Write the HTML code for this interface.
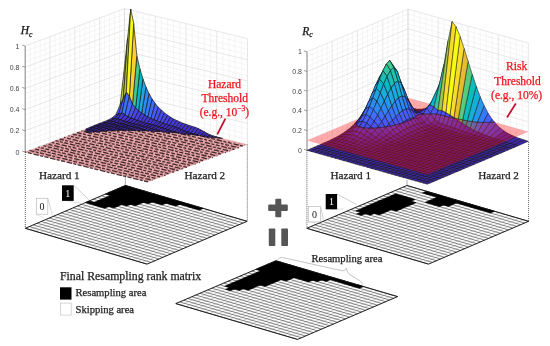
<!DOCTYPE html>
<html><head><meta charset="utf-8"><title>Resampling rank matrix</title>
<style>html,body{margin:0;padding:0;background:#fff;width:550px;height:346px;overflow:hidden}svg{display:block}</style>
</head><body>
<svg width="550" height="346" viewBox="0 0 550 346">
<rect width="550" height="346" fill="#fff"/>
<path d="M119.5 116.5L119.5 10.5M130.7 116.1L130.7 10.1M114.6 118.3L114.6 12.3M136.8 117.6L136.8 11.6M109.6 120.2L109.6 14.2M142.9 119.1L142.9 13.1M104.6 122.1L104.6 16.1M149.1 120.6L149.1 14.6M94.7 125.8L94.7 19.8M161.4 123.6L161.4 17.6M89.7 127.7L89.7 21.7M167.6 125.1L167.6 19.1M84.8 129.6L84.8 23.6M173.7 126.6L173.7 20.6M79.8 131.4L79.8 25.4M179.8 128.1L179.8 22.1M69.9 135.2L69.9 29.2M192.2 131.1L192.2 25.1M64.9 137.0L64.9 31.0M198.3 132.6L198.3 26.6M60.0 138.9L60.0 32.9M204.4 134.1L204.4 28.1M55.0 140.8L55.0 34.8M210.6 135.6L210.6 29.6M45.1 144.5L45.1 38.5M222.9 138.6L222.9 32.6M40.1 146.4L40.1 40.4M229.1 140.1L229.1 34.1M35.1 148.3L35.1 42.3M235.2 141.6L235.2 35.6M30.2 150.1L30.2 44.1M241.3 143.1L241.3 37.1M25.2 146.7L124.5 109.3M124.5 109.3L247.5 139.3M25.2 141.4L124.5 104.0M124.5 104.0L247.5 134.0M25.2 136.1L124.5 98.7M124.5 98.7L247.5 128.7M25.2 125.5L124.5 88.1M124.5 88.1L247.5 118.1M25.2 120.2L124.5 82.8M124.5 82.8L247.5 112.8M25.2 114.9L124.5 77.5M124.5 77.5L247.5 107.5M25.2 104.3L124.5 66.9M124.5 66.9L247.5 96.9M25.2 99.0L124.5 61.6M124.5 61.6L247.5 91.6M25.2 93.7L124.5 56.3M124.5 56.3L247.5 86.3M25.2 83.1L124.5 45.7M124.5 45.7L247.5 75.7M25.2 77.8L124.5 40.4M124.5 40.4L247.5 70.4M25.2 72.5L124.5 35.1M124.5 35.1L247.5 65.1M25.2 61.9L124.5 24.5M124.5 24.5L247.5 54.5M25.2 56.6L124.5 19.2M124.5 19.2L247.5 49.2M25.2 51.3L124.5 13.9M124.5 13.9L247.5 43.9" stroke="#e4e4e4" stroke-width="0.5" stroke-dasharray="2,0.6" fill="none"/><path d="M124.5 114.6L124.5 8.6M124.5 114.6L124.5 8.6M99.7 123.9L99.7 17.9M155.2 122.1L155.2 16.1M74.8 133.3L74.8 27.3M186.0 129.6L186.0 23.6M50.0 142.6L50.0 36.6M216.8 137.1L216.8 31.1M25.2 152.0L25.2 46.0M247.5 144.6L247.5 38.6M25.2 152.0L124.5 114.6M124.5 114.6L247.5 144.6M25.2 130.8L124.5 93.4M124.5 93.4L247.5 123.4M25.2 109.6L124.5 72.2M124.5 72.2L247.5 102.2M25.2 88.4L124.5 51.0M124.5 51.0L247.5 81.0M25.2 67.2L124.5 29.8M124.5 29.8L247.5 59.8M25.2 46.0L124.5 8.6M124.5 8.6L247.5 38.6" stroke="#d6d6d6" stroke-width="0.6" fill="none"/>
<path d="M402.9 109.7L402.9 11.2M414.0 109.3L414.0 10.8M397.9 111.9L397.9 13.4M420.0 111.0L420.0 12.5M392.9 114.0L392.9 15.5M426.0 112.7L426.0 14.2M387.8 116.1L387.8 17.6M432.1 114.4L432.1 15.9M377.7 120.4L377.7 21.9M444.1 117.8L444.1 19.3M372.6 122.5L372.6 24.0M450.1 119.5L450.1 21.0M367.6 124.7L367.6 26.2M456.1 121.2L456.1 22.7M362.6 126.8L362.6 28.3M462.1 122.9L462.1 24.4M352.4 131.1L352.4 32.6M474.2 126.2L474.2 27.7M347.4 133.2L347.4 34.7M480.2 127.9L480.2 29.4M342.4 135.4L342.4 36.9M486.2 129.6L486.2 31.1M337.3 137.5L337.3 39.0M492.2 131.3L492.2 32.8M327.2 141.8L327.2 43.3M504.2 134.7L504.2 36.2M322.1 143.9L322.1 45.4M510.3 136.4L510.3 37.9M317.1 146.0L317.1 47.5M516.3 138.1L516.3 39.6M312.1 148.2L312.1 49.7M522.3 139.8L522.3 41.3M307.0 145.4L408.0 102.7M408.0 102.7L528.3 136.6M307.0 140.5L408.0 97.8M408.0 97.8L528.3 131.7M307.0 135.5L408.0 92.8M408.0 92.8L528.3 126.7M307.0 125.7L408.0 83.0M408.0 83.0L528.3 116.9M307.0 120.8L408.0 78.0M408.0 78.0L528.3 112.0M307.0 115.8L408.0 73.1M408.0 73.1L528.3 107.0M307.0 106.0L408.0 63.3M408.0 63.3L528.3 97.2M307.0 101.1L408.0 58.3M408.0 58.3L528.3 92.2M307.0 96.1L408.0 53.4M408.0 53.4L528.3 87.3M307.0 86.3L408.0 43.6M408.0 43.6L528.3 77.5M307.0 81.4L408.0 38.7M408.0 38.7L528.3 72.6M307.0 76.4L408.0 33.7M408.0 33.7L528.3 67.6M307.0 66.6L408.0 23.9M408.0 23.9L528.3 57.8M307.0 61.7L408.0 18.9M408.0 18.9L528.3 52.8M307.0 56.7L408.0 14.0M408.0 14.0L528.3 47.9" stroke="#e4e4e4" stroke-width="0.5" stroke-dasharray="2,0.6" fill="none"/><path d="M408.0 107.6L408.0 9.1M408.0 107.6L408.0 9.1M382.8 118.3L382.8 19.8M438.1 116.1L438.1 17.6M357.5 128.9L357.5 30.4M468.1 124.5L468.1 26.0M332.2 139.6L332.2 41.1M498.2 133.0L498.2 34.5M307.0 150.3L307.0 51.8M528.3 141.5L528.3 43.0M307.0 150.3L408.0 107.6M408.0 107.6L528.3 141.5M307.0 130.6L408.0 87.9M408.0 87.9L528.3 121.8M307.0 110.9L408.0 68.2M408.0 68.2L528.3 102.1M307.0 91.2L408.0 48.5M408.0 48.5L528.3 82.4M307.0 71.5L408.0 28.8M408.0 28.8L528.3 62.7M307.0 51.8L408.0 9.1M408.0 9.1L528.3 43.0" stroke="#d6d6d6" stroke-width="0.6" fill="none"/>
<line x1="25.2" y1="152.0" x2="25.2" y2="46.0" stroke="#8c8c8c" stroke-width="1"/><line x1="22.2" y1="151.0" x2="25.2" y2="152.0" stroke="#777" stroke-width="0.7"/><text x="19.5" y="154.5" font-family="'Liberation Sans', Arial, sans-serif" font-size="7" fill="#444" text-anchor="end">0</text><line x1="22.2" y1="129.8" x2="25.2" y2="130.8" stroke="#777" stroke-width="0.7"/><text x="19.5" y="133.3" font-family="'Liberation Sans', Arial, sans-serif" font-size="7" fill="#444" text-anchor="end">0.2</text><line x1="22.2" y1="108.6" x2="25.2" y2="109.6" stroke="#777" stroke-width="0.7"/><text x="19.5" y="112.1" font-family="'Liberation Sans', Arial, sans-serif" font-size="7" fill="#444" text-anchor="end">0.4</text><line x1="22.2" y1="87.4" x2="25.2" y2="88.4" stroke="#777" stroke-width="0.7"/><text x="19.5" y="90.9" font-family="'Liberation Sans', Arial, sans-serif" font-size="7" fill="#444" text-anchor="end">0.6</text><line x1="22.2" y1="66.2" x2="25.2" y2="67.2" stroke="#777" stroke-width="0.7"/><text x="19.5" y="69.7" font-family="'Liberation Sans', Arial, sans-serif" font-size="7" fill="#444" text-anchor="end">0.8</text><line x1="22.2" y1="45.0" x2="25.2" y2="46.0" stroke="#777" stroke-width="0.7"/><text x="19.5" y="48.5" font-family="'Liberation Sans', Arial, sans-serif" font-size="7" fill="#444" text-anchor="end">1</text>
<line x1="307.0" y1="150.3" x2="307.0" y2="51.8" stroke="#8c8c8c" stroke-width="1"/><line x1="304.0" y1="149.3" x2="307.0" y2="150.3" stroke="#777" stroke-width="0.7"/><text x="302.0" y="152.8" font-family="'Liberation Sans', Arial, sans-serif" font-size="7" fill="#444" text-anchor="end">0</text><line x1="304.0" y1="129.6" x2="307.0" y2="130.6" stroke="#777" stroke-width="0.7"/><text x="302.0" y="133.1" font-family="'Liberation Sans', Arial, sans-serif" font-size="7" fill="#444" text-anchor="end">0.2</text><line x1="304.0" y1="109.9" x2="307.0" y2="110.9" stroke="#777" stroke-width="0.7"/><text x="302.0" y="113.4" font-family="'Liberation Sans', Arial, sans-serif" font-size="7" fill="#444" text-anchor="end">0.4</text><line x1="304.0" y1="90.2" x2="307.0" y2="91.2" stroke="#777" stroke-width="0.7"/><text x="302.0" y="93.7" font-family="'Liberation Sans', Arial, sans-serif" font-size="7" fill="#444" text-anchor="end">0.6</text><line x1="304.0" y1="70.5" x2="307.0" y2="71.5" stroke="#777" stroke-width="0.7"/><text x="302.0" y="74.0" font-family="'Liberation Sans', Arial, sans-serif" font-size="7" fill="#444" text-anchor="end">0.8</text><line x1="304.0" y1="50.8" x2="307.0" y2="51.8" stroke="#777" stroke-width="0.7"/><text x="302.0" y="54.3" font-family="'Liberation Sans', Arial, sans-serif" font-size="7" fill="#444" text-anchor="end">1</text>
<polygon points="25.2,152 124.5,114.6 247.5,144.6 148.2,182" fill="#eaa8ac"/>
<g stroke="#1c0c0e" stroke-width="1.3" stroke-dasharray="5.5,1.3,3,1.5,4,1.8" fill="none" opacity="0.8"><path d="M120.2 116.2L243.2 146.2" stroke-dashoffset="3.2"/><path d="M115.9 117.9L238.9 147.9" stroke-dashoffset="1.5"/><path d="M111.5 119.5L234.5 149.5" stroke-dashoffset="6.5"/><path d="M107.2 121.1L230.2 151.1" stroke-dashoffset="0.7"/><path d="M102.9 122.7L225.9 152.7" stroke-dashoffset="5.4"/><path d="M98.6 124.4L221.6 154.4" stroke-dashoffset="3.7"/><path d="M94.3 126.0L217.3 156.0" stroke-dashoffset="0.6"/><path d="M90.0 127.6L213.0 157.6" stroke-dashoffset="5.1"/><path d="M85.6 129.2L208.6 159.2" stroke-dashoffset="0.4"/><path d="M81.3 130.9L204.3 160.9" stroke-dashoffset="4.3"/><path d="M77.0 132.5L200.0 162.5" stroke-dashoffset="0.7"/><path d="M72.7 134.1L195.7 164.1" stroke-dashoffset="0.9"/><path d="M68.4 135.7L191.4 165.7" stroke-dashoffset="4.2"/><path d="M64.1 137.4L187.1 167.4" stroke-dashoffset="8.3"/><path d="M59.7 139.0L182.7 169.0" stroke-dashoffset="1.2"/><path d="M55.4 140.6L178.4 170.6" stroke-dashoffset="2.2"/><path d="M51.1 142.2L174.1 172.2" stroke-dashoffset="6.3"/><path d="M46.8 143.9L169.8 173.9" stroke-dashoffset="9.5"/><path d="M42.5 145.5L165.5 175.5" stroke-dashoffset="5.8"/><path d="M38.2 147.1L161.2 177.1" stroke-dashoffset="4.0"/><path d="M33.8 148.7L156.8 178.7" stroke-dashoffset="9.8"/><path d="M29.5 150.4L152.5 180.4" stroke-dashoffset="0.5"/><path d="M25.2 152.0L148.2 182.0" stroke-dashoffset="8.6"/></g>
<g stroke="#1c0c0e" stroke-width="0.8" stroke-dasharray="1.2,3.5,2,4" fill="none" opacity="0.4"><path d="M122.3 115.4L245.3 145.4" stroke-dashoffset="2.9"/><path d="M118.0 117.0L241.0 147.0" stroke-dashoffset="1.4"/><path d="M113.7 118.7L236.7 148.7" stroke-dashoffset="1.2"/><path d="M109.4 120.3L232.4 150.3" stroke-dashoffset="3.1"/><path d="M105.1 121.9L228.1 151.9" stroke-dashoffset="8.2"/><path d="M100.8 123.5L223.8 153.5" stroke-dashoffset="1.8"/><path d="M96.4 125.2L219.4 155.2" stroke-dashoffset="5.8"/><path d="M92.1 126.8L215.1 156.8" stroke-dashoffset="6.4"/><path d="M87.8 128.4L210.8 158.4" stroke-dashoffset="3.7"/><path d="M83.5 130.0L206.5 160.0" stroke-dashoffset="5.5"/><path d="M79.2 131.7L202.2 161.7" stroke-dashoffset="0.6"/><path d="M74.8 133.3L197.8 163.3" stroke-dashoffset="0.6"/><path d="M70.5 134.9L193.5 164.9" stroke-dashoffset="2.1"/><path d="M66.2 136.6L189.2 166.6" stroke-dashoffset="6.8"/><path d="M61.9 138.2L184.9 168.2" stroke-dashoffset="4.3"/><path d="M57.6 139.8L180.6 169.8" stroke-dashoffset="3.1"/><path d="M53.3 141.4L176.3 171.4" stroke-dashoffset="5.9"/><path d="M48.9 143.1L171.9 173.1" stroke-dashoffset="4.5"/><path d="M44.6 144.7L167.6 174.7" stroke-dashoffset="3.0"/><path d="M40.3 146.3L163.3 176.3" stroke-dashoffset="7.9"/><path d="M36.0 147.9L159.0 177.9" stroke-dashoffset="7.0"/><path d="M31.7 149.6L154.7 179.6" stroke-dashoffset="2.4"/><path d="M27.4 151.2L150.4 181.2" stroke-dashoffset="5.7"/></g>
<polygon points="120.2,104.5 115.9,114.7 118.9,113.8 123.3,98.4" fill="#465efb" stroke="#111" stroke-width="0.65"/>
<polygon points="115.9,114.7 111.5,118.3 114.6,118.7 118.9,113.8" fill="#4332cb" stroke="#111" stroke-width="0.65"/>
<polygon points="118.9,113.8 114.6,118.7 117.7,119 122,112.9" fill="#4332cb" stroke="#111" stroke-width="0.65"/>
<polygon points="111.5,118.3 107.2,120.4 110.3,121.1 114.6,118.7" fill="#402ab4" stroke="#111" stroke-width="0.65"/>
<polygon points="123.3,98.4 118.9,113.8 122,112.9 126.3,92.1" fill="#465efb" stroke="#111" stroke-width="0.65"/>
<polygon points="122,112.9 117.7,119 120.8,119.9 125.1,114.4" fill="#4537d5" stroke="#111" stroke-width="0.65"/>
<polygon points="114.6,118.7 110.3,121.1 113.4,121.7 117.7,119" fill="#402ab4" stroke="#111" stroke-width="0.65"/>
<polygon points="125.1,114.4 120.8,119.9 123.8,121.1 128.2,116.8" fill="#4332cb" stroke="#111" stroke-width="0.65"/>
<polygon points="126.3,92.1 122,112.9 125.1,114.4 129.4,96" fill="#3875fe" stroke="#111" stroke-width="0.65"/>
<polygon points="129.4,96 125.1,114.4 128.2,116.8 132.5,104.1" fill="#4269fe" stroke="#111" stroke-width="0.65"/>
<polygon points="132.5,104.1 128.2,116.8 131.2,118.2 135.6,107.7" fill="#4852f4" stroke="#111" stroke-width="0.65"/>
<polygon points="107.2,120.4 102.9,122.2 106,122.9 110.3,121.1" fill="#3e26a8" stroke="#111" stroke-width="0.65"/>
<polygon points="117.7,119 113.4,121.7 116.5,122.5 120.8,119.9" fill="#402ab4" stroke="#111" stroke-width="0.65"/>
<polygon points="128.2,116.8 123.8,121.1 126.9,122 131.2,118.2" fill="#422ec0" stroke="#111" stroke-width="0.65"/>
<polygon points="135.6,107.7 131.2,118.2 134.3,119.4 138.6,110.6" fill="#4747eb" stroke="#111" stroke-width="0.65"/>
<polygon points="120.8,119.9 116.5,122.5 119.5,123.4 123.8,121.1" fill="#402ab4" stroke="#111" stroke-width="0.65"/>
<polygon points="138.6,110.6 134.3,119.4 137.4,120.6 141.7,113" fill="#4741e5" stroke="#111" stroke-width="0.65"/>
<polygon points="110.3,121.1 106,122.9 109.1,123.6 113.4,121.7" fill="#3e26a8" stroke="#111" stroke-width="0.65"/>
<polygon points="131.2,118.2 126.9,122 130,122.8 134.3,119.4" fill="#422ec0" stroke="#111" stroke-width="0.65"/>
<polygon points="141.7,113 137.4,120.6 140.5,121.6 144.8,115.1" fill="#463cde" stroke="#111" stroke-width="0.65"/>
<polygon points="124.5,66.4 120.2,104.5 123.3,98.4 127.6,38.2" fill="#b9c431" stroke="#111" stroke-width="0.65"/>
<polygon points="123.8,121.1 119.5,123.4 122.6,124.1 126.9,122" fill="#402ab4" stroke="#111" stroke-width="0.65"/>
<polygon points="113.4,121.7 109.1,123.6 112.1,124.4 116.5,122.5" fill="#402ab4" stroke="#111" stroke-width="0.65"/>
<polygon points="134.3,119.4 130,122.8 133.1,123.7 137.4,120.6" fill="#422ec0" stroke="#111" stroke-width="0.65"/>
<polygon points="102.9,122.2 98.6,123.8 101.7,124.6 106,122.9" fill="#3e26a8" stroke="#111" stroke-width="0.65"/>
<polygon points="144.8,115.1 140.5,121.6 143.5,122.6 147.9,116.9" fill="#4537d5" stroke="#111" stroke-width="0.65"/>
<polygon points="126.9,122 122.6,124.1 125.7,124.9 130,122.8" fill="#402ab4" stroke="#111" stroke-width="0.65"/>
<polygon points="137.4,120.6 133.1,123.7 136.1,124.5 140.5,121.6" fill="#422ec0" stroke="#111" stroke-width="0.65"/>
<polygon points="116.5,122.5 112.1,124.4 115.2,125.1 119.5,123.4" fill="#3e26a8" stroke="#111" stroke-width="0.65"/>
<polygon points="106,122.9 101.7,124.6 104.7,125.3 109.1,123.6" fill="#3e26a8" stroke="#111" stroke-width="0.65"/>
<polygon points="146,87.1 141.7,113 144.8,115.1 149.1,93.7" fill="#2d8cf3" stroke="#111" stroke-width="0.65"/>
<polygon points="147.9,116.9 143.5,122.6 146.6,123.5 150.9,118.5" fill="#4537d5" stroke="#111" stroke-width="0.65"/>
<polygon points="142.9,78.8 138.6,110.6 141.7,113 146,87.1" fill="#20a5e3" stroke="#111" stroke-width="0.65"/>
<polygon points="149.1,93.7 144.8,115.1 147.9,116.9 152.2,99.1" fill="#327cfc" stroke="#111" stroke-width="0.65"/>
<polygon points="152.2,99.1 147.9,116.9 150.9,118.5 155.2,103.5" fill="#4269fe" stroke="#111" stroke-width="0.65"/>
<polygon points="139.9,68.8 135.6,107.7 138.6,110.6 142.9,78.8" fill="#01b8ca" stroke="#111" stroke-width="0.65"/>
<polygon points="130,122.8 125.7,124.9 128.8,125.7 133.1,123.7" fill="#402ab4" stroke="#111" stroke-width="0.65"/>
<polygon points="140.5,121.6 136.1,124.5 139.2,125.3 143.5,122.6" fill="#402ab4" stroke="#111" stroke-width="0.65"/>
<polygon points="119.5,123.4 115.2,125.1 118.3,125.9 122.6,124.1" fill="#3e26a8" stroke="#111" stroke-width="0.65"/>
<polygon points="109.1,123.6 104.7,125.3 107.8,126.1 112.1,124.4" fill="#3e26a8" stroke="#111" stroke-width="0.65"/>
<polygon points="155.2,103.5 150.9,118.5 154,119.8 158.3,107.2" fill="#465efb" stroke="#111" stroke-width="0.65"/>
<polygon points="150.9,118.5 146.6,123.5 149.7,124.4 154,119.8" fill="#4332cb" stroke="#111" stroke-width="0.65"/>
<polygon points="98.6,123.8 94.3,125.5 97.4,126.2 101.7,124.6" fill="#3e26a8" stroke="#111" stroke-width="0.65"/>
<polygon points="136.8,55.6 132.5,104.1 135.6,107.7 139.9,68.8" fill="#3fca8e" stroke="#111" stroke-width="0.65"/>
<polygon points="158.3,107.2 154,119.8 157.1,121.1 161.4,110.1" fill="#4852f4" stroke="#111" stroke-width="0.65"/>
<polygon points="133.1,123.7 128.8,125.7 131.8,126.4 136.1,124.5" fill="#402ab4" stroke="#111" stroke-width="0.65"/>
<polygon points="143.5,122.6 139.2,125.3 142.3,126.1 146.6,123.5" fill="#402ab4" stroke="#111" stroke-width="0.65"/>
<polygon points="122.6,124.1 118.3,125.9 121.4,126.7 125.7,124.9" fill="#3e26a8" stroke="#111" stroke-width="0.65"/>
<polygon points="112.1,124.4 107.8,126.1 110.9,126.8 115.2,125.1" fill="#3e26a8" stroke="#111" stroke-width="0.65"/>
<polygon points="154,119.8 149.7,124.4 152.8,125.2 157.1,121.1" fill="#4332cb" stroke="#111" stroke-width="0.65"/>
<polygon points="101.7,124.6 97.4,126.2 100.4,126.9 104.7,125.3" fill="#3e26a8" stroke="#111" stroke-width="0.65"/>
<polygon points="161.4,110.1 157.1,121.1 160.2,122.3 164.5,112.9" fill="#484df0" stroke="#111" stroke-width="0.65"/>
<polygon points="146.6,123.5 142.3,126.1 145.4,126.8 149.7,124.4" fill="#402ab4" stroke="#111" stroke-width="0.65"/>
<polygon points="136.1,124.5 131.8,126.4 134.9,127.2 139.2,125.3" fill="#402ab4" stroke="#111" stroke-width="0.65"/>
<polygon points="125.7,124.9 121.4,126.7 124.4,127.4 128.8,125.7" fill="#3e26a8" stroke="#111" stroke-width="0.65"/>
<polygon points="157.1,121.1 152.8,125.2 155.8,126.1 160.2,122.3" fill="#422ec0" stroke="#111" stroke-width="0.65"/>
<polygon points="115.2,125.1 110.9,126.8 114,127.6 118.3,125.9" fill="#3e26a8" stroke="#111" stroke-width="0.65"/>
<polygon points="164.5,112.9 160.2,122.3 163.2,123.4 167.6,115.2" fill="#4747eb" stroke="#111" stroke-width="0.65"/>
<polygon points="104.7,125.3 100.4,126.9 103.5,127.7 107.8,126.1" fill="#3e26a8" stroke="#111" stroke-width="0.65"/>
<polygon points="94.3,125.5 90,127.3 93,127.8 97.4,126.2" fill="#3e26a8" stroke="#111" stroke-width="0.65"/>
<polygon points="149.7,124.4 145.4,126.8 148.4,127.6 152.8,125.2" fill="#402ab4" stroke="#111" stroke-width="0.65"/>
<polygon points="139.2,125.3 134.9,127.2 138,128 142.3,126.1" fill="#402ab4" stroke="#111" stroke-width="0.65"/>
<polygon points="167.6,115.2 163.2,123.4 166.3,124.5 170.6,117.2" fill="#4741e5" stroke="#111" stroke-width="0.65"/>
<polygon points="128.8,125.7 124.4,127.4 127.5,128.3 131.8,126.4" fill="#3e26a8" stroke="#111" stroke-width="0.65"/>
<polygon points="160.2,122.3 155.8,126.1 158.9,126.9 163.2,123.4" fill="#422ec0" stroke="#111" stroke-width="0.65"/>
<polygon points="118.3,125.9 114,127.6 117,128.4 121.4,126.7" fill="#3e26a8" stroke="#111" stroke-width="0.65"/>
<polygon points="107.8,126.1 103.5,127.7 106.6,128.5 110.9,126.8" fill="#3e26a8" stroke="#111" stroke-width="0.65"/>
<polygon points="133.7,23.3 129.4,96 132.5,104.1 136.8,55.6" fill="#fccf30" stroke="#111" stroke-width="0.65"/>
<polygon points="97.4,126.2 93,127.8 96.1,128.6 100.4,126.9" fill="#3e26a8" stroke="#111" stroke-width="0.65"/>
<polygon points="170.6,117.2 166.3,124.5 169.4,125.4 173.7,119" fill="#463cde" stroke="#111" stroke-width="0.65"/>
<polygon points="127.6,38.2 123.3,98.4 126.3,92.1 130.7,9" fill="#b9c431" stroke="#111" stroke-width="0.65"/>
<polygon points="152.8,125.2 148.4,127.6 151.5,128.6 155.8,126.1" fill="#402ab4" stroke="#111" stroke-width="0.65"/>
<polygon points="142.3,126.1 138,128 141.1,129 145.4,126.8" fill="#402ab4" stroke="#111" stroke-width="0.65"/>
<polygon points="131.8,126.4 127.5,128.3 130.6,129.2 134.9,127.2" fill="#3e26a8" stroke="#111" stroke-width="0.65"/>
<polygon points="163.2,123.4 158.9,126.9 162,127.8 166.3,124.5" fill="#422ec0" stroke="#111" stroke-width="0.65"/>
<polygon points="121.4,126.7 117,128.4 120.1,129.3 124.4,127.4" fill="#3e26a8" stroke="#111" stroke-width="0.65"/>
<polygon points="110.9,126.8 106.6,128.5 109.7,129.4 114,127.6" fill="#3e26a8" stroke="#111" stroke-width="0.65"/>
<polygon points="100.4,126.9 96.1,128.6 99.2,129.4 103.5,127.7" fill="#3e26a8" stroke="#111" stroke-width="0.65"/>
<polygon points="90,127.3 86.7,128.7 86.4,129.3 88.7,129.7 93,127.8" fill="#3e26a8" stroke="#111" stroke-width="0.65"/>
<polygon points="173.7,119 169.4,125.4 172.5,126.4 176.8,120.5" fill="#463cde" stroke="#111" stroke-width="0.65"/>
<polygon points="155.8,126.1 151.5,128.6 154.6,129.5 158.9,126.9" fill="#402ab4" stroke="#111" stroke-width="0.65"/>
<polygon points="145.4,126.8 141.1,129 144.1,129.9 148.4,127.6" fill="#402ab4" stroke="#111" stroke-width="0.65"/>
<polygon points="166.3,124.5 162,127.8 165.1,128.8 169.4,125.4" fill="#422ec0" stroke="#111" stroke-width="0.65"/>
<polygon points="134.9,127.2 130.6,129.2 133.7,130.1 138,128" fill="#3e26a8" stroke="#111" stroke-width="0.65"/>
<polygon points="124.4,127.4 120.1,129.3 123.2,130.2 127.5,128.3" fill="#3e26a8" stroke="#111" stroke-width="0.65"/>
<polygon points="114,127.6 109.7,129.4 112.7,130.3 117,128.4" fill="#3e26a8" stroke="#111" stroke-width="0.65"/>
<polygon points="103.5,127.7 99.2,129.4 102.3,130.4 106.6,128.5" fill="#3e26a8" stroke="#111" stroke-width="0.65"/>
<polygon points="176.8,120.5 172.5,126.4 175.5,127.3 179.8,121.9" fill="#4537d5" stroke="#111" stroke-width="0.65"/>
<polygon points="93,127.8 88.7,129.7 91.8,130.3 96.1,128.6" fill="#3e26a8" stroke="#111" stroke-width="0.65"/>
<polygon points="158.9,126.9 154.6,129.5 157.7,130.5 162,127.8" fill="#402ab4" stroke="#111" stroke-width="0.65"/>
<polygon points="148.4,127.6 144.1,129.9 146.5,130.6 147.5,130.6 151.5,128.6" fill="#402ab4" stroke="#111" stroke-width="0.65"/>
<polygon points="169.4,125.4 165.1,128.8 168.1,129.9 172.5,126.4" fill="#422ec0" stroke="#111" stroke-width="0.65"/>
<polygon points="138,128 133.7,130.1 134.4,130.3 137.7,130.5 141.1,129" fill="#3e26a8" stroke="#111" stroke-width="0.65"/>
<polygon points="127.5,128.3 123.2,130.2 123.3,130.3 127.7,130.5 130.6,129.2" fill="#3e26a8" stroke="#111" stroke-width="0.65"/>
<polygon points="130.7,9 126.3,92.1 129.4,96 133.7,23.3" fill="#f9fb15" stroke="#111" stroke-width="0.65"/>
<polygon points="117,128.4 112.7,130.3 113.5,130.6 117.3,130.6 120.1,129.3" fill="#3e26a8" stroke="#111" stroke-width="0.65"/>
<polygon points="179.8,121.9 175.5,127.3 178.6,128.4 182.9,123.2" fill="#4537d5" stroke="#111" stroke-width="0.65"/>
<polygon points="106.6,128.5 102.3,130.4 104.4,131 106.2,130.9 109.7,129.4" fill="#3e26a8" stroke="#111" stroke-width="0.65"/>
<polygon points="96.1,128.6 91.8,130.3 94.9,131.3 99.2,129.4" fill="#3e26a8" stroke="#111" stroke-width="0.65"/>
<polygon points="86.4,129.3 85.6,131.1 88.7,129.7" fill="#3e26a8" stroke="#111" stroke-width="0.65"/>
<polygon points="162,127.8 157.7,130.5 160.1,131.2 160.9,131.3 165.1,128.8" fill="#402ab4" stroke="#111" stroke-width="0.65"/>
<polygon points="151.5,128.6 147.5,130.6 151.2,131.2 154.6,129.5" fill="#3e26a8" stroke="#111" stroke-width="0.65"/>
<polygon points="172.5,126.4 168.1,129.9 171.2,131 175.5,127.3" fill="#422ec0" stroke="#111" stroke-width="0.65"/>
<polygon points="141.1,129 137.7,130.5 141.8,130.9 144.1,129.9" fill="#3e26a8" stroke="#111" stroke-width="0.65"/>
<polygon points="130.6,129.2 127.7,130.5 132.8,130.4 133.7,130.1" fill="#3e26a8" stroke="#111" stroke-width="0.65"/>
<polygon points="120.1,129.3 117.3,130.6 123,130.3 123.2,130.2" fill="#3e26a8" stroke="#111" stroke-width="0.65"/>
<polygon points="182.9,123.2 178.6,128.4 181.7,129.7 186,124.3" fill="#4332cb" stroke="#111" stroke-width="0.65"/>
<polygon points="109.7,129.4 106.2,130.9 111.7,130.8 112.7,130.3" fill="#3e26a8" stroke="#111" stroke-width="0.65"/>
<polygon points="99.2,129.4 94.9,131.3 96.3,131.7 99.8,131.4 102.3,130.4" fill="#3e26a8" stroke="#111" stroke-width="0.65"/>
<polygon points="165.1,128.8 160.9,131.3 164.3,132 168.1,129.9" fill="#402ab4" stroke="#111" stroke-width="0.65"/>
<polygon points="88.7,129.7 85.6,131.1 86.7,132.1 87.5,132.2 91.8,130.3" fill="#3e26a8" stroke="#111" stroke-width="0.65"/>
<polygon points="175.5,127.3 171.2,131 174.3,131.9 178.6,128.4" fill="#402ab4" stroke="#111" stroke-width="0.65"/>
<polygon points="154.6,129.5 151.2,131.2 155.3,131.5 157.7,130.5" fill="#3e26a8" stroke="#111" stroke-width="0.65"/>
<polygon points="146.5,130.6 144.1,129.9 141.8,130.9" fill="#3e26a8" stroke="#111" stroke-width="0.65"/>
<polygon points="134.4,130.3 133.7,130.1 132.8,130.4" fill="#3e26a8" stroke="#111" stroke-width="0.65"/>
<polygon points="186,124.3 181.7,129.7 184.8,131 189.1,125.4" fill="#4332cb" stroke="#111" stroke-width="0.65"/>
<polygon points="123.3,130.3 123.2,130.2 123,130.3" fill="#3e26a8" stroke="#111" stroke-width="0.65"/>
<polygon points="113.5,130.6 112.7,130.3 111.7,130.8" fill="#3e26a8" stroke="#111" stroke-width="0.65"/>
<polygon points="104.4,131 102.3,130.4 99.8,131.4" fill="#3e26a8" stroke="#111" stroke-width="0.65"/>
<polygon points="168.1,129.9 164.3,132 167.8,132.5 171.2,131" fill="#3e26a8" stroke="#111" stroke-width="0.65"/>
<polygon points="178.6,128.4 174.3,131.9 176.5,132.5 177.4,132.7 181.7,129.7" fill="#402ab4" stroke="#111" stroke-width="0.65"/>
<polygon points="91.8,130.3 87.5,132.2 88,132.4 92.9,132.1 94.9,131.3" fill="#3e26a8" stroke="#111" stroke-width="0.65"/>
<polygon points="160.1,131.2 157.7,130.5 155.3,131.5" fill="#3e26a8" stroke="#111" stroke-width="0.65"/>
<polygon points="189.1,125.4 184.8,131 187.8,132.2 192.2,126.4" fill="#4332cb" stroke="#111" stroke-width="0.65"/>
<polygon points="181.7,129.7 177.4,132.7 180.6,133.4 184.8,131" fill="#402ab4" stroke="#111" stroke-width="0.65"/>
<polygon points="171.2,131 167.8,132.5 172.6,132.6 174.3,131.9" fill="#3e26a8" stroke="#111" stroke-width="0.65"/>
<polygon points="96.3,131.7 94.9,131.3 92.9,132.1" fill="#3e26a8" stroke="#111" stroke-width="0.65"/>
<polygon points="86.7,132.1 86.7,132.5 87.5,132.2" fill="#3e26a8" stroke="#111" stroke-width="0.65"/>
<polygon points="192.2,126.4 187.8,132.2 190.9,133.3 195.2,127.3" fill="#4332cb" stroke="#111" stroke-width="0.65"/>
<polygon points="184.8,131 180.6,133.4 184,134.1 187.8,132.2" fill="#402ab4" stroke="#111" stroke-width="0.65"/>
<polygon points="176.5,132.5 174.3,131.9 172.6,132.6" fill="#3e26a8" stroke="#111" stroke-width="0.65"/>
<polygon points="88,132.4 87.5,132.2 86.7,132.5" fill="#3e26a8" stroke="#111" stroke-width="0.65"/>
<polygon points="195.2,127.3 190.9,133.3 194,134.1 198.3,128.6" fill="#4332cb" stroke="#111" stroke-width="0.65"/>
<polygon points="187.8,132.2 184,134.1 188.1,134.4 190.9,133.3" fill="#3e26a8" stroke="#111" stroke-width="0.65"/>
<polygon points="198.3,128.6 194,134.1 197.1,134.9 201.4,130.1" fill="#422ec0" stroke="#111" stroke-width="0.65"/>
<polygon points="190.9,133.3 188.1,134.4 192.3,134.7 194,134.1" fill="#3e26a8" stroke="#111" stroke-width="0.65"/>
<polygon points="201.4,130.1 197.1,134.9 198.7,135.3 200.2,135.6 204.4,131.8" fill="#422ec0" stroke="#111" stroke-width="0.65"/>
<polygon points="194,134.1 192.3,134.7 196.4,135.1 197.1,134.9" fill="#3e26a8" stroke="#111" stroke-width="0.65"/>
<polygon points="204.4,131.8 200.2,135.6 203.3,136.3 207.5,133.5" fill="#402ab4" stroke="#111" stroke-width="0.65"/>
<polygon points="207.5,133.5 203.3,136.3 206.6,137 210.6,135" fill="#402ab4" stroke="#111" stroke-width="0.65"/>
<polygon points="198.7,135.3 197.1,134.9 196.4,135.1" fill="#3e26a8" stroke="#111" stroke-width="0.65"/>
<polygon points="210.6,135 206.6,137 210.8,137.3 213.7,136.1" fill="#3e26a8" stroke="#111" stroke-width="0.65"/>
<polygon points="213.7,136.1 210.8,137.3 214.8,137.7 216.8,136.9" fill="#3e26a8" stroke="#111" stroke-width="0.65"/>
<polygon points="216.8,136.9 214.8,137.7 218.8,138.1 219.8,137.7" fill="#3e26a8" stroke="#111" stroke-width="0.65"/>
<polygon points="222.6,138.4 219.8,137.7 218.8,138.1" fill="#3e26a8" stroke="#111" stroke-width="0.65"/>
<polygon points="408,107.4 397.9,110.3 401.9,110.2 412,108.3" fill="#3e26a8" stroke="#111" stroke-width="0.5"/>
<polygon points="412,108.3 401.9,110.2 405.9,110 416,109" fill="#3e26a8" stroke="#111" stroke-width="0.5"/>
<polygon points="416,109 405.9,110 409.9,110.5 420,109.3" fill="#402ab4" stroke="#111" stroke-width="0.5"/>
<polygon points="397.9,110.3 394.5,110.2 398.5,108.7 401.9,110.2" fill="#402ab4" stroke="#111" stroke-width="0.5"/>
<polygon points="420,109.3 409.9,110.5 413.9,111.7 424,108.9" fill="#402ab4" stroke="#111" stroke-width="0.5"/>
<polygon points="401.9,110.2 398.5,108.7 402.6,107.2 405.9,110" fill="#422ec0" stroke="#111" stroke-width="0.5"/>
<polygon points="394.5,110.2 391.2,109.2 394.7,105.9 395.6,105.8 398.5,108.7" fill="#422ec0" stroke="#111" stroke-width="0.5"/>
<polygon points="424,108.9 413.9,111.7 417.9,113 428.1,107.3" fill="#422ec0" stroke="#111" stroke-width="0.5"/>
<polygon points="405.9,110 402.6,107.2 406.6,107.2 409.9,110.5" fill="#422ec0" stroke="#111" stroke-width="0.5"/>
<polygon points="431.1,104.2 428.1,107.3 417.9,113 422,113.1 429.7,105.5" fill="#4852f4" stroke="#111" stroke-width="0.5"/>
<polygon points="398.5,108.7 395.6,105.8 401.8,106 402.6,107.2" fill="#4332cb" stroke="#111" stroke-width="0.5"/>
<polygon points="409.9,110.5 406.6,107.2 410.6,108.8 413.9,111.7" fill="#4332cb" stroke="#111" stroke-width="0.5"/>
<polygon points="394.7,105.9 391.2,109.2 387.8,107.3 388.3,106.4" fill="#4332cb" stroke="#111" stroke-width="0.5"/>
<polygon points="413.9,111.7 410.6,108.8 414.6,111.2 417.9,113" fill="#4332cb" stroke="#111" stroke-width="0.5"/>
<polygon points="402.6,107.2 401.8,106 406.4,106.9 406.6,107.2" fill="#463cde" stroke="#111" stroke-width="0.5"/>
<polygon points="417.9,113 414.6,111.2 418.6,112.8 422,113.1" fill="#4332cb" stroke="#111" stroke-width="0.5"/>
<polygon points="429.7,105.5 422,113.1 425.5,109.8" fill="#3875fe" stroke="#111" stroke-width="0.5"/>
<polygon points="406.6,107.2 406.4,106.9 410.2,108.1 410.6,108.8" fill="#463cde" stroke="#111" stroke-width="0.5"/>
<polygon points="388.3,106.4 387.8,107.3 386.9,106.7" fill="#463cde" stroke="#111" stroke-width="0.5"/>
<polygon points="425.5,109.8 422,113.1 418.6,112.8 421.7,111.1" fill="#4332cb" stroke="#111" stroke-width="0.5"/>
<polygon points="410.6,108.8 410.2,108.1 413.4,109.6 414.6,111.2" fill="#463cde" stroke="#111" stroke-width="0.5"/>
<polygon points="414.6,111.2 413.4,109.6 416.2,111.3 418.6,112.8" fill="#4537d5" stroke="#111" stroke-width="0.5"/>
<polygon points="421.7,111.1 418.6,112.8 416.2,111.3" fill="#4537d5" stroke="#111" stroke-width="0.5"/>
<polygon points="422.9,113.8 423.2,113.9 423.3,113.9" fill="#4747eb" stroke="#111" stroke-width="0.5"/>
<polygon points="431,113.7 430.2,113.8 427.3,118.6 431.3,123.6 434.6,119.7" fill="#4747eb" stroke="#111" stroke-width="0.5"/>
<polygon points="431,113.7 434.6,119.7 436.7,113.9" fill="#4758f8" stroke="#111" stroke-width="0.5"/>
<polygon points="423.3,113.9 423.2,113.9 427.3,118.6 430.2,113.8" fill="#4852f4" stroke="#111" stroke-width="0.5"/>
<polygon points="422.9,113.8 417.4,114.6 419.9,117.6 423.2,113.9" fill="#4741e5" stroke="#111" stroke-width="0.5"/>
<polygon points="434.6,119.7 431.3,123.6 435.3,126.2 438.6,122.4" fill="#4332cb" stroke="#111" stroke-width="0.5"/>
<polygon points="423.2,113.9 419.9,117.6 423.9,122.1 427.3,118.6" fill="#4741e5" stroke="#111" stroke-width="0.5"/>
<polygon points="436.7,113.9 434.6,119.7 438.6,122.4 440.8,115" fill="#484df0" stroke="#111" stroke-width="0.5"/>
<polygon points="427.3,118.6 423.9,122.1 427.9,125.7 431.3,123.6" fill="#4537d5" stroke="#111" stroke-width="0.5"/>
<polygon points="438.6,122.4 435.3,126.2 439.3,127.8 442.7,124.1" fill="#422ec0" stroke="#111" stroke-width="0.5"/>
<polygon points="431.3,123.6 427.9,125.7 431.9,127.9 435.3,126.2" fill="#402ab4" stroke="#111" stroke-width="0.5"/>
<polygon points="440.8,115 438.6,122.4 442.7,124.1 445,116" fill="#4852f4" stroke="#111" stroke-width="0.5"/>
<polygon points="419.9,117.6 416.5,118.1 420.5,123.3 423.9,122.1" fill="#4537d5" stroke="#111" stroke-width="0.5"/>
<polygon points="417.4,114.6 415.7,116.5 416.5,118.1 419.9,117.6" fill="#4747eb" stroke="#111" stroke-width="0.5"/>
<polygon points="423.9,122.1 420.5,123.3 424.5,126.9 427.9,125.7" fill="#422ec0" stroke="#111" stroke-width="0.5"/>
<polygon points="435.3,126.2 431.9,127.9 435.9,129.4 439.3,127.8" fill="#402ab4" stroke="#111" stroke-width="0.5"/>
<polygon points="442.7,124.1 439.3,127.8 443.3,129 446.7,125.5" fill="#422ec0" stroke="#111" stroke-width="0.5"/>
<polygon points="427.9,125.7 424.5,126.9 428.5,129.2 431.9,127.9" fill="#402ab4" stroke="#111" stroke-width="0.5"/>
<polygon points="445,116 442.7,124.1 446.7,125.5 449.4,117" fill="#484df0" stroke="#111" stroke-width="0.5"/>
<polygon points="439.3,127.8 435.9,129.4 439.9,130.7 443.3,129" fill="#3e26a8" stroke="#111" stroke-width="0.5"/>
<polygon points="446.7,125.5 443.3,129 447.3,130.2 450.7,127" fill="#422ec0" stroke="#111" stroke-width="0.5"/>
<polygon points="416.5,118.1 413.9,117.8 413.5,118.3 417.2,124 420.5,123.3" fill="#463cde" stroke="#111" stroke-width="0.5"/>
<polygon points="420.5,123.3 417.2,124 421.2,127.9 424.5,126.9" fill="#4332cb" stroke="#111" stroke-width="0.5"/>
<polygon points="431.9,127.9 428.5,129.2 432.6,130.8 435.9,129.4" fill="#3e26a8" stroke="#111" stroke-width="0.5"/>
<polygon points="449.4,117 446.7,125.5 450.7,127 453.9,117.9" fill="#4747eb" stroke="#111" stroke-width="0.5"/>
<polygon points="415.7,116.5 413.9,117.8 416.5,118.1" fill="#4852f4" stroke="#111" stroke-width="0.5"/>
<polygon points="424.5,126.9 421.2,127.9 425.2,130.4 428.5,129.2" fill="#402ab4" stroke="#111" stroke-width="0.5"/>
<polygon points="443.3,129 439.9,130.7 443.9,131.9 447.3,130.2" fill="#3e26a8" stroke="#111" stroke-width="0.5"/>
<polygon points="454.8,118.1 453.9,117.9 450.7,127 454.7,128.4 458,120.3" fill="#4741e5" stroke="#111" stroke-width="0.5"/>
<polygon points="450.7,127 447.3,130.2 451.3,131.4 454.7,128.4" fill="#402ab4" stroke="#111" stroke-width="0.5"/>
<polygon points="435.9,129.4 432.6,130.8 436.6,132.1 439.9,130.7" fill="#3e26a8" stroke="#111" stroke-width="0.5"/>
<polygon points="428.5,129.2 425.2,130.4 429.2,132.2 432.6,130.8" fill="#3e26a8" stroke="#111" stroke-width="0.5"/>
<polygon points="417.2,124 413.8,125 417.8,129.2 421.2,127.9" fill="#4332cb" stroke="#111" stroke-width="0.5"/>
<polygon points="413.5,118.3 410.6,119.8 413.8,125 417.2,124" fill="#4741e5" stroke="#111" stroke-width="0.5"/>
<polygon points="361,117.6 360.9,117.8 360.9,117.7" fill="#4747eb" stroke="#111" stroke-width="0.5"/>
<polygon points="458,120.3 454.7,128.4 458.7,129.9 462.1,123" fill="#463cde" stroke="#111" stroke-width="0.5"/>
<polygon points="421.2,127.9 417.8,129.2 421.8,131.8 425.2,130.4" fill="#402ab4" stroke="#111" stroke-width="0.5"/>
<polygon points="447.3,130.2 443.9,131.9 447.9,133.1 451.3,131.4" fill="#3e26a8" stroke="#111" stroke-width="0.5"/>
<polygon points="454.7,128.4 451.3,131.4 455.3,132.6 458.7,129.9" fill="#402ab4" stroke="#111" stroke-width="0.5"/>
<polygon points="360.9,117.7 360.9,117.8 357.5,121.2 358.7,119.4" fill="#4741e5" stroke="#111" stroke-width="0.5"/>
<polygon points="439.9,130.7 436.6,132.1 440.6,133.3 443.9,131.9" fill="#3e26a8" stroke="#111" stroke-width="0.5"/>
<polygon points="432.6,130.8 429.2,132.2 433.2,133.5 436.6,132.1" fill="#3e26a8" stroke="#111" stroke-width="0.5"/>
<polygon points="358.7,119.4 357.5,121.2 354.1,124.4 357,121.3" fill="#4537d5" stroke="#111" stroke-width="0.5"/>
<polygon points="462.1,123 458.7,129.9 462.7,131.3 466.1,125.6" fill="#4537d5" stroke="#111" stroke-width="0.5"/>
<polygon points="425.2,130.4 421.8,131.8 425.8,133.6 429.2,132.2" fill="#402ab4" stroke="#111" stroke-width="0.5"/>
<polygon points="413.8,125 410.4,126.6 414.4,130.6 417.8,129.2" fill="#4332cb" stroke="#111" stroke-width="0.5"/>
<polygon points="410.6,119.8 407.1,121.2 410.4,126.6 413.8,125" fill="#4741e5" stroke="#111" stroke-width="0.5"/>
<polygon points="458.7,129.9 455.3,132.6 459.3,133.8 462.7,131.3" fill="#402ab4" stroke="#111" stroke-width="0.5"/>
<polygon points="451.3,131.4 447.9,133.1 452,134.2 455.3,132.6" fill="#3e26a8" stroke="#111" stroke-width="0.5"/>
<polygon points="357,121.3 354.1,124.4 350.8,127.4 354.8,124.6 356.5,122.4" fill="#4332cb" stroke="#111" stroke-width="0.5"/>
<polygon points="443.9,131.9 440.6,133.3 444.6,134.5 447.9,133.1" fill="#3e26a8" stroke="#111" stroke-width="0.5"/>
<polygon points="417.8,129.2 414.4,130.6 418.4,133.2 421.8,131.8" fill="#402ab4" stroke="#111" stroke-width="0.5"/>
<polygon points="466.1,125.6 462.7,131.3 466.7,132.7 470.1,128" fill="#4537d5" stroke="#111" stroke-width="0.5"/>
<polygon points="436.6,132.1 433.2,133.5 437.2,134.8 440.6,133.3" fill="#3e26a8" stroke="#111" stroke-width="0.5"/>
<polygon points="429.2,132.2 425.8,133.6 429.8,135 433.2,133.5" fill="#3e26a8" stroke="#111" stroke-width="0.5"/>
<polygon points="350.8,127.4 347.4,130.1 351.4,128.5 354.8,124.6" fill="#4332cb" stroke="#111" stroke-width="0.5"/>
<polygon points="421.8,131.8 418.4,133.2 422.5,135 425.8,133.6" fill="#402ab4" stroke="#111" stroke-width="0.5"/>
<polygon points="462.7,131.3 459.3,133.8 463.3,134.9 466.7,132.7" fill="#402ab4" stroke="#111" stroke-width="0.5"/>
<polygon points="410.4,126.6 407.1,128.3 411.1,132.2 414.4,130.6" fill="#4332cb" stroke="#111" stroke-width="0.5"/>
<polygon points="407.1,121.2 403.2,122.5 407.1,128.3 410.4,126.6" fill="#4741e5" stroke="#111" stroke-width="0.5"/>
<polygon points="455.3,132.6 452,134.2 456,135.3 459.3,133.8" fill="#3e26a8" stroke="#111" stroke-width="0.5"/>
<polygon points="447.9,133.1 444.6,134.5 448.6,135.6 452,134.2" fill="#3e26a8" stroke="#111" stroke-width="0.5"/>
<polygon points="470.1,128 466.7,132.7 470.7,134.1 474.1,130.2" fill="#4332cb" stroke="#111" stroke-width="0.5"/>
<polygon points="440.6,133.3 437.2,134.8 441.2,135.9 444.6,134.5" fill="#3e26a8" stroke="#111" stroke-width="0.5"/>
<polygon points="414.4,130.6 411.1,132.2 415.1,134.7 418.4,133.2" fill="#402ab4" stroke="#111" stroke-width="0.5"/>
<polygon points="347.4,130.1 344,132.5 348,131.8 351.4,128.5" fill="#422ec0" stroke="#111" stroke-width="0.5"/>
<polygon points="433.2,133.5 429.8,135 433.8,136.2 437.2,134.8" fill="#3e26a8" stroke="#111" stroke-width="0.5"/>
<polygon points="425.8,133.6 422.5,135 426.5,136.4 429.8,135" fill="#3e26a8" stroke="#111" stroke-width="0.5"/>
<polygon points="466.7,132.7 463.3,134.9 467.4,136.1 470.7,134.1" fill="#402ab4" stroke="#111" stroke-width="0.5"/>
<polygon points="459.3,133.8 456,135.3 460,136.5 463.3,134.9" fill="#3e26a8" stroke="#111" stroke-width="0.5"/>
<polygon points="403.2,122.5 402.2,122.8 399.7,124.6 403.7,130.2 407.1,128.3" fill="#4741e5" stroke="#111" stroke-width="0.5"/>
<polygon points="474.1,130.2 470.7,134.1 474.7,135.4 478.1,132.2" fill="#422ec0" stroke="#111" stroke-width="0.5"/>
<polygon points="407.1,128.3 403.7,130.2 407.7,133.8 411.1,132.2" fill="#4332cb" stroke="#111" stroke-width="0.5"/>
<polygon points="418.4,133.2 415.1,134.7 419.1,136.4 422.5,135" fill="#402ab4" stroke="#111" stroke-width="0.5"/>
<polygon points="452,134.2 448.6,135.6 452.6,136.8 456,135.3" fill="#3e26a8" stroke="#111" stroke-width="0.5"/>
<polygon points="477.4,122.1 474.1,130.2 478.1,132.2 483.3,122.4" fill="#327cfc" stroke="#111" stroke-width="0.5"/>
<polygon points="472.2,121.5 470.1,128 474.1,130.2 477.4,122.1" fill="#2797eb" stroke="#111" stroke-width="0.5"/>
<polygon points="356.5,122.4 354.8,124.6 356.3,123.5" fill="#4747eb" stroke="#111" stroke-width="0.5"/>
<polygon points="344,132.5 340.7,134.6 344.7,134.5 348,131.8" fill="#402ab4" stroke="#111" stroke-width="0.5"/>
<polygon points="444.6,134.5 441.2,135.9 445.2,137.1 448.6,135.6" fill="#3e26a8" stroke="#111" stroke-width="0.5"/>
<polygon points="483.3,122.4 478.1,132.2 482.1,134 490.1,122.4" fill="#465efb" stroke="#111" stroke-width="0.5"/>
<polygon points="411.1,132.2 407.7,133.8 411.7,136.2 415.1,134.7" fill="#402ab4" stroke="#111" stroke-width="0.5"/>
<polygon points="437.2,134.8 433.8,136.2 437.8,137.3 441.2,135.9" fill="#3e26a8" stroke="#111" stroke-width="0.5"/>
<polygon points="467.3,120.7 466.1,125.6 470.1,128 472.2,121.5" fill="#12b1d6" stroke="#111" stroke-width="0.5"/>
<polygon points="356.3,123.5 354.8,124.6 351.4,128.5 355.4,126.9 356.6,125.1" fill="#463cde" stroke="#111" stroke-width="0.5"/>
<polygon points="399.3,123.7 399.7,124.6 402.2,122.8" fill="#4758f8" stroke="#111" stroke-width="0.5"/>
<polygon points="494.5,122.1 490.1,122.4 482.1,134 486.1,135.6 496.2,124.2" fill="#4758f8" stroke="#111" stroke-width="0.5"/>
<polygon points="429.8,135 426.5,136.4 430.5,137.6 433.8,136.2" fill="#3e26a8" stroke="#111" stroke-width="0.5"/>
<polygon points="470.7,134.1 467.4,136.1 471.4,137.3 474.7,135.4" fill="#3e26a8" stroke="#111" stroke-width="0.5"/>
<polygon points="478.1,132.2 474.7,135.4 478.7,136.7 482.1,134" fill="#402ab4" stroke="#111" stroke-width="0.5"/>
<polygon points="463.3,134.9 460,136.5 464,137.6 467.4,136.1" fill="#3e26a8" stroke="#111" stroke-width="0.5"/>
<polygon points="399.7,124.6 396.3,127.3 400.3,132.2 403.7,130.2" fill="#463cde" stroke="#111" stroke-width="0.5"/>
<polygon points="422.5,135 419.1,136.4 423.1,137.8 426.5,136.4" fill="#3e26a8" stroke="#111" stroke-width="0.5"/>
<polygon points="351.4,128.5 348,131.8 352.1,131.1 355.4,126.9" fill="#4332cb" stroke="#111" stroke-width="0.5"/>
<polygon points="462.7,119.8 462.1,123 466.1,125.6 467.3,120.7" fill="#0bbdbd" stroke="#111" stroke-width="0.5"/>
<polygon points="403.7,130.2 400.3,132.2 404.3,135.5 407.7,133.8" fill="#4332cb" stroke="#111" stroke-width="0.5"/>
<polygon points="456,135.3 452.6,136.8 456.6,137.9 460,136.5" fill="#3e26a8" stroke="#111" stroke-width="0.5"/>
<polygon points="496.2,124.2 486.1,135.6 490.1,137.1 500.2,128" fill="#484df0" stroke="#111" stroke-width="0.5"/>
<polygon points="340.7,134.6 337.3,136.6 341.3,136.9 344.7,134.5" fill="#402ab4" stroke="#111" stroke-width="0.5"/>
<polygon points="415.1,134.7 411.7,136.2 415.7,137.9 419.1,136.4" fill="#402ab4" stroke="#111" stroke-width="0.5"/>
<polygon points="448.6,135.6 445.2,137.1 449.2,138.2 452.6,136.8" fill="#3e26a8" stroke="#111" stroke-width="0.5"/>
<polygon points="399.3,123.7 395,124.9 396.3,127.3 399.7,124.6" fill="#4852f4" stroke="#111" stroke-width="0.5"/>
<polygon points="441.2,135.9 437.8,137.3 441.9,138.5 445.2,137.1" fill="#3e26a8" stroke="#111" stroke-width="0.5"/>
<polygon points="407.7,133.8 404.3,135.5 408.3,137.7 411.7,136.2" fill="#402ab4" stroke="#111" stroke-width="0.5"/>
<polygon points="348,131.8 344.7,134.5 348.7,134.5 352.1,131.1" fill="#422ec0" stroke="#111" stroke-width="0.5"/>
<polygon points="458.3,118.9 458,120.3 462.1,123 462.7,119.8" fill="#57cc7a" stroke="#111" stroke-width="0.5"/>
<polygon points="433.8,136.2 430.5,137.6 434.5,138.8 437.8,137.3" fill="#3e26a8" stroke="#111" stroke-width="0.5"/>
<polygon points="482.1,134 478.7,136.7 482.8,137.9 486.1,135.6" fill="#402ab4" stroke="#111" stroke-width="0.5"/>
<polygon points="474.7,135.4 471.4,137.3 475.4,138.4 478.7,136.7" fill="#3e26a8" stroke="#111" stroke-width="0.5"/>
<polygon points="500.2,128 490.1,137.1 494.1,138.5 504.2,131.1" fill="#4747eb" stroke="#111" stroke-width="0.5"/>
<polygon points="396.3,127.3 392.9,130 397,134.3 400.3,132.2" fill="#463cde" stroke="#111" stroke-width="0.5"/>
<polygon points="426.5,136.4 423.1,137.8 427.1,139 430.5,137.6" fill="#3e26a8" stroke="#111" stroke-width="0.5"/>
<polygon points="467.4,136.1 464,137.6 468,138.7 471.4,137.3" fill="#3e26a8" stroke="#111" stroke-width="0.5"/>
<polygon points="395,124.9 390.3,126 392.9,130 396.3,127.3" fill="#484df0" stroke="#111" stroke-width="0.5"/>
<polygon points="460,136.5 456.6,137.9 460.6,139 464,137.6" fill="#3e26a8" stroke="#111" stroke-width="0.5"/>
<polygon points="419.1,136.4 415.7,137.9 419.7,139.3 423.1,137.8" fill="#3e26a8" stroke="#111" stroke-width="0.5"/>
<polygon points="356.6,125.1 355.4,126.9 359.4,126.8 359.5,126.7" fill="#4747eb" stroke="#111" stroke-width="0.5"/>
<polygon points="400.3,132.2 397,134.3 401,137.3 404.3,135.5" fill="#422ec0" stroke="#111" stroke-width="0.5"/>
<polygon points="337.3,136.6 333.9,138.3 337.9,139 341.3,136.9" fill="#402ab4" stroke="#111" stroke-width="0.5"/>
<polygon points="452.6,136.8 449.2,138.2 453.2,139.3 456.6,137.9" fill="#3e26a8" stroke="#111" stroke-width="0.5"/>
<polygon points="411.7,136.2 408.3,137.7 412.4,139.4 415.7,137.9" fill="#402ab4" stroke="#111" stroke-width="0.5"/>
<polygon points="355.4,126.9 352.1,131.1 356.1,131.4 359.4,126.8" fill="#463cde" stroke="#111" stroke-width="0.5"/>
<polygon points="454.8,118.1 458,120.3 458.3,118.9" fill="#e6bb2d" stroke="#111" stroke-width="0.5"/>
<polygon points="344.7,134.5 341.3,136.9 345.3,137.3 348.7,134.5" fill="#422ec0" stroke="#111" stroke-width="0.5"/>
<polygon points="445.2,137.1 441.9,138.5 445.9,139.6 449.2,138.2" fill="#3e26a8" stroke="#111" stroke-width="0.5"/>
<polygon points="504.2,131.1 494.1,138.5 498.1,139.8 508.2,133.5" fill="#422ec0" stroke="#111" stroke-width="0.5"/>
<polygon points="486.1,135.6 482.8,137.9 486.8,139.1 490.1,137.1" fill="#402ab4" stroke="#111" stroke-width="0.5"/>
<polygon points="437.8,137.3 434.5,138.8 438.5,139.9 441.9,138.5" fill="#3e26a8" stroke="#111" stroke-width="0.5"/>
<polygon points="390.3,126 386.6,126.6 385.6,127.7 389.6,132.7 392.9,130" fill="#4747eb" stroke="#111" stroke-width="0.5"/>
<polygon points="404.3,135.5 401,137.3 405,139.3 408.3,137.7" fill="#402ab4" stroke="#111" stroke-width="0.5"/>
<polygon points="478.7,136.7 475.4,138.4 479.4,139.5 482.8,137.9" fill="#3e26a8" stroke="#111" stroke-width="0.5"/>
<polygon points="392.9,130 389.6,132.7 393.6,136.4 397,134.3" fill="#4537d5" stroke="#111" stroke-width="0.5"/>
<polygon points="430.5,137.6 427.1,139 431.1,140.2 434.5,138.8" fill="#3e26a8" stroke="#111" stroke-width="0.5"/>
<polygon points="471.4,137.3 468,138.7 472,139.9 475.4,138.4" fill="#3e26a8" stroke="#111" stroke-width="0.5"/>
<polygon points="352.1,131.1 348.7,134.5 352.7,135.1 356.1,131.4" fill="#4332cb" stroke="#111" stroke-width="0.5"/>
<polygon points="423.1,137.8 419.7,139.3 423.7,140.5 427.1,139" fill="#3e26a8" stroke="#111" stroke-width="0.5"/>
<polygon points="385,126.9 385.6,127.7 386.6,126.6" fill="#4758f8" stroke="#111" stroke-width="0.5"/>
<polygon points="464,137.6 460.6,139 464.6,140.2 468,138.7" fill="#3e26a8" stroke="#111" stroke-width="0.5"/>
<polygon points="397,134.3 393.6,136.4 397.6,139 401,137.3" fill="#422ec0" stroke="#111" stroke-width="0.5"/>
<polygon points="359.5,126.7 359.4,126.8 363.4,128.5 364,127.7" fill="#484df0" stroke="#111" stroke-width="0.5"/>
<polygon points="456.6,137.9 453.2,139.3 457.3,140.5 460.6,139" fill="#3e26a8" stroke="#111" stroke-width="0.5"/>
<polygon points="415.7,137.9 412.4,139.4 416.4,140.7 419.7,139.3" fill="#3e26a8" stroke="#111" stroke-width="0.5"/>
<polygon points="333.9,138.3 330.6,140 334.6,140.8 337.9,139" fill="#3e26a8" stroke="#111" stroke-width="0.5"/>
<polygon points="341.3,136.9 337.9,139 342,139.7 345.3,137.3" fill="#402ab4" stroke="#111" stroke-width="0.5"/>
<polygon points="508.2,133.5 498.1,139.8 502.2,141 512.3,135.5" fill="#422ec0" stroke="#111" stroke-width="0.5"/>
<polygon points="449.2,138.2 445.9,139.6 449.9,140.7 453.2,139.3" fill="#3e26a8" stroke="#111" stroke-width="0.5"/>
<polygon points="359.4,126.8 356.1,131.4 360.1,132.9 363.4,128.5" fill="#4741e5" stroke="#111" stroke-width="0.5"/>
<polygon points="385.6,127.7 382.2,131.3 386.2,135.4 389.6,132.7" fill="#463cde" stroke="#111" stroke-width="0.5"/>
<polygon points="385,126.9 379.2,127.6 382.2,131.3 385.6,127.7" fill="#484df0" stroke="#111" stroke-width="0.5"/>
<polygon points="408.3,137.7 405,139.3 409,140.8 412.4,139.4" fill="#3e26a8" stroke="#111" stroke-width="0.5"/>
<polygon points="490.1,137.1 486.8,139.1 490.8,140.3 494.1,138.5" fill="#3e26a8" stroke="#111" stroke-width="0.5"/>
<polygon points="348.7,134.5 345.3,137.3 349.3,138.1 352.7,135.1" fill="#422ec0" stroke="#111" stroke-width="0.5"/>
<polygon points="441.9,138.5 438.5,139.9 442.5,141 445.9,139.6" fill="#3e26a8" stroke="#111" stroke-width="0.5"/>
<polygon points="389.6,132.7 386.2,135.4 390.2,138.4 393.6,136.4" fill="#4332cb" stroke="#111" stroke-width="0.5"/>
<polygon points="482.8,137.9 479.4,139.5 483.4,140.7 486.8,139.1" fill="#3e26a8" stroke="#111" stroke-width="0.5"/>
<polygon points="434.5,138.8 431.1,140.2 435.1,141.3 438.5,139.9" fill="#3e26a8" stroke="#111" stroke-width="0.5"/>
<polygon points="364,127.7 363.4,128.5 367.4,131.2 369.8,128" fill="#484df0" stroke="#111" stroke-width="0.5"/>
<polygon points="401,137.3 397.6,139 401.6,140.8 405,139.3" fill="#402ab4" stroke="#111" stroke-width="0.5"/>
<polygon points="475.4,138.4 472,139.9 476,141 479.4,139.5" fill="#3e26a8" stroke="#111" stroke-width="0.5"/>
<polygon points="372.2,128 374.8,130.6 377.1,127.8" fill="#4852f4" stroke="#111" stroke-width="0.5"/>
<polygon points="356.1,131.4 352.7,135.1 356.7,136.5 360.1,132.9" fill="#4537d5" stroke="#111" stroke-width="0.5"/>
<polygon points="379.2,127.6 377.1,127.8 374.8,130.6 378.8,134.5 382.2,131.3" fill="#4741e5" stroke="#111" stroke-width="0.5"/>
<polygon points="427.1,139 423.7,140.5 427.8,141.6 431.1,140.2" fill="#3e26a8" stroke="#111" stroke-width="0.5"/>
<polygon points="468,138.7 464.6,140.2 468.6,141.3 472,139.9" fill="#3e26a8" stroke="#111" stroke-width="0.5"/>
<polygon points="363.4,128.5 360.1,132.9 364.1,135.1 367.4,131.2" fill="#463cde" stroke="#111" stroke-width="0.5"/>
<polygon points="419.7,139.3 416.4,140.7 420.4,141.9 423.7,140.5" fill="#3e26a8" stroke="#111" stroke-width="0.5"/>
<polygon points="382.2,131.3 378.8,134.5 382.8,137.8 386.2,135.4" fill="#4537d5" stroke="#111" stroke-width="0.5"/>
<polygon points="393.6,136.4 390.2,138.4 394.2,140.7 397.6,139" fill="#422ec0" stroke="#111" stroke-width="0.5"/>
<polygon points="460.6,139 457.3,140.5 461.3,141.6 464.6,140.2" fill="#3e26a8" stroke="#111" stroke-width="0.5"/>
<polygon points="372.2,128 369.8,128 367.4,131.2 371.5,134.4 374.8,130.6" fill="#4741e5" stroke="#111" stroke-width="0.5"/>
<polygon points="512.3,135.5 502.2,141 506.2,142.3 516.3,137.2" fill="#402ab4" stroke="#111" stroke-width="0.5"/>
<polygon points="337.9,139 334.6,140.8 338.6,141.7 342,139.7" fill="#402ab4" stroke="#111" stroke-width="0.5"/>
<polygon points="330.6,140 327.2,141.6 331.2,142.5 334.6,140.8" fill="#3e26a8" stroke="#111" stroke-width="0.5"/>
<polygon points="453.2,139.3 449.9,140.7 453.9,141.9 457.3,140.5" fill="#3e26a8" stroke="#111" stroke-width="0.5"/>
<polygon points="412.4,139.4 409,140.8 413,142.1 416.4,140.7" fill="#3e26a8" stroke="#111" stroke-width="0.5"/>
<polygon points="345.3,137.3 342,139.7 346,140.6 349.3,138.1" fill="#402ab4" stroke="#111" stroke-width="0.5"/>
<polygon points="494.1,138.5 490.8,140.3 494.8,141.5 498.1,139.8" fill="#3e26a8" stroke="#111" stroke-width="0.5"/>
<polygon points="374.8,130.6 371.5,134.4 375.5,137.4 378.8,134.5" fill="#463cde" stroke="#111" stroke-width="0.5"/>
<polygon points="445.9,139.6 442.5,141 446.5,142.2 449.9,140.7" fill="#3e26a8" stroke="#111" stroke-width="0.5"/>
<polygon points="352.7,135.1 349.3,138.1 353.3,139.4 356.7,136.5" fill="#4332cb" stroke="#111" stroke-width="0.5"/>
<polygon points="386.2,135.4 382.8,137.8 386.9,140.4 390.2,138.4" fill="#422ec0" stroke="#111" stroke-width="0.5"/>
<polygon points="486.8,139.1 483.4,140.7 487.4,141.8 490.8,140.3" fill="#3e26a8" stroke="#111" stroke-width="0.5"/>
<polygon points="405,139.3 401.6,140.8 405.6,142.3 409,140.8" fill="#3e26a8" stroke="#111" stroke-width="0.5"/>
<polygon points="360.1,132.9 356.7,136.5 360.7,138.3 364.1,135.1" fill="#4537d5" stroke="#111" stroke-width="0.5"/>
<polygon points="367.4,131.2 364.1,135.1 368.1,137.6 371.5,134.4" fill="#4537d5" stroke="#111" stroke-width="0.5"/>
<polygon points="438.5,139.9 435.1,141.3 439.1,142.5 442.5,141" fill="#3e26a8" stroke="#111" stroke-width="0.5"/>
<polygon points="479.4,139.5 476,141 480,142.1 483.4,140.7" fill="#3e26a8" stroke="#111" stroke-width="0.5"/>
<polygon points="397.6,139 394.2,140.7 398.2,142.4 401.6,140.8" fill="#402ab4" stroke="#111" stroke-width="0.5"/>
<polygon points="431.1,140.2 427.8,141.6 431.8,142.8 435.1,141.3" fill="#3e26a8" stroke="#111" stroke-width="0.5"/>
<polygon points="472,139.9 468.6,141.3 472.7,142.4 476,141" fill="#3e26a8" stroke="#111" stroke-width="0.5"/>
<polygon points="378.8,134.5 375.5,137.4 379.5,140.1 382.8,137.8" fill="#4332cb" stroke="#111" stroke-width="0.5"/>
<polygon points="423.7,140.5 420.4,141.9 424.4,143 427.8,141.6" fill="#3e26a8" stroke="#111" stroke-width="0.5"/>
<polygon points="516.3,137.2 506.2,142.3 510.2,143.4 520.3,138.7" fill="#402ab4" stroke="#111" stroke-width="0.5"/>
<polygon points="464.6,140.2 461.3,141.6 465.3,142.7 468.6,141.3" fill="#3e26a8" stroke="#111" stroke-width="0.5"/>
<polygon points="390.2,138.4 386.9,140.4 390.9,142.4 394.2,140.7" fill="#402ab4" stroke="#111" stroke-width="0.5"/>
<polygon points="371.5,134.4 368.1,137.6 372.1,140 375.5,137.4" fill="#4332cb" stroke="#111" stroke-width="0.5"/>
<polygon points="416.4,140.7 413,142.1 417,143.3 420.4,141.9" fill="#3e26a8" stroke="#111" stroke-width="0.5"/>
<polygon points="457.3,140.5 453.9,141.9 457.9,143 461.3,141.6" fill="#3e26a8" stroke="#111" stroke-width="0.5"/>
<polygon points="342,139.7 338.6,141.7 342.6,142.7 346,140.6" fill="#402ab4" stroke="#111" stroke-width="0.5"/>
<polygon points="334.6,140.8 331.2,142.5 335.2,143.5 338.6,141.7" fill="#3e26a8" stroke="#111" stroke-width="0.5"/>
<polygon points="349.3,138.1 346,140.6 350,141.8 353.3,139.4" fill="#422ec0" stroke="#111" stroke-width="0.5"/>
<polygon points="364.1,135.1 360.7,138.3 364.7,140.3 368.1,137.6" fill="#4332cb" stroke="#111" stroke-width="0.5"/>
<polygon points="498.1,139.8 494.8,141.5 498.8,142.6 502.2,141" fill="#3e26a8" stroke="#111" stroke-width="0.5"/>
<polygon points="356.7,136.5 353.3,139.4 357.4,141 360.7,138.3" fill="#422ec0" stroke="#111" stroke-width="0.5"/>
<polygon points="327.2,141.6 323.8,143.1 327.8,144.1 331.2,142.5" fill="#3e26a8" stroke="#111" stroke-width="0.5"/>
<polygon points="409,140.8 405.6,142.3 409.6,143.6 413,142.1" fill="#3e26a8" stroke="#111" stroke-width="0.5"/>
<polygon points="449.9,140.7 446.5,142.2 450.5,143.3 453.9,141.9" fill="#3e26a8" stroke="#111" stroke-width="0.5"/>
<polygon points="382.8,137.8 379.5,140.1 383.5,142.3 386.9,140.4" fill="#422ec0" stroke="#111" stroke-width="0.5"/>
<polygon points="490.8,140.3 487.4,141.8 491.4,143 494.8,141.5" fill="#3e26a8" stroke="#111" stroke-width="0.5"/>
<polygon points="442.5,141 439.1,142.5 443.1,143.6 446.5,142.2" fill="#3e26a8" stroke="#111" stroke-width="0.5"/>
<polygon points="401.6,140.8 398.2,142.4 402.3,143.8 405.6,142.3" fill="#3e26a8" stroke="#111" stroke-width="0.5"/>
<polygon points="483.4,140.7 480,142.1 484,143.3 487.4,141.8" fill="#3e26a8" stroke="#111" stroke-width="0.5"/>
<polygon points="375.5,137.4 372.1,140 376.1,142.2 379.5,140.1" fill="#422ec0" stroke="#111" stroke-width="0.5"/>
<polygon points="435.1,141.3 431.8,142.8 435.8,143.9 439.1,142.5" fill="#3e26a8" stroke="#111" stroke-width="0.5"/>
<polygon points="476,141 472.7,142.4 476.7,143.6 480,142.1" fill="#3e26a8" stroke="#111" stroke-width="0.5"/>
<polygon points="394.2,140.7 390.9,142.4 394.9,143.9 398.2,142.4" fill="#402ab4" stroke="#111" stroke-width="0.5"/>
<polygon points="520.3,138.7 510.2,143.4 514.2,144.6 524.3,140" fill="#3e26a8" stroke="#111" stroke-width="0.5"/>
<polygon points="427.8,141.6 424.4,143 428.4,144.2 431.8,142.8" fill="#3e26a8" stroke="#111" stroke-width="0.5"/>
<polygon points="368.1,137.6 364.7,140.3 368.7,142.3 372.1,140" fill="#422ec0" stroke="#111" stroke-width="0.5"/>
<polygon points="468.6,141.3 465.3,142.7 469.3,143.8 472.7,142.4" fill="#3e26a8" stroke="#111" stroke-width="0.5"/>
<polygon points="360.7,138.3 357.4,141 361.4,142.6 364.7,140.3" fill="#422ec0" stroke="#111" stroke-width="0.5"/>
<polygon points="420.4,141.9 417,143.3 421,144.5 424.4,143" fill="#3e26a8" stroke="#111" stroke-width="0.5"/>
<polygon points="386.9,140.4 383.5,142.3 387.5,144 390.9,142.4" fill="#402ab4" stroke="#111" stroke-width="0.5"/>
<polygon points="353.3,139.4 350,141.8 354,143.2 357.4,141" fill="#402ab4" stroke="#111" stroke-width="0.5"/>
<polygon points="461.3,141.6 457.9,143 461.9,144.1 465.3,142.7" fill="#3e26a8" stroke="#111" stroke-width="0.5"/>
<polygon points="346,140.6 342.6,142.7 346.6,143.9 350,141.8" fill="#402ab4" stroke="#111" stroke-width="0.5"/>
<polygon points="338.6,141.7 335.2,143.5 339.2,144.6 342.6,142.7" fill="#402ab4" stroke="#111" stroke-width="0.5"/>
<polygon points="502.2,141 498.8,142.6 502.8,143.8 506.2,142.3" fill="#3e26a8" stroke="#111" stroke-width="0.5"/>
<polygon points="331.2,142.5 327.8,144.1 331.9,145.1 335.2,143.5" fill="#3e26a8" stroke="#111" stroke-width="0.5"/>
<polygon points="413,142.1 409.6,143.6 413.6,144.7 417,143.3" fill="#3e26a8" stroke="#111" stroke-width="0.5"/>
<polygon points="453.9,141.9 450.5,143.3 454.5,144.4 457.9,143" fill="#3e26a8" stroke="#111" stroke-width="0.5"/>
<polygon points="494.8,141.5 491.4,143 495.4,144.1 498.8,142.6" fill="#3e26a8" stroke="#111" stroke-width="0.5"/>
<polygon points="379.5,140.1 376.1,142.2 380.1,144 383.5,142.3" fill="#402ab4" stroke="#111" stroke-width="0.5"/>
<polygon points="323.8,143.1 320.5,144.5 324.5,145.6 327.8,144.1" fill="#3e26a8" stroke="#111" stroke-width="0.5"/>
<polygon points="405.6,142.3 402.3,143.8 406.3,145 409.6,143.6" fill="#3e26a8" stroke="#111" stroke-width="0.5"/>
<polygon points="446.5,142.2 443.1,143.6 447.2,144.7 450.5,143.3" fill="#3e26a8" stroke="#111" stroke-width="0.5"/>
<polygon points="487.4,141.8 484,143.3 488.1,144.4 491.4,143" fill="#3e26a8" stroke="#111" stroke-width="0.5"/>
<polygon points="372.1,140 368.7,142.3 372.7,144.1 376.1,142.2" fill="#402ab4" stroke="#111" stroke-width="0.5"/>
<polygon points="439.1,142.5 435.8,143.9 439.8,145 443.1,143.6" fill="#3e26a8" stroke="#111" stroke-width="0.5"/>
<polygon points="398.2,142.4 394.9,143.9 398.9,145.2 402.3,143.8" fill="#3e26a8" stroke="#111" stroke-width="0.5"/>
<polygon points="480,142.1 476.7,143.6 480.7,144.7 484,143.3" fill="#3e26a8" stroke="#111" stroke-width="0.5"/>
<polygon points="524.3,140 514.2,144.6 518.2,145.7 528.3,141.3" fill="#3e26a8" stroke="#111" stroke-width="0.5"/>
<polygon points="364.7,140.3 361.4,142.6 365.4,144.3 368.7,142.3" fill="#402ab4" stroke="#111" stroke-width="0.5"/>
<polygon points="431.8,142.8 428.4,144.2 432.4,145.3 435.8,143.9" fill="#3e26a8" stroke="#111" stroke-width="0.5"/>
<polygon points="472.7,142.4 469.3,143.8 473.3,145 476.7,143.6" fill="#3e26a8" stroke="#111" stroke-width="0.5"/>
<polygon points="390.9,142.4 387.5,144 391.5,145.4 394.9,143.9" fill="#3e26a8" stroke="#111" stroke-width="0.5"/>
<polygon points="357.4,141 354,143.2 358,144.7 361.4,142.6" fill="#402ab4" stroke="#111" stroke-width="0.5"/>
<polygon points="424.4,143 421,144.5 425,145.6 428.4,144.2" fill="#3e26a8" stroke="#111" stroke-width="0.5"/>
<polygon points="350,141.8 346.6,143.9 350.6,145.2 354,143.2" fill="#402ab4" stroke="#111" stroke-width="0.5"/>
<polygon points="465.3,142.7 461.9,144.1 465.9,145.3 469.3,143.8" fill="#3e26a8" stroke="#111" stroke-width="0.5"/>
<polygon points="506.2,142.3 502.8,143.8 506.8,144.9 510.2,143.4" fill="#3e26a8" stroke="#111" stroke-width="0.5"/>
<polygon points="342.6,142.7 339.2,144.6 343.2,145.7 346.6,143.9" fill="#402ab4" stroke="#111" stroke-width="0.5"/>
<polygon points="383.5,142.3 380.1,144 384.1,145.6 387.5,144" fill="#402ab4" stroke="#111" stroke-width="0.5"/>
<polygon points="417,143.3 413.6,144.7 417.6,145.9 421,144.5" fill="#3e26a8" stroke="#111" stroke-width="0.5"/>
<polygon points="335.2,143.5 331.9,145.1 335.9,146.2 339.2,144.6" fill="#3e26a8" stroke="#111" stroke-width="0.5"/>
<polygon points="457.9,143 454.5,144.4 458.5,145.6 461.9,144.1" fill="#3e26a8" stroke="#111" stroke-width="0.5"/>
<polygon points="498.8,142.6 495.4,144.1 499.4,145.2 502.8,143.8" fill="#3e26a8" stroke="#111" stroke-width="0.5"/>
<polygon points="327.8,144.1 324.5,145.6 328.5,146.7 331.9,145.1" fill="#3e26a8" stroke="#111" stroke-width="0.5"/>
<polygon points="409.6,143.6 406.3,145 410.3,146.2 413.6,144.7" fill="#3e26a8" stroke="#111" stroke-width="0.5"/>
<polygon points="376.1,142.2 372.7,144.1 376.8,145.7 380.1,144" fill="#402ab4" stroke="#111" stroke-width="0.5"/>
<polygon points="450.5,143.3 447.2,144.7 451.2,145.9 454.5,144.4" fill="#3e26a8" stroke="#111" stroke-width="0.5"/>
<polygon points="491.4,143 488.1,144.4 492.1,145.5 495.4,144.1" fill="#3e26a8" stroke="#111" stroke-width="0.5"/>
<polygon points="320.5,144.5 317.1,146 321.1,147.1 324.5,145.6" fill="#3e26a8" stroke="#111" stroke-width="0.5"/>
<polygon points="402.3,143.8 398.9,145.2 402.9,146.4 406.3,145" fill="#3e26a8" stroke="#111" stroke-width="0.5"/>
<polygon points="443.1,143.6 439.8,145 443.8,146.1 447.2,144.7" fill="#3e26a8" stroke="#111" stroke-width="0.5"/>
<polygon points="368.7,142.3 365.4,144.3 369.4,145.9 372.7,144.1" fill="#402ab4" stroke="#111" stroke-width="0.5"/>
<polygon points="484,143.3 480.7,144.7 484.7,145.8 488.1,144.4" fill="#3e26a8" stroke="#111" stroke-width="0.5"/>
<polygon points="435.8,143.9 432.4,145.3 436.4,146.4 439.8,145" fill="#3e26a8" stroke="#111" stroke-width="0.5"/>
<polygon points="394.9,143.9 391.5,145.4 395.5,146.7 398.9,145.2" fill="#3e26a8" stroke="#111" stroke-width="0.5"/>
<polygon points="361.4,142.6 358,144.7 362,146.1 365.4,144.3" fill="#402ab4" stroke="#111" stroke-width="0.5"/>
<polygon points="476.7,143.6 473.3,145 477.3,146.1 480.7,144.7" fill="#3e26a8" stroke="#111" stroke-width="0.5"/>
<polygon points="354,143.2 350.6,145.2 354.6,146.5 358,144.7" fill="#402ab4" stroke="#111" stroke-width="0.5"/>
<polygon points="428.4,144.2 425,145.6 429,146.7 432.4,145.3" fill="#3e26a8" stroke="#111" stroke-width="0.5"/>
<polygon points="387.5,144 384.1,145.6 388.1,146.9 391.5,145.4" fill="#3e26a8" stroke="#111" stroke-width="0.5"/>
<polygon points="469.3,143.8 465.9,145.3 469.9,146.4 473.3,145" fill="#3e26a8" stroke="#111" stroke-width="0.5"/>
<polygon points="346.6,143.9 343.2,145.7 347.2,146.9 350.6,145.2" fill="#402ab4" stroke="#111" stroke-width="0.5"/>
<polygon points="510.2,143.4 506.8,144.9 510.8,146.1 514.2,144.6" fill="#3e26a8" stroke="#111" stroke-width="0.5"/>
<polygon points="421,144.5 417.6,145.9 421.7,147 425,145.6" fill="#3e26a8" stroke="#111" stroke-width="0.5"/>
<polygon points="339.2,144.6 335.9,146.2 339.9,147.4 343.2,145.7" fill="#3e26a8" stroke="#111" stroke-width="0.5"/>
<polygon points="461.9,144.1 458.5,145.6 462.6,146.7 465.9,145.3" fill="#3e26a8" stroke="#111" stroke-width="0.5"/>
<polygon points="380.1,144 376.8,145.7 380.8,147.1 384.1,145.6" fill="#3e26a8" stroke="#111" stroke-width="0.5"/>
<polygon points="502.8,143.8 499.4,145.2 503.4,146.4 506.8,144.9" fill="#3e26a8" stroke="#111" stroke-width="0.5"/>
<polygon points="331.9,145.1 328.5,146.7 332.5,147.8 335.9,146.2" fill="#3e26a8" stroke="#111" stroke-width="0.5"/>
<polygon points="413.6,144.7 410.3,146.2 414.3,147.3 417.6,145.9" fill="#3e26a8" stroke="#111" stroke-width="0.5"/>
<polygon points="454.5,144.4 451.2,145.9 455.2,147 458.5,145.6" fill="#3e26a8" stroke="#111" stroke-width="0.5"/>
<polygon points="495.4,144.1 492.1,145.5 496.1,146.6 499.4,145.2" fill="#3e26a8" stroke="#111" stroke-width="0.5"/>
<polygon points="372.7,144.1 369.4,145.9 373.4,147.3 376.8,145.7" fill="#402ab4" stroke="#111" stroke-width="0.5"/>
<polygon points="324.5,145.6 321.1,147.1 325.1,148.2 328.5,146.7" fill="#3e26a8" stroke="#111" stroke-width="0.5"/>
<polygon points="406.3,145 402.9,146.4 406.9,147.6 410.3,146.2" fill="#3e26a8" stroke="#111" stroke-width="0.5"/>
<polygon points="447.2,144.7 443.8,146.1 447.8,147.3 451.2,145.9" fill="#3e26a8" stroke="#111" stroke-width="0.5"/>
<polygon points="488.1,144.4 484.7,145.8 488.7,146.9 492.1,145.5" fill="#3e26a8" stroke="#111" stroke-width="0.5"/>
<polygon points="317.1,146 313.7,147.4 317.7,148.6 321.1,147.1" fill="#3e26a8" stroke="#111" stroke-width="0.5"/>
<polygon points="365.4,144.3 362,146.1 366,147.5 369.4,145.9" fill="#402ab4" stroke="#111" stroke-width="0.5"/>
<polygon points="398.9,145.2 395.5,146.7 399.5,147.9 402.9,146.4" fill="#3e26a8" stroke="#111" stroke-width="0.5"/>
<polygon points="439.8,145 436.4,146.4 440.4,147.6 443.8,146.1" fill="#3e26a8" stroke="#111" stroke-width="0.5"/>
<polygon points="480.7,144.7 477.3,146.1 481.3,147.2 484.7,145.8" fill="#3e26a8" stroke="#111" stroke-width="0.5"/>
<polygon points="358,144.7 354.6,146.5 358.6,147.8 362,146.1" fill="#402ab4" stroke="#111" stroke-width="0.5"/>
<polygon points="391.5,145.4 388.1,146.9 392.2,148.1 395.5,146.7" fill="#3e26a8" stroke="#111" stroke-width="0.5"/>
<polygon points="432.4,145.3 429,146.7 433,147.9 436.4,146.4" fill="#3e26a8" stroke="#111" stroke-width="0.5"/>
<polygon points="473.3,145 469.9,146.4 473.9,147.5 477.3,146.1" fill="#3e26a8" stroke="#111" stroke-width="0.5"/>
<polygon points="350.6,145.2 347.2,146.9 351.3,148.2 354.6,146.5" fill="#3e26a8" stroke="#111" stroke-width="0.5"/>
<polygon points="514.2,144.6 510.8,146.1 514.8,147.2 518.2,145.7" fill="#3e26a8" stroke="#111" stroke-width="0.5"/>
<polygon points="425,145.6 421.7,147 425.7,148.2 429,146.7" fill="#3e26a8" stroke="#111" stroke-width="0.5"/>
<polygon points="384.1,145.6 380.8,147.1 384.8,148.4 388.1,146.9" fill="#3e26a8" stroke="#111" stroke-width="0.5"/>
<polygon points="343.2,145.7 339.9,147.4 343.9,148.6 347.2,146.9" fill="#3e26a8" stroke="#111" stroke-width="0.5"/>
<polygon points="465.9,145.3 462.6,146.7 466.6,147.8 469.9,146.4" fill="#3e26a8" stroke="#111" stroke-width="0.5"/>
<polygon points="506.8,144.9 503.4,146.4 507.5,147.5 510.8,146.1" fill="#3e26a8" stroke="#111" stroke-width="0.5"/>
<polygon points="335.9,146.2 332.5,147.8 336.5,149 339.9,147.4" fill="#3e26a8" stroke="#111" stroke-width="0.5"/>
<polygon points="417.6,145.9 414.3,147.3 418.3,148.5 421.7,147" fill="#3e26a8" stroke="#111" stroke-width="0.5"/>
<polygon points="376.8,145.7 373.4,147.3 377.4,148.6 380.8,147.1" fill="#3e26a8" stroke="#111" stroke-width="0.5"/>
<polygon points="458.5,145.6 455.2,147 459.2,148.1 462.6,146.7" fill="#3e26a8" stroke="#111" stroke-width="0.5"/>
<polygon points="499.4,145.2 496.1,146.6 500.1,147.8 503.4,146.4" fill="#3e26a8" stroke="#111" stroke-width="0.5"/>
<polygon points="328.5,146.7 325.1,148.2 329.1,149.3 332.5,147.8" fill="#3e26a8" stroke="#111" stroke-width="0.5"/>
<polygon points="410.3,146.2 406.9,147.6 410.9,148.7 414.3,147.3" fill="#3e26a8" stroke="#111" stroke-width="0.5"/>
<polygon points="451.2,145.9 447.8,147.3 451.8,148.4 455.2,147" fill="#3e26a8" stroke="#111" stroke-width="0.5"/>
<polygon points="369.4,145.9 366,147.5 370,148.9 373.4,147.3" fill="#3e26a8" stroke="#111" stroke-width="0.5"/>
<polygon points="492.1,145.5 488.7,146.9 492.7,148.1 496.1,146.6" fill="#3e26a8" stroke="#111" stroke-width="0.5"/>
<polygon points="321.1,147.1 317.7,148.6 321.8,149.7 325.1,148.2" fill="#3e26a8" stroke="#111" stroke-width="0.5"/>
<polygon points="402.9,146.4 399.5,147.9 403.5,149 406.9,147.6" fill="#3e26a8" stroke="#111" stroke-width="0.5"/>
<polygon points="443.8,146.1 440.4,147.6 444.4,148.7 447.8,147.3" fill="#3e26a8" stroke="#111" stroke-width="0.5"/>
<polygon points="362,146.1 358.6,147.8 362.6,149.1 366,147.5" fill="#3e26a8" stroke="#111" stroke-width="0.5"/>
<polygon points="484.7,145.8 481.3,147.2 485.3,148.4 488.7,146.9" fill="#3e26a8" stroke="#111" stroke-width="0.5"/>
<polygon points="313.7,147.4 310.4,148.9 314.4,150 317.7,148.6" fill="#3e26a8" stroke="#111" stroke-width="0.5"/>
<polygon points="395.5,146.7 392.2,148.1 396.2,149.3 399.5,147.9" fill="#3e26a8" stroke="#111" stroke-width="0.5"/>
<polygon points="436.4,146.4 433,147.9 437.1,149 440.4,147.6" fill="#3e26a8" stroke="#111" stroke-width="0.5"/>
<polygon points="354.6,146.5 351.3,148.2 355.3,149.4 358.6,147.8" fill="#3e26a8" stroke="#111" stroke-width="0.5"/>
<polygon points="477.3,146.1 473.9,147.5 477.9,148.7 481.3,147.2" fill="#3e26a8" stroke="#111" stroke-width="0.5"/>
<polygon points="388.1,146.9 384.8,148.4 388.8,149.6 392.2,148.1" fill="#3e26a8" stroke="#111" stroke-width="0.5"/>
<polygon points="347.2,146.9 343.9,148.6 347.9,149.8 351.3,148.2" fill="#3e26a8" stroke="#111" stroke-width="0.5"/>
<polygon points="429,146.7 425.7,148.2 429.7,149.3 433,147.9" fill="#3e26a8" stroke="#111" stroke-width="0.5"/>
<polygon points="469.9,146.4 466.6,147.8 470.6,149 473.9,147.5" fill="#3e26a8" stroke="#111" stroke-width="0.5"/>
<polygon points="510.8,146.1 507.5,147.5 511.5,148.6 514.8,147.2" fill="#3e26a8" stroke="#111" stroke-width="0.5"/>
<polygon points="339.9,147.4 336.5,149 340.5,150.1 343.9,148.6" fill="#3e26a8" stroke="#111" stroke-width="0.5"/>
<polygon points="380.8,147.1 377.4,148.6 381.4,149.8 384.8,148.4" fill="#3e26a8" stroke="#111" stroke-width="0.5"/>
<polygon points="421.7,147 418.3,148.5 422.3,149.6 425.7,148.2" fill="#3e26a8" stroke="#111" stroke-width="0.5"/>
<polygon points="462.6,146.7 459.2,148.1 463.2,149.2 466.6,147.8" fill="#3e26a8" stroke="#111" stroke-width="0.5"/>
<polygon points="503.4,146.4 500.1,147.8 504.1,148.9 507.5,147.5" fill="#3e26a8" stroke="#111" stroke-width="0.5"/>
<polygon points="332.5,147.8 329.1,149.3 333.1,150.5 336.5,149" fill="#3e26a8" stroke="#111" stroke-width="0.5"/>
<polygon points="414.3,147.3 410.9,148.7 414.9,149.9 418.3,148.5" fill="#3e26a8" stroke="#111" stroke-width="0.5"/>
<polygon points="373.4,147.3 370,148.9 374,150.1 377.4,148.6" fill="#3e26a8" stroke="#111" stroke-width="0.5"/>
<polygon points="455.2,147 451.8,148.4 455.8,149.5 459.2,148.1" fill="#3e26a8" stroke="#111" stroke-width="0.5"/>
<polygon points="496.1,146.6 492.7,148.1 496.7,149.2 500.1,147.8" fill="#3e26a8" stroke="#111" stroke-width="0.5"/>
<polygon points="325.1,148.2 321.8,149.7 325.8,150.8 329.1,149.3" fill="#3e26a8" stroke="#111" stroke-width="0.5"/>
<polygon points="406.9,147.6 403.5,149 407.5,150.2 410.9,148.7" fill="#3e26a8" stroke="#111" stroke-width="0.5"/>
<polygon points="366,147.5 362.6,149.1 366.7,150.4 370,148.9" fill="#3e26a8" stroke="#111" stroke-width="0.5"/>
<polygon points="447.8,147.3 444.4,148.7 448.4,149.8 451.8,148.4" fill="#3e26a8" stroke="#111" stroke-width="0.5"/>
<polygon points="488.7,146.9 485.3,148.4 489.3,149.5 492.7,148.1" fill="#3e26a8" stroke="#111" stroke-width="0.5"/>
<polygon points="317.7,148.6 314.4,150 318.4,151.1 321.8,149.7" fill="#3e26a8" stroke="#111" stroke-width="0.5"/>
<polygon points="399.5,147.9 396.2,149.3 400.2,150.5 403.5,149" fill="#3e26a8" stroke="#111" stroke-width="0.5"/>
<polygon points="358.6,147.8 355.3,149.4 359.3,150.7 362.6,149.1" fill="#3e26a8" stroke="#111" stroke-width="0.5"/>
<polygon points="440.4,147.6 437.1,149 441.1,150.1 444.4,148.7" fill="#3e26a8" stroke="#111" stroke-width="0.5"/>
<polygon points="481.3,147.2 477.9,148.7 482,149.8 485.3,148.4" fill="#3e26a8" stroke="#111" stroke-width="0.5"/>
<polygon points="310.4,148.9 307,150.3 311,151.4 314.4,150" fill="#3e26a8" stroke="#111" stroke-width="0.5"/>
<polygon points="392.2,148.1 388.8,149.6 392.8,150.7 396.2,149.3" fill="#3e26a8" stroke="#111" stroke-width="0.5"/>
<polygon points="351.3,148.2 347.9,149.8 351.9,151 355.3,149.4" fill="#3e26a8" stroke="#111" stroke-width="0.5"/>
<polygon points="433,147.9 429.7,149.3 433.7,150.4 437.1,149" fill="#3e26a8" stroke="#111" stroke-width="0.5"/>
<polygon points="473.9,147.5 470.6,149 474.6,150.1 477.9,148.7" fill="#3e26a8" stroke="#111" stroke-width="0.5"/>
<polygon points="343.9,148.6 340.5,150.1 344.5,151.3 347.9,149.8" fill="#3e26a8" stroke="#111" stroke-width="0.5"/>
<polygon points="384.8,148.4 381.4,149.8 385.4,151 388.8,149.6" fill="#3e26a8" stroke="#111" stroke-width="0.5"/>
<polygon points="425.7,148.2 422.3,149.6 426.3,150.7 429.7,149.3" fill="#3e26a8" stroke="#111" stroke-width="0.5"/>
<polygon points="466.6,147.8 463.2,149.2 467.2,150.4 470.6,149" fill="#3e26a8" stroke="#111" stroke-width="0.5"/>
<polygon points="507.5,147.5 504.1,148.9 508.1,150 511.5,148.6" fill="#3e26a8" stroke="#111" stroke-width="0.5"/>
<polygon points="336.5,149 333.1,150.5 337.2,151.6 340.5,150.1" fill="#3e26a8" stroke="#111" stroke-width="0.5"/>
<polygon points="377.4,148.6 374,150.1 378,151.3 381.4,149.8" fill="#3e26a8" stroke="#111" stroke-width="0.5"/>
<polygon points="418.3,148.5 414.9,149.9 418.9,151 422.3,149.6" fill="#3e26a8" stroke="#111" stroke-width="0.5"/>
<polygon points="459.2,148.1 455.8,149.5 459.8,150.7 463.2,149.2" fill="#3e26a8" stroke="#111" stroke-width="0.5"/>
<polygon points="500.1,147.8 496.7,149.2 500.7,150.3 504.1,148.9" fill="#3e26a8" stroke="#111" stroke-width="0.5"/>
<polygon points="329.1,149.3 325.8,150.8 329.8,151.9 333.1,150.5" fill="#3e26a8" stroke="#111" stroke-width="0.5"/>
<polygon points="370,148.9 366.7,150.4 370.7,151.6 374,150.1" fill="#3e26a8" stroke="#111" stroke-width="0.5"/>
<polygon points="410.9,148.7 407.5,150.2 411.6,151.3 414.9,149.9" fill="#3e26a8" stroke="#111" stroke-width="0.5"/>
<polygon points="451.8,148.4 448.4,149.8 452.5,151 455.8,149.5" fill="#3e26a8" stroke="#111" stroke-width="0.5"/>
<polygon points="492.7,148.1 489.3,149.5 493.3,150.6 496.7,149.2" fill="#3e26a8" stroke="#111" stroke-width="0.5"/>
<polygon points="321.8,149.7 318.4,151.1 322.4,152.2 325.8,150.8" fill="#3e26a8" stroke="#111" stroke-width="0.5"/>
<polygon points="362.6,149.1 359.3,150.7 363.3,151.9 366.7,150.4" fill="#3e26a8" stroke="#111" stroke-width="0.5"/>
<polygon points="403.5,149 400.2,150.5 404.2,151.6 407.5,150.2" fill="#3e26a8" stroke="#111" stroke-width="0.5"/>
<polygon points="444.4,148.7 441.1,150.1 445.1,151.3 448.4,149.8" fill="#3e26a8" stroke="#111" stroke-width="0.5"/>
<polygon points="485.3,148.4 482,149.8 486,150.9 489.3,149.5" fill="#3e26a8" stroke="#111" stroke-width="0.5"/>
<polygon points="314.4,150 311,151.4 315,152.5 318.4,151.1" fill="#3e26a8" stroke="#111" stroke-width="0.5"/>
<polygon points="355.3,149.4 351.9,151 355.9,152.1 359.3,150.7" fill="#3e26a8" stroke="#111" stroke-width="0.5"/>
<polygon points="396.2,149.3 392.8,150.7 396.8,151.9 400.2,150.5" fill="#3e26a8" stroke="#111" stroke-width="0.5"/>
<polygon points="437.1,149 433.7,150.4 437.7,151.5 441.1,150.1" fill="#3e26a8" stroke="#111" stroke-width="0.5"/>
<polygon points="477.9,148.7 474.6,150.1 478.6,151.2 482,149.8" fill="#3e26a8" stroke="#111" stroke-width="0.5"/>
<polygon points="347.9,149.8 344.5,151.3 348.5,152.4 351.9,151" fill="#3e26a8" stroke="#111" stroke-width="0.5"/>
<polygon points="388.8,149.6 385.4,151 389.4,152.2 392.8,150.7" fill="#3e26a8" stroke="#111" stroke-width="0.5"/>
<polygon points="429.7,149.3 426.3,150.7 430.3,151.8 433.7,150.4" fill="#3e26a8" stroke="#111" stroke-width="0.5"/>
<polygon points="470.6,149 467.2,150.4 471.2,151.5 474.6,150.1" fill="#3e26a8" stroke="#111" stroke-width="0.5"/>
<polygon points="340.5,150.1 337.2,151.6 341.2,152.8 344.5,151.3" fill="#3e26a8" stroke="#111" stroke-width="0.5"/>
<polygon points="381.4,149.8 378,151.3 382.1,152.5 385.4,151" fill="#3e26a8" stroke="#111" stroke-width="0.5"/>
<polygon points="422.3,149.6 418.9,151 422.9,152.1 426.3,150.7" fill="#3e26a8" stroke="#111" stroke-width="0.5"/>
<polygon points="463.2,149.2 459.8,150.7 463.8,151.8 467.2,150.4" fill="#3e26a8" stroke="#111" stroke-width="0.5"/>
<polygon points="504.1,148.9 500.7,150.3 504.7,151.5 508.1,150" fill="#3e26a8" stroke="#111" stroke-width="0.5"/>
<polygon points="333.1,150.5 329.8,151.9 333.8,153.1 337.2,151.6" fill="#3e26a8" stroke="#111" stroke-width="0.5"/>
<polygon points="374,150.1 370.7,151.6 374.7,152.7 378,151.3" fill="#3e26a8" stroke="#111" stroke-width="0.5"/>
<polygon points="414.9,149.9 411.6,151.3 415.6,152.4 418.9,151" fill="#3e26a8" stroke="#111" stroke-width="0.5"/>
<polygon points="455.8,149.5 452.5,151 456.5,152.1 459.8,150.7" fill="#3e26a8" stroke="#111" stroke-width="0.5"/>
<polygon points="496.7,149.2 493.3,150.6 497.4,151.8 500.7,150.3" fill="#3e26a8" stroke="#111" stroke-width="0.5"/>
<polygon points="325.8,150.8 322.4,152.2 326.4,153.4 329.8,151.9" fill="#3e26a8" stroke="#111" stroke-width="0.5"/>
<polygon points="366.7,150.4 363.3,151.9 367.3,153 370.7,151.6" fill="#3e26a8" stroke="#111" stroke-width="0.5"/>
<polygon points="407.5,150.2 404.2,151.6 408.2,152.7 411.6,151.3" fill="#3e26a8" stroke="#111" stroke-width="0.5"/>
<polygon points="448.4,149.8 445.1,151.3 449.1,152.4 452.5,151" fill="#3e26a8" stroke="#111" stroke-width="0.5"/>
<polygon points="489.3,149.5 486,150.9 490,152 493.3,150.6" fill="#3e26a8" stroke="#111" stroke-width="0.5"/>
<polygon points="318.4,151.1 315,152.5 319,153.7 322.4,152.2" fill="#3e26a8" stroke="#111" stroke-width="0.5"/>
<polygon points="359.3,150.7 355.9,152.1 359.9,153.3 363.3,151.9" fill="#3e26a8" stroke="#111" stroke-width="0.5"/>
<polygon points="400.2,150.5 396.8,151.9 400.8,153 404.2,151.6" fill="#3e26a8" stroke="#111" stroke-width="0.5"/>
<polygon points="441.1,150.1 437.7,151.5 441.7,152.7 445.1,151.3" fill="#3e26a8" stroke="#111" stroke-width="0.5"/>
<polygon points="482,149.8 478.6,151.2 482.6,152.3 486,150.9" fill="#3e26a8" stroke="#111" stroke-width="0.5"/>
<polygon points="351.9,151 348.5,152.4 352.5,153.6 355.9,152.1" fill="#3e26a8" stroke="#111" stroke-width="0.5"/>
<polygon points="392.8,150.7 389.4,152.2 393.4,153.3 396.8,151.9" fill="#3e26a8" stroke="#111" stroke-width="0.5"/>
<polygon points="433.7,150.4 430.3,151.8 434.3,153 437.7,151.5" fill="#3e26a8" stroke="#111" stroke-width="0.5"/>
<polygon points="474.6,150.1 471.2,151.5 475.2,152.6 478.6,151.2" fill="#3e26a8" stroke="#111" stroke-width="0.5"/>
<polygon points="344.5,151.3 341.2,152.8 345.2,153.9 348.5,152.4" fill="#3e26a8" stroke="#111" stroke-width="0.5"/>
<polygon points="385.4,151 382.1,152.5 386.1,153.6 389.4,152.2" fill="#3e26a8" stroke="#111" stroke-width="0.5"/>
<polygon points="426.3,150.7 422.9,152.1 427,153.3 430.3,151.8" fill="#3e26a8" stroke="#111" stroke-width="0.5"/>
<polygon points="467.2,150.4 463.8,151.8 467.9,152.9 471.2,151.5" fill="#3e26a8" stroke="#111" stroke-width="0.5"/>
<polygon points="337.2,151.6 333.8,153.1 337.8,154.2 341.2,152.8" fill="#3e26a8" stroke="#111" stroke-width="0.5"/>
<polygon points="378,151.3 374.7,152.7 378.7,153.9 382.1,152.5" fill="#3e26a8" stroke="#111" stroke-width="0.5"/>
<polygon points="418.9,151 415.6,152.4 419.6,153.6 422.9,152.1" fill="#3e26a8" stroke="#111" stroke-width="0.5"/>
<polygon points="459.8,150.7 456.5,152.1 460.5,153.2 463.8,151.8" fill="#3e26a8" stroke="#111" stroke-width="0.5"/>
<polygon points="500.7,150.3 497.4,151.8 501.4,152.9 504.7,151.5" fill="#3e26a8" stroke="#111" stroke-width="0.5"/>
<polygon points="329.8,151.9 326.4,153.4 330.4,154.5 333.8,153.1" fill="#3e26a8" stroke="#111" stroke-width="0.5"/>
<polygon points="370.7,151.6 367.3,153 371.3,154.2 374.7,152.7" fill="#3e26a8" stroke="#111" stroke-width="0.5"/>
<polygon points="411.6,151.3 408.2,152.7 412.2,153.9 415.6,152.4" fill="#3e26a8" stroke="#111" stroke-width="0.5"/>
<polygon points="452.5,151 449.1,152.4 453.1,153.5 456.5,152.1" fill="#3e26a8" stroke="#111" stroke-width="0.5"/>
<polygon points="493.3,150.6 490,152 494,153.2 497.4,151.8" fill="#3e26a8" stroke="#111" stroke-width="0.5"/>
<polygon points="322.4,152.2 319,153.7 323,154.8 326.4,153.4" fill="#3e26a8" stroke="#111" stroke-width="0.5"/>
<polygon points="363.3,151.9 359.9,153.3 363.9,154.5 367.3,153" fill="#3e26a8" stroke="#111" stroke-width="0.5"/>
<polygon points="404.2,151.6 400.8,153 404.8,154.1 408.2,152.7" fill="#3e26a8" stroke="#111" stroke-width="0.5"/>
<polygon points="445.1,151.3 441.7,152.7 445.7,153.8 449.1,152.4" fill="#3e26a8" stroke="#111" stroke-width="0.5"/>
<polygon points="486,150.9 482.6,152.3 486.6,153.5 490,152" fill="#3e26a8" stroke="#111" stroke-width="0.5"/>
<polygon points="355.9,152.1 352.5,153.6 356.6,154.8 359.9,153.3" fill="#3e26a8" stroke="#111" stroke-width="0.5"/>
<polygon points="396.8,151.9 393.4,153.3 397.4,154.4 400.8,153" fill="#3e26a8" stroke="#111" stroke-width="0.5"/>
<polygon points="437.7,151.5 434.3,153 438.3,154.1 441.7,152.7" fill="#3e26a8" stroke="#111" stroke-width="0.5"/>
<polygon points="478.6,151.2 475.2,152.6 479.2,153.8 482.6,152.3" fill="#3e26a8" stroke="#111" stroke-width="0.5"/>
<polygon points="348.5,152.4 345.2,153.9 349.2,155 352.5,153.6" fill="#3e26a8" stroke="#111" stroke-width="0.5"/>
<polygon points="389.4,152.2 386.1,153.6 390.1,154.7 393.4,153.3" fill="#3e26a8" stroke="#111" stroke-width="0.5"/>
<polygon points="430.3,151.8 427,153.3 431,154.4 434.3,153" fill="#3e26a8" stroke="#111" stroke-width="0.5"/>
<polygon points="471.2,151.5 467.9,152.9 471.9,154.1 475.2,152.6" fill="#3e26a8" stroke="#111" stroke-width="0.5"/>
<polygon points="341.2,152.8 337.8,154.2 341.8,155.3 345.2,153.9" fill="#3e26a8" stroke="#111" stroke-width="0.5"/>
<polygon points="382.1,152.5 378.7,153.9 382.7,155 386.1,153.6" fill="#3e26a8" stroke="#111" stroke-width="0.5"/>
<polygon points="422.9,152.1 419.6,153.6 423.6,154.7 427,153.3" fill="#3e26a8" stroke="#111" stroke-width="0.5"/>
<polygon points="463.8,151.8 460.5,153.2 464.5,154.4 467.9,152.9" fill="#3e26a8" stroke="#111" stroke-width="0.5"/>
<polygon points="333.8,153.1 330.4,154.5 334.4,155.6 337.8,154.2" fill="#3e26a8" stroke="#111" stroke-width="0.5"/>
<polygon points="374.7,152.7 371.3,154.2 375.3,155.3 378.7,153.9" fill="#3e26a8" stroke="#111" stroke-width="0.5"/>
<polygon points="415.6,152.4 412.2,153.9 416.2,155 419.6,153.6" fill="#3e26a8" stroke="#111" stroke-width="0.5"/>
<polygon points="456.5,152.1 453.1,153.5 457.1,154.6 460.5,153.2" fill="#3e26a8" stroke="#111" stroke-width="0.5"/>
<polygon points="497.4,151.8 494,153.2 498,154.3 501.4,152.9" fill="#3e26a8" stroke="#111" stroke-width="0.5"/>
<polygon points="326.4,153.4 323,154.8 327.1,155.9 330.4,154.5" fill="#3e26a8" stroke="#111" stroke-width="0.5"/>
<polygon points="367.3,153 363.9,154.5 367.9,155.6 371.3,154.2" fill="#3e26a8" stroke="#111" stroke-width="0.5"/>
<polygon points="408.2,152.7 404.8,154.1 408.8,155.3 412.2,153.9" fill="#3e26a8" stroke="#111" stroke-width="0.5"/>
<polygon points="449.1,152.4 445.7,153.8 449.7,154.9 453.1,153.5" fill="#3e26a8" stroke="#111" stroke-width="0.5"/>
<polygon points="490,152 486.6,153.5 490.6,154.6 494,153.2" fill="#3e26a8" stroke="#111" stroke-width="0.5"/>
<polygon points="359.9,153.3 356.6,154.8 360.6,155.9 363.9,154.5" fill="#3e26a8" stroke="#111" stroke-width="0.5"/>
<polygon points="400.8,153 397.4,154.4 401.5,155.6 404.8,154.1" fill="#3e26a8" stroke="#111" stroke-width="0.5"/>
<polygon points="441.7,152.7 438.3,154.1 442.4,155.2 445.7,153.8" fill="#3e26a8" stroke="#111" stroke-width="0.5"/>
<polygon points="482.6,152.3 479.2,153.8 483.2,154.9 486.6,153.5" fill="#3e26a8" stroke="#111" stroke-width="0.5"/>
<polygon points="352.5,153.6 349.2,155 353.2,156.2 356.6,154.8" fill="#3e26a8" stroke="#111" stroke-width="0.5"/>
<polygon points="393.4,153.3 390.1,154.7 394.1,155.9 397.4,154.4" fill="#3e26a8" stroke="#111" stroke-width="0.5"/>
<polygon points="434.3,153 431,154.4 435,155.5 438.3,154.1" fill="#3e26a8" stroke="#111" stroke-width="0.5"/>
<polygon points="475.2,152.6 471.9,154.1 475.9,155.2 479.2,153.8" fill="#3e26a8" stroke="#111" stroke-width="0.5"/>
<polygon points="345.2,153.9 341.8,155.3 345.8,156.5 349.2,155" fill="#3e26a8" stroke="#111" stroke-width="0.5"/>
<polygon points="386.1,153.6 382.7,155 386.7,156.2 390.1,154.7" fill="#3e26a8" stroke="#111" stroke-width="0.5"/>
<polygon points="427,153.3 423.6,154.7 427.6,155.8 431,154.4" fill="#3e26a8" stroke="#111" stroke-width="0.5"/>
<polygon points="467.9,152.9 464.5,154.4 468.5,155.5 471.9,154.1" fill="#3e26a8" stroke="#111" stroke-width="0.5"/>
<polygon points="337.8,154.2 334.4,155.6 338.4,156.8 341.8,155.3" fill="#3e26a8" stroke="#111" stroke-width="0.5"/>
<polygon points="378.7,153.9 375.3,155.3 379.3,156.4 382.7,155" fill="#3e26a8" stroke="#111" stroke-width="0.5"/>
<polygon points="419.6,153.6 416.2,155 420.2,156.1 423.6,154.7" fill="#3e26a8" stroke="#111" stroke-width="0.5"/>
<polygon points="460.5,153.2 457.1,154.6 461.1,155.8 464.5,154.4" fill="#3e26a8" stroke="#111" stroke-width="0.5"/>
<polygon points="330.4,154.5 327.1,155.9 331.1,157.1 334.4,155.6" fill="#3e26a8" stroke="#111" stroke-width="0.5"/>
<polygon points="371.3,154.2 367.9,155.6 372,156.7 375.3,155.3" fill="#3e26a8" stroke="#111" stroke-width="0.5"/>
<polygon points="412.2,153.9 408.8,155.3 412.8,156.4 416.2,155" fill="#3e26a8" stroke="#111" stroke-width="0.5"/>
<polygon points="453.1,153.5 449.7,154.9 453.7,156.1 457.1,154.6" fill="#3e26a8" stroke="#111" stroke-width="0.5"/>
<polygon points="494,153.2 490.6,154.6 494.6,155.7 498,154.3" fill="#3e26a8" stroke="#111" stroke-width="0.5"/>
<polygon points="363.9,154.5 360.6,155.9 364.6,157 367.9,155.6" fill="#3e26a8" stroke="#111" stroke-width="0.5"/>
<polygon points="404.8,154.1 401.5,155.6 405.5,156.7 408.8,155.3" fill="#3e26a8" stroke="#111" stroke-width="0.5"/>
<polygon points="445.7,153.8 442.4,155.2 446.4,156.4 449.7,154.9" fill="#3e26a8" stroke="#111" stroke-width="0.5"/>
<polygon points="486.6,153.5 483.2,154.9 487.3,156 490.6,154.6" fill="#3e26a8" stroke="#111" stroke-width="0.5"/>
<polygon points="356.6,154.8 353.2,156.2 357.2,157.3 360.6,155.9" fill="#3e26a8" stroke="#111" stroke-width="0.5"/>
<polygon points="397.4,154.4 394.1,155.9 398.1,157 401.5,155.6" fill="#3e26a8" stroke="#111" stroke-width="0.5"/>
<polygon points="438.3,154.1 435,155.5 439,156.7 442.4,155.2" fill="#3e26a8" stroke="#111" stroke-width="0.5"/>
<polygon points="479.2,153.8 475.9,155.2 479.9,156.3 483.2,154.9" fill="#3e26a8" stroke="#111" stroke-width="0.5"/>
<polygon points="349.2,155 345.8,156.5 349.8,157.6 353.2,156.2" fill="#3e26a8" stroke="#111" stroke-width="0.5"/>
<polygon points="390.1,154.7 386.7,156.2 390.7,157.3 394.1,155.9" fill="#3e26a8" stroke="#111" stroke-width="0.5"/>
<polygon points="431,154.4 427.6,155.8 431.6,156.9 435,155.5" fill="#3e26a8" stroke="#111" stroke-width="0.5"/>
<polygon points="471.9,154.1 468.5,155.5 472.5,156.6 475.9,155.2" fill="#3e26a8" stroke="#111" stroke-width="0.5"/>
<polygon points="341.8,155.3 338.4,156.8 342.4,157.9 345.8,156.5" fill="#3e26a8" stroke="#111" stroke-width="0.5"/>
<polygon points="382.7,155 379.3,156.4 383.3,157.6 386.7,156.2" fill="#3e26a8" stroke="#111" stroke-width="0.5"/>
<polygon points="423.6,154.7 420.2,156.1 424.2,157.2 427.6,155.8" fill="#3e26a8" stroke="#111" stroke-width="0.5"/>
<polygon points="464.5,154.4 461.1,155.8 465.1,156.9 468.5,155.5" fill="#3e26a8" stroke="#111" stroke-width="0.5"/>
<polygon points="334.4,155.6 331.1,157.1 335.1,158.2 338.4,156.8" fill="#3e26a8" stroke="#111" stroke-width="0.5"/>
<polygon points="375.3,155.3 372,156.7 376,157.9 379.3,156.4" fill="#3e26a8" stroke="#111" stroke-width="0.5"/>
<polygon points="416.2,155 412.8,156.4 416.9,157.5 420.2,156.1" fill="#3e26a8" stroke="#111" stroke-width="0.5"/>
<polygon points="457.1,154.6 453.7,156.1 457.8,157.2 461.1,155.8" fill="#3e26a8" stroke="#111" stroke-width="0.5"/>
<polygon points="367.9,155.6 364.6,157 368.6,158.2 372,156.7" fill="#3e26a8" stroke="#111" stroke-width="0.5"/>
<polygon points="408.8,155.3 405.5,156.7 409.5,157.8 412.8,156.4" fill="#3e26a8" stroke="#111" stroke-width="0.5"/>
<polygon points="449.7,154.9 446.4,156.4 450.4,157.5 453.7,156.1" fill="#3e26a8" stroke="#111" stroke-width="0.5"/>
<polygon points="490.6,154.6 487.3,156 491.3,157.2 494.6,155.7" fill="#3e26a8" stroke="#111" stroke-width="0.5"/>
<polygon points="360.6,155.9 357.2,157.3 361.2,158.5 364.6,157" fill="#3e26a8" stroke="#111" stroke-width="0.5"/>
<polygon points="401.5,155.6 398.1,157 402.1,158.1 405.5,156.7" fill="#3e26a8" stroke="#111" stroke-width="0.5"/>
<polygon points="442.4,155.2 439,156.7 443,157.8 446.4,156.4" fill="#3e26a8" stroke="#111" stroke-width="0.5"/>
<polygon points="483.2,154.9 479.9,156.3 483.9,157.4 487.3,156" fill="#3e26a8" stroke="#111" stroke-width="0.5"/>
<polygon points="353.2,156.2 349.8,157.6 353.8,158.7 357.2,157.3" fill="#3e26a8" stroke="#111" stroke-width="0.5"/>
<polygon points="394.1,155.9 390.7,157.3 394.7,158.4 398.1,157" fill="#3e26a8" stroke="#111" stroke-width="0.5"/>
<polygon points="435,155.5 431.6,156.9 435.6,158.1 439,156.7" fill="#3e26a8" stroke="#111" stroke-width="0.5"/>
<polygon points="475.9,155.2 472.5,156.6 476.5,157.7 479.9,156.3" fill="#3e26a8" stroke="#111" stroke-width="0.5"/>
<polygon points="345.8,156.5 342.4,157.9 346.5,159 349.8,157.6" fill="#3e26a8" stroke="#111" stroke-width="0.5"/>
<polygon points="386.7,156.2 383.3,157.6 387.3,158.7 390.7,157.3" fill="#3e26a8" stroke="#111" stroke-width="0.5"/>
<polygon points="427.6,155.8 424.2,157.2 428.2,158.4 431.6,156.9" fill="#3e26a8" stroke="#111" stroke-width="0.5"/>
<polygon points="468.5,155.5 465.1,156.9 469.1,158 472.5,156.6" fill="#3e26a8" stroke="#111" stroke-width="0.5"/>
<polygon points="338.4,156.8 335.1,158.2 339.1,159.3 342.4,157.9" fill="#3e26a8" stroke="#111" stroke-width="0.5"/>
<polygon points="379.3,156.4 376,157.9 380,159 383.3,157.6" fill="#3e26a8" stroke="#111" stroke-width="0.5"/>
<polygon points="420.2,156.1 416.9,157.5 420.9,158.7 424.2,157.2" fill="#3e26a8" stroke="#111" stroke-width="0.5"/>
<polygon points="461.1,155.8 457.8,157.2 461.8,158.3 465.1,156.9" fill="#3e26a8" stroke="#111" stroke-width="0.5"/>
<polygon points="372,156.7 368.6,158.2 372.6,159.3 376,157.9" fill="#3e26a8" stroke="#111" stroke-width="0.5"/>
<polygon points="412.8,156.4 409.5,157.8 413.5,159 416.9,157.5" fill="#3e26a8" stroke="#111" stroke-width="0.5"/>
<polygon points="453.7,156.1 450.4,157.5 454.4,158.6 457.8,157.2" fill="#3e26a8" stroke="#111" stroke-width="0.5"/>
<polygon points="364.6,157 361.2,158.5 365.2,159.6 368.6,158.2" fill="#3e26a8" stroke="#111" stroke-width="0.5"/>
<polygon points="405.5,156.7 402.1,158.1 406.1,159.3 409.5,157.8" fill="#3e26a8" stroke="#111" stroke-width="0.5"/>
<polygon points="446.4,156.4 443,157.8 447,158.9 450.4,157.5" fill="#3e26a8" stroke="#111" stroke-width="0.5"/>
<polygon points="487.3,156 483.9,157.4 487.9,158.6 491.3,157.2" fill="#3e26a8" stroke="#111" stroke-width="0.5"/>
<polygon points="357.2,157.3 353.8,158.7 357.8,159.9 361.2,158.5" fill="#3e26a8" stroke="#111" stroke-width="0.5"/>
<polygon points="398.1,157 394.7,158.4 398.7,159.5 402.1,158.1" fill="#3e26a8" stroke="#111" stroke-width="0.5"/>
<polygon points="439,156.7 435.6,158.1 439.6,159.2 443,157.8" fill="#3e26a8" stroke="#111" stroke-width="0.5"/>
<polygon points="479.9,156.3 476.5,157.7 480.5,158.9 483.9,157.4" fill="#3e26a8" stroke="#111" stroke-width="0.5"/>
<polygon points="349.8,157.6 346.5,159 350.5,160.2 353.8,158.7" fill="#3e26a8" stroke="#111" stroke-width="0.5"/>
<polygon points="390.7,157.3 387.3,158.7 391.4,159.8 394.7,158.4" fill="#3e26a8" stroke="#111" stroke-width="0.5"/>
<polygon points="431.6,156.9 428.2,158.4 432.3,159.5 435.6,158.1" fill="#3e26a8" stroke="#111" stroke-width="0.5"/>
<polygon points="472.5,156.6 469.1,158 473.1,159.2 476.5,157.7" fill="#3e26a8" stroke="#111" stroke-width="0.5"/>
<polygon points="342.4,157.9 339.1,159.3 343.1,160.5 346.5,159" fill="#3e26a8" stroke="#111" stroke-width="0.5"/>
<polygon points="383.3,157.6 380,159 384,160.1 387.3,158.7" fill="#3e26a8" stroke="#111" stroke-width="0.5"/>
<polygon points="424.2,157.2 420.9,158.7 424.9,159.8 428.2,158.4" fill="#3e26a8" stroke="#111" stroke-width="0.5"/>
<polygon points="465.1,156.9 461.8,158.3 465.8,159.5 469.1,158" fill="#3e26a8" stroke="#111" stroke-width="0.5"/>
<polygon points="376,157.9 372.6,159.3 376.6,160.4 380,159" fill="#3e26a8" stroke="#111" stroke-width="0.5"/>
<polygon points="416.9,157.5 413.5,159 417.5,160.1 420.9,158.7" fill="#3e26a8" stroke="#111" stroke-width="0.5"/>
<polygon points="457.8,157.2 454.4,158.6 458.4,159.8 461.8,158.3" fill="#3e26a8" stroke="#111" stroke-width="0.5"/>
<polygon points="368.6,158.2 365.2,159.6 369.2,160.7 372.6,159.3" fill="#3e26a8" stroke="#111" stroke-width="0.5"/>
<polygon points="409.5,157.8 406.1,159.3 410.1,160.4 413.5,159" fill="#3e26a8" stroke="#111" stroke-width="0.5"/>
<polygon points="450.4,157.5 447,158.9 451,160 454.4,158.6" fill="#3e26a8" stroke="#111" stroke-width="0.5"/>
<polygon points="361.2,158.5 357.8,159.9 361.9,161 365.2,159.6" fill="#3e26a8" stroke="#111" stroke-width="0.5"/>
<polygon points="402.1,158.1 398.7,159.5 402.7,160.7 406.1,159.3" fill="#3e26a8" stroke="#111" stroke-width="0.5"/>
<polygon points="443,157.8 439.6,159.2 443.6,160.3 447,158.9" fill="#3e26a8" stroke="#111" stroke-width="0.5"/>
<polygon points="483.9,157.4 480.5,158.9 484.5,160 487.9,158.6" fill="#3e26a8" stroke="#111" stroke-width="0.5"/>
<polygon points="353.8,158.7 350.5,160.2 354.5,161.3 357.8,159.9" fill="#3e26a8" stroke="#111" stroke-width="0.5"/>
<polygon points="394.7,158.4 391.4,159.8 395.4,161 398.7,159.5" fill="#3e26a8" stroke="#111" stroke-width="0.5"/>
<polygon points="435.6,158.1 432.3,159.5 436.3,160.6 439.6,159.2" fill="#3e26a8" stroke="#111" stroke-width="0.5"/>
<polygon points="476.5,157.7 473.1,159.2 477.2,160.3 480.5,158.9" fill="#3e26a8" stroke="#111" stroke-width="0.5"/>
<polygon points="346.5,159 343.1,160.5 347.1,161.6 350.5,160.2" fill="#3e26a8" stroke="#111" stroke-width="0.5"/>
<polygon points="387.3,158.7 384,160.1 388,161.3 391.4,159.8" fill="#3e26a8" stroke="#111" stroke-width="0.5"/>
<polygon points="428.2,158.4 424.9,159.8 428.9,160.9 432.3,159.5" fill="#3e26a8" stroke="#111" stroke-width="0.5"/>
<polygon points="469.1,158 465.8,159.5 469.8,160.6 473.1,159.2" fill="#3e26a8" stroke="#111" stroke-width="0.5"/>
<polygon points="380,159 376.6,160.4 380.6,161.6 384,160.1" fill="#3e26a8" stroke="#111" stroke-width="0.5"/>
<polygon points="420.9,158.7 417.5,160.1 421.5,161.2 424.9,159.8" fill="#3e26a8" stroke="#111" stroke-width="0.5"/>
<polygon points="461.8,158.3 458.4,159.8 462.4,160.9 465.8,159.5" fill="#3e26a8" stroke="#111" stroke-width="0.5"/>
<polygon points="372.6,159.3 369.2,160.7 373.2,161.8 376.6,160.4" fill="#3e26a8" stroke="#111" stroke-width="0.5"/>
<polygon points="413.5,159 410.1,160.4 414.1,161.5 417.5,160.1" fill="#3e26a8" stroke="#111" stroke-width="0.5"/>
<polygon points="454.4,158.6 451,160 455,161.2 458.4,159.8" fill="#3e26a8" stroke="#111" stroke-width="0.5"/>
<polygon points="365.2,159.6 361.9,161 365.9,162.1 369.2,160.7" fill="#3e26a8" stroke="#111" stroke-width="0.5"/>
<polygon points="406.1,159.3 402.7,160.7 406.8,161.8 410.1,160.4" fill="#3e26a8" stroke="#111" stroke-width="0.5"/>
<polygon points="447,158.9 443.6,160.3 447.6,161.5 451,160" fill="#3e26a8" stroke="#111" stroke-width="0.5"/>
<polygon points="357.8,159.9 354.5,161.3 358.5,162.4 361.9,161" fill="#3e26a8" stroke="#111" stroke-width="0.5"/>
<polygon points="398.7,159.5 395.4,161 399.4,162.1 402.7,160.7" fill="#3e26a8" stroke="#111" stroke-width="0.5"/>
<polygon points="439.6,159.2 436.3,160.6 440.3,161.8 443.6,160.3" fill="#3e26a8" stroke="#111" stroke-width="0.5"/>
<polygon points="480.5,158.9 477.2,160.3 481.2,161.4 484.5,160" fill="#3e26a8" stroke="#111" stroke-width="0.5"/>
<polygon points="350.5,160.2 347.1,161.6 351.1,162.7 354.5,161.3" fill="#3e26a8" stroke="#111" stroke-width="0.5"/>
<polygon points="391.4,159.8 388,161.3 392,162.4 395.4,161" fill="#3e26a8" stroke="#111" stroke-width="0.5"/>
<polygon points="432.3,159.5 428.9,160.9 432.9,162.1 436.3,160.6" fill="#3e26a8" stroke="#111" stroke-width="0.5"/>
<polygon points="473.1,159.2 469.8,160.6 473.8,161.7 477.2,160.3" fill="#3e26a8" stroke="#111" stroke-width="0.5"/>
<polygon points="384,160.1 380.6,161.6 384.6,162.7 388,161.3" fill="#3e26a8" stroke="#111" stroke-width="0.5"/>
<polygon points="424.9,159.8 421.5,161.2 425.5,162.3 428.9,160.9" fill="#3e26a8" stroke="#111" stroke-width="0.5"/>
<polygon points="465.8,159.5 462.4,160.9 466.4,162 469.8,160.6" fill="#3e26a8" stroke="#111" stroke-width="0.5"/>
<polygon points="376.6,160.4 373.2,161.8 377.2,163 380.6,161.6" fill="#3e26a8" stroke="#111" stroke-width="0.5"/>
<polygon points="417.5,160.1 414.1,161.5 418.1,162.6 421.5,161.2" fill="#3e26a8" stroke="#111" stroke-width="0.5"/>
<polygon points="458.4,159.8 455,161.2 459,162.3 462.4,160.9" fill="#3e26a8" stroke="#111" stroke-width="0.5"/>
<polygon points="369.2,160.7 365.9,162.1 369.9,163.3 373.2,161.8" fill="#3e26a8" stroke="#111" stroke-width="0.5"/>
<polygon points="410.1,160.4 406.8,161.8 410.8,162.9 414.1,161.5" fill="#3e26a8" stroke="#111" stroke-width="0.5"/>
<polygon points="451,160 447.6,161.5 451.7,162.6 455,161.2" fill="#3e26a8" stroke="#111" stroke-width="0.5"/>
<polygon points="361.9,161 358.5,162.4 362.5,163.6 365.9,162.1" fill="#3e26a8" stroke="#111" stroke-width="0.5"/>
<polygon points="402.7,160.7 399.4,162.1 403.4,163.2 406.8,161.8" fill="#3e26a8" stroke="#111" stroke-width="0.5"/>
<polygon points="443.6,160.3 440.3,161.8 444.3,162.9 447.6,161.5" fill="#3e26a8" stroke="#111" stroke-width="0.5"/>
<polygon points="354.5,161.3 351.1,162.7 355.1,163.9 358.5,162.4" fill="#3e26a8" stroke="#111" stroke-width="0.5"/>
<polygon points="395.4,161 392,162.4 396,163.5 399.4,162.1" fill="#3e26a8" stroke="#111" stroke-width="0.5"/>
<polygon points="436.3,160.6 432.9,162.1 436.9,163.2 440.3,161.8" fill="#3e26a8" stroke="#111" stroke-width="0.5"/>
<polygon points="477.2,160.3 473.8,161.7 477.8,162.8 481.2,161.4" fill="#3e26a8" stroke="#111" stroke-width="0.5"/>
<polygon points="388,161.3 384.6,162.7 388.6,163.8 392,162.4" fill="#3e26a8" stroke="#111" stroke-width="0.5"/>
<polygon points="428.9,160.9 425.5,162.3 429.5,163.5 432.9,162.1" fill="#3e26a8" stroke="#111" stroke-width="0.5"/>
<polygon points="469.8,160.6 466.4,162 470.4,163.1 473.8,161.7" fill="#3e26a8" stroke="#111" stroke-width="0.5"/>
<polygon points="380.6,161.6 377.2,163 381.3,164.1 384.6,162.7" fill="#3e26a8" stroke="#111" stroke-width="0.5"/>
<polygon points="421.5,161.2 418.1,162.6 422.2,163.8 425.5,162.3" fill="#3e26a8" stroke="#111" stroke-width="0.5"/>
<polygon points="462.4,160.9 459,162.3 463,163.4 466.4,162" fill="#3e26a8" stroke="#111" stroke-width="0.5"/>
<polygon points="373.2,161.8 369.9,163.3 373.9,164.4 377.2,163" fill="#3e26a8" stroke="#111" stroke-width="0.5"/>
<polygon points="414.1,161.5 410.8,162.9 414.8,164.1 418.1,162.6" fill="#3e26a8" stroke="#111" stroke-width="0.5"/>
<polygon points="455,161.2 451.7,162.6 455.7,163.7 459,162.3" fill="#3e26a8" stroke="#111" stroke-width="0.5"/>
<polygon points="365.9,162.1 362.5,163.6 366.5,164.7 369.9,163.3" fill="#3e26a8" stroke="#111" stroke-width="0.5"/>
<polygon points="406.8,161.8 403.4,163.2 407.4,164.4 410.8,162.9" fill="#3e26a8" stroke="#111" stroke-width="0.5"/>
<polygon points="447.6,161.5 444.3,162.9 448.3,164 451.7,162.6" fill="#3e26a8" stroke="#111" stroke-width="0.5"/>
<polygon points="358.5,162.4 355.1,163.9 359.1,165 362.5,163.6" fill="#3e26a8" stroke="#111" stroke-width="0.5"/>
<polygon points="399.4,162.1 396,163.5 400,164.7 403.4,163.2" fill="#3e26a8" stroke="#111" stroke-width="0.5"/>
<polygon points="440.3,161.8 436.9,163.2 440.9,164.3 444.3,162.9" fill="#3e26a8" stroke="#111" stroke-width="0.5"/>
<polygon points="392,162.4 388.6,163.8 392.6,164.9 396,163.5" fill="#3e26a8" stroke="#111" stroke-width="0.5"/>
<polygon points="432.9,162.1 429.5,163.5 433.5,164.6 436.9,163.2" fill="#3e26a8" stroke="#111" stroke-width="0.5"/>
<polygon points="473.8,161.7 470.4,163.1 474.4,164.3 477.8,162.8" fill="#3e26a8" stroke="#111" stroke-width="0.5"/>
<polygon points="384.6,162.7 381.3,164.1 385.3,165.2 388.6,163.8" fill="#3e26a8" stroke="#111" stroke-width="0.5"/>
<polygon points="425.5,162.3 422.2,163.8 426.2,164.9 429.5,163.5" fill="#3e26a8" stroke="#111" stroke-width="0.5"/>
<polygon points="466.4,162 463,163.4 467.1,164.6 470.4,163.1" fill="#3e26a8" stroke="#111" stroke-width="0.5"/>
<polygon points="377.2,163 373.9,164.4 377.9,165.5 381.3,164.1" fill="#3e26a8" stroke="#111" stroke-width="0.5"/>
<polygon points="418.1,162.6 414.8,164.1 418.8,165.2 422.2,163.8" fill="#3e26a8" stroke="#111" stroke-width="0.5"/>
<polygon points="459,162.3 455.7,163.7 459.7,164.9 463,163.4" fill="#3e26a8" stroke="#111" stroke-width="0.5"/>
<polygon points="369.9,163.3 366.5,164.7 370.5,165.8 373.9,164.4" fill="#3e26a8" stroke="#111" stroke-width="0.5"/>
<polygon points="410.8,162.9 407.4,164.4 411.4,165.5 414.8,164.1" fill="#3e26a8" stroke="#111" stroke-width="0.5"/>
<polygon points="451.7,162.6 448.3,164 452.3,165.2 455.7,163.7" fill="#3e26a8" stroke="#111" stroke-width="0.5"/>
<polygon points="362.5,163.6 359.1,165 363.1,166.1 366.5,164.7" fill="#3e26a8" stroke="#111" stroke-width="0.5"/>
<polygon points="403.4,163.2 400,164.7 404,165.8 407.4,164.4" fill="#3e26a8" stroke="#111" stroke-width="0.5"/>
<polygon points="444.3,162.9 440.9,164.3 444.9,165.4 448.3,164" fill="#3e26a8" stroke="#111" stroke-width="0.5"/>
<polygon points="396,163.5 392.6,164.9 396.7,166.1 400,164.7" fill="#3e26a8" stroke="#111" stroke-width="0.5"/>
<polygon points="436.9,163.2 433.5,164.6 437.6,165.7 440.9,164.3" fill="#3e26a8" stroke="#111" stroke-width="0.5"/>
<polygon points="388.6,163.8 385.3,165.2 389.3,166.4 392.6,164.9" fill="#3e26a8" stroke="#111" stroke-width="0.5"/>
<polygon points="429.5,163.5 426.2,164.9 430.2,166 433.5,164.6" fill="#3e26a8" stroke="#111" stroke-width="0.5"/>
<polygon points="470.4,163.1 467.1,164.6 471.1,165.7 474.4,164.3" fill="#3e26a8" stroke="#111" stroke-width="0.5"/>
<polygon points="381.3,164.1 377.9,165.5 381.9,166.7 385.3,165.2" fill="#3e26a8" stroke="#111" stroke-width="0.5"/>
<polygon points="422.2,163.8 418.8,165.2 422.8,166.3 426.2,164.9" fill="#3e26a8" stroke="#111" stroke-width="0.5"/>
<polygon points="463,163.4 459.7,164.9 463.7,166 467.1,164.6" fill="#3e26a8" stroke="#111" stroke-width="0.5"/>
<polygon points="373.9,164.4 370.5,165.8 374.5,167 377.9,165.5" fill="#3e26a8" stroke="#111" stroke-width="0.5"/>
<polygon points="414.8,164.1 411.4,165.5 415.4,166.6 418.8,165.2" fill="#3e26a8" stroke="#111" stroke-width="0.5"/>
<polygon points="455.7,163.7 452.3,165.2 456.3,166.3 459.7,164.9" fill="#3e26a8" stroke="#111" stroke-width="0.5"/>
<polygon points="366.5,164.7 363.1,166.1 367.1,167.2 370.5,165.8" fill="#3e26a8" stroke="#111" stroke-width="0.5"/>
<polygon points="407.4,164.4 404,165.8 408,166.9 411.4,165.5" fill="#3e26a8" stroke="#111" stroke-width="0.5"/>
<polygon points="448.3,164 444.9,165.4 448.9,166.6 452.3,165.2" fill="#3e26a8" stroke="#111" stroke-width="0.5"/>
<polygon points="400,164.7 396.7,166.1 400.7,167.2 404,165.8" fill="#3e26a8" stroke="#111" stroke-width="0.5"/>
<polygon points="440.9,164.3 437.6,165.7 441.6,166.9 444.9,165.4" fill="#3e26a8" stroke="#111" stroke-width="0.5"/>
<polygon points="392.6,164.9 389.3,166.4 393.3,167.5 396.7,166.1" fill="#3e26a8" stroke="#111" stroke-width="0.5"/>
<polygon points="433.5,164.6 430.2,166 434.2,167.2 437.6,165.7" fill="#3e26a8" stroke="#111" stroke-width="0.5"/>
<polygon points="385.3,165.2 381.9,166.7 385.9,167.8 389.3,166.4" fill="#3e26a8" stroke="#111" stroke-width="0.5"/>
<polygon points="426.2,164.9 422.8,166.3 426.8,167.5 430.2,166" fill="#3e26a8" stroke="#111" stroke-width="0.5"/>
<polygon points="467.1,164.6 463.7,166 467.7,167.1 471.1,165.7" fill="#3e26a8" stroke="#111" stroke-width="0.5"/>
<polygon points="377.9,165.5 374.5,167 378.5,168.1 381.9,166.7" fill="#3e26a8" stroke="#111" stroke-width="0.5"/>
<polygon points="418.8,165.2 415.4,166.6 419.4,167.7 422.8,166.3" fill="#3e26a8" stroke="#111" stroke-width="0.5"/>
<polygon points="459.7,164.9 456.3,166.3 460.3,167.4 463.7,166" fill="#3e26a8" stroke="#111" stroke-width="0.5"/>
<polygon points="370.5,165.8 367.1,167.2 371.2,168.4 374.5,167" fill="#3e26a8" stroke="#111" stroke-width="0.5"/>
<polygon points="411.4,165.5 408,166.9 412.1,168 415.4,166.6" fill="#3e26a8" stroke="#111" stroke-width="0.5"/>
<polygon points="452.3,165.2 448.9,166.6 452.9,167.7 456.3,166.3" fill="#3e26a8" stroke="#111" stroke-width="0.5"/>
<polygon points="404,165.8 400.7,167.2 404.7,168.3 408,166.9" fill="#3e26a8" stroke="#111" stroke-width="0.5"/>
<polygon points="444.9,165.4 441.6,166.9 445.6,168 448.9,166.6" fill="#3e26a8" stroke="#111" stroke-width="0.5"/>
<polygon points="396.7,166.1 393.3,167.5 397.3,168.6 400.7,167.2" fill="#3e26a8" stroke="#111" stroke-width="0.5"/>
<polygon points="437.6,165.7 434.2,167.2 438.2,168.3 441.6,166.9" fill="#3e26a8" stroke="#111" stroke-width="0.5"/>
<polygon points="389.3,166.4 385.9,167.8 389.9,168.9 393.3,167.5" fill="#3e26a8" stroke="#111" stroke-width="0.5"/>
<polygon points="430.2,166 426.8,167.5 430.8,168.6 434.2,167.2" fill="#3e26a8" stroke="#111" stroke-width="0.5"/>
<polygon points="381.9,166.7 378.5,168.1 382.5,169.2 385.9,167.8" fill="#3e26a8" stroke="#111" stroke-width="0.5"/>
<polygon points="422.8,166.3 419.4,167.7 423.4,168.9 426.8,167.5" fill="#3e26a8" stroke="#111" stroke-width="0.5"/>
<polygon points="463.7,166 460.3,167.4 464.3,168.5 467.7,167.1" fill="#3e26a8" stroke="#111" stroke-width="0.5"/>
<polygon points="374.5,167 371.2,168.4 375.2,169.5 378.5,168.1" fill="#3e26a8" stroke="#111" stroke-width="0.5"/>
<polygon points="415.4,166.6 412.1,168 416.1,169.2 419.4,167.7" fill="#3e26a8" stroke="#111" stroke-width="0.5"/>
<polygon points="456.3,166.3 452.9,167.7 457,168.8 460.3,167.4" fill="#3e26a8" stroke="#111" stroke-width="0.5"/>
<polygon points="408,166.9 404.7,168.3 408.7,169.5 412.1,168" fill="#3e26a8" stroke="#111" stroke-width="0.5"/>
<polygon points="448.9,166.6 445.6,168 449.6,169.1 452.9,167.7" fill="#3e26a8" stroke="#111" stroke-width="0.5"/>
<polygon points="400.7,167.2 397.3,168.6 401.3,169.8 404.7,168.3" fill="#3e26a8" stroke="#111" stroke-width="0.5"/>
<polygon points="441.6,166.9 438.2,168.3 442.2,169.4 445.6,168" fill="#3e26a8" stroke="#111" stroke-width="0.5"/>
<polygon points="393.3,167.5 389.9,168.9 393.9,170.1 397.3,168.6" fill="#3e26a8" stroke="#111" stroke-width="0.5"/>
<polygon points="434.2,167.2 430.8,168.6 434.8,169.7 438.2,168.3" fill="#3e26a8" stroke="#111" stroke-width="0.5"/>
<polygon points="385.9,167.8 382.5,169.2 386.6,170.3 389.9,168.9" fill="#3e26a8" stroke="#111" stroke-width="0.5"/>
<polygon points="426.8,167.5 423.4,168.9 427.4,170 430.8,168.6" fill="#3e26a8" stroke="#111" stroke-width="0.5"/>
<polygon points="378.5,168.1 375.2,169.5 379.2,170.6 382.5,169.2" fill="#3e26a8" stroke="#111" stroke-width="0.5"/>
<polygon points="419.4,167.7 416.1,169.2 420.1,170.3 423.4,168.9" fill="#3e26a8" stroke="#111" stroke-width="0.5"/>
<polygon points="460.3,167.4 457,168.8 461,170 464.3,168.5" fill="#3e26a8" stroke="#111" stroke-width="0.5"/>
<polygon points="412.1,168 408.7,169.5 412.7,170.6 416.1,169.2" fill="#3e26a8" stroke="#111" stroke-width="0.5"/>
<polygon points="452.9,167.7 449.6,169.1 453.6,170.3 457,168.8" fill="#3e26a8" stroke="#111" stroke-width="0.5"/>
<polygon points="404.7,168.3 401.3,169.8 405.3,170.9 408.7,169.5" fill="#3e26a8" stroke="#111" stroke-width="0.5"/>
<polygon points="445.6,168 442.2,169.4 446.2,170.6 449.6,169.1" fill="#3e26a8" stroke="#111" stroke-width="0.5"/>
<polygon points="397.3,168.6 393.9,170.1 397.9,171.2 401.3,169.8" fill="#3e26a8" stroke="#111" stroke-width="0.5"/>
<polygon points="438.2,168.3 434.8,169.7 438.8,170.8 442.2,169.4" fill="#3e26a8" stroke="#111" stroke-width="0.5"/>
<polygon points="389.9,168.9 386.6,170.3 390.6,171.5 393.9,170.1" fill="#3e26a8" stroke="#111" stroke-width="0.5"/>
<polygon points="430.8,168.6 427.4,170 431.5,171.1 434.8,169.7" fill="#3e26a8" stroke="#111" stroke-width="0.5"/>
<polygon points="382.5,169.2 379.2,170.6 383.2,171.8 386.6,170.3" fill="#3e26a8" stroke="#111" stroke-width="0.5"/>
<polygon points="423.4,168.9 420.1,170.3 424.1,171.4 427.4,170" fill="#3e26a8" stroke="#111" stroke-width="0.5"/>
<polygon points="416.1,169.2 412.7,170.6 416.7,171.7 420.1,170.3" fill="#3e26a8" stroke="#111" stroke-width="0.5"/>
<polygon points="457,168.8 453.6,170.3 457.6,171.4 461,170" fill="#3e26a8" stroke="#111" stroke-width="0.5"/>
<polygon points="408.7,169.5 405.3,170.9 409.3,172 412.7,170.6" fill="#3e26a8" stroke="#111" stroke-width="0.5"/>
<polygon points="449.6,169.1 446.2,170.6 450.2,171.7 453.6,170.3" fill="#3e26a8" stroke="#111" stroke-width="0.5"/>
<polygon points="401.3,169.8 397.9,171.2 402,172.3 405.3,170.9" fill="#3e26a8" stroke="#111" stroke-width="0.5"/>
<polygon points="442.2,169.4 438.8,170.8 442.8,172 446.2,170.6" fill="#3e26a8" stroke="#111" stroke-width="0.5"/>
<polygon points="393.9,170.1 390.6,171.5 394.6,172.6 397.9,171.2" fill="#3e26a8" stroke="#111" stroke-width="0.5"/>
<polygon points="434.8,169.7 431.5,171.1 435.5,172.3 438.8,170.8" fill="#3e26a8" stroke="#111" stroke-width="0.5"/>
<polygon points="386.6,170.3 383.2,171.8 387.2,172.9 390.6,171.5" fill="#3e26a8" stroke="#111" stroke-width="0.5"/>
<polygon points="427.4,170 424.1,171.4 428.1,172.6 431.5,171.1" fill="#3e26a8" stroke="#111" stroke-width="0.5"/>
<polygon points="420.1,170.3 416.7,171.7 420.7,172.9 424.1,171.4" fill="#3e26a8" stroke="#111" stroke-width="0.5"/>
<polygon points="412.7,170.6 409.3,172 413.3,173.1 416.7,171.7" fill="#3e26a8" stroke="#111" stroke-width="0.5"/>
<polygon points="453.6,170.3 450.2,171.7 454.2,172.8 457.6,171.4" fill="#3e26a8" stroke="#111" stroke-width="0.5"/>
<polygon points="405.3,170.9 402,172.3 406,173.4 409.3,172" fill="#3e26a8" stroke="#111" stroke-width="0.5"/>
<polygon points="446.2,170.6 442.8,172 446.9,173.1 450.2,171.7" fill="#3e26a8" stroke="#111" stroke-width="0.5"/>
<polygon points="397.9,171.2 394.6,172.6 398.6,173.7 402,172.3" fill="#3e26a8" stroke="#111" stroke-width="0.5"/>
<polygon points="438.8,170.8 435.5,172.3 439.5,173.4 442.8,172" fill="#3e26a8" stroke="#111" stroke-width="0.5"/>
<polygon points="390.6,171.5 387.2,172.9 391.2,174 394.6,172.6" fill="#3e26a8" stroke="#111" stroke-width="0.5"/>
<polygon points="431.5,171.1 428.1,172.6 432.1,173.7 435.5,172.3" fill="#3e26a8" stroke="#111" stroke-width="0.5"/>
<polygon points="424.1,171.4 420.7,172.9 424.7,174 428.1,172.6" fill="#3e26a8" stroke="#111" stroke-width="0.5"/>
<polygon points="416.7,171.7 413.3,173.1 417.4,174.3 420.7,172.9" fill="#3e26a8" stroke="#111" stroke-width="0.5"/>
<polygon points="409.3,172 406,173.4 410,174.6 413.3,173.1" fill="#3e26a8" stroke="#111" stroke-width="0.5"/>
<polygon points="450.2,171.7 446.9,173.1 450.9,174.2 454.2,172.8" fill="#3e26a8" stroke="#111" stroke-width="0.5"/>
<polygon points="402,172.3 398.6,173.7 402.6,174.9 406,173.4" fill="#3e26a8" stroke="#111" stroke-width="0.5"/>
<polygon points="442.8,172 439.5,173.4 443.5,174.5 446.9,173.1" fill="#3e26a8" stroke="#111" stroke-width="0.5"/>
<polygon points="394.6,172.6 391.2,174 395.2,175.2 398.6,173.7" fill="#3e26a8" stroke="#111" stroke-width="0.5"/>
<polygon points="435.5,172.3 432.1,173.7 436.1,174.8 439.5,173.4" fill="#3e26a8" stroke="#111" stroke-width="0.5"/>
<polygon points="428.1,172.6 424.7,174 428.7,175.1 432.1,173.7" fill="#3e26a8" stroke="#111" stroke-width="0.5"/>
<polygon points="420.7,172.9 417.4,174.3 421.4,175.4 424.7,174" fill="#3e26a8" stroke="#111" stroke-width="0.5"/>
<polygon points="413.3,173.1 410,174.6 414,175.7 417.4,174.3" fill="#3e26a8" stroke="#111" stroke-width="0.5"/>
<polygon points="406,173.4 402.6,174.9 406.6,176 410,174.6" fill="#3e26a8" stroke="#111" stroke-width="0.5"/>
<polygon points="446.9,173.1 443.5,174.5 447.5,175.7 450.9,174.2" fill="#3e26a8" stroke="#111" stroke-width="0.5"/>
<polygon points="398.6,173.7 395.2,175.2 399.2,176.3 402.6,174.9" fill="#3e26a8" stroke="#111" stroke-width="0.5"/>
<polygon points="439.5,173.4 436.1,174.8 440.1,176 443.5,174.5" fill="#3e26a8" stroke="#111" stroke-width="0.5"/>
<polygon points="432.1,173.7 428.7,175.1 432.7,176.2 436.1,174.8" fill="#3e26a8" stroke="#111" stroke-width="0.5"/>
<polygon points="424.7,174 421.4,175.4 425.4,176.5 428.7,175.1" fill="#3e26a8" stroke="#111" stroke-width="0.5"/>
<polygon points="417.4,174.3 414,175.7 418,176.8 421.4,175.4" fill="#3e26a8" stroke="#111" stroke-width="0.5"/>
<polygon points="410,174.6 406.6,176 410.6,177.1 414,175.7" fill="#3e26a8" stroke="#111" stroke-width="0.5"/>
<polygon points="402.6,174.9 399.2,176.3 403.2,177.4 406.6,176" fill="#3e26a8" stroke="#111" stroke-width="0.5"/>
<polygon points="443.5,174.5 440.1,176 444.1,177.1 447.5,175.7" fill="#3e26a8" stroke="#111" stroke-width="0.5"/>
<polygon points="436.1,174.8 432.7,176.2 436.8,177.4 440.1,176" fill="#3e26a8" stroke="#111" stroke-width="0.5"/>
<polygon points="428.7,175.1 425.4,176.5 429.4,177.7 432.7,176.2" fill="#3e26a8" stroke="#111" stroke-width="0.5"/>
<polygon points="421.4,175.4 418,176.8 422,178 425.4,176.5" fill="#3e26a8" stroke="#111" stroke-width="0.5"/>
<polygon points="414,175.7 410.6,177.1 414.6,178.3 418,176.8" fill="#3e26a8" stroke="#111" stroke-width="0.5"/>
<polygon points="406.6,176 403.2,177.4 407.2,178.5 410.6,177.1" fill="#3e26a8" stroke="#111" stroke-width="0.5"/>
<polygon points="440.1,176 436.8,177.4 440.8,178.5 444.1,177.1" fill="#3e26a8" stroke="#111" stroke-width="0.5"/>
<polygon points="432.7,176.2 429.4,177.7 433.4,178.8 436.8,177.4" fill="#3e26a8" stroke="#111" stroke-width="0.5"/>
<polygon points="425.4,176.5 422,178 426,179.1 429.4,177.7" fill="#3e26a8" stroke="#111" stroke-width="0.5"/>
<polygon points="418,176.8 414.6,178.3 418.6,179.4 422,178" fill="#3e26a8" stroke="#111" stroke-width="0.5"/>
<polygon points="410.6,177.1 407.2,178.5 411.3,179.7 414.6,178.3" fill="#3e26a8" stroke="#111" stroke-width="0.5"/>
<polygon points="436.8,177.4 433.4,178.8 437.4,179.9 440.8,178.5" fill="#3e26a8" stroke="#111" stroke-width="0.5"/>
<polygon points="429.4,177.7 426,179.1 430,180.2 433.4,178.8" fill="#3e26a8" stroke="#111" stroke-width="0.5"/>
<polygon points="422,178 418.6,179.4 422.6,180.5 426,179.1" fill="#3e26a8" stroke="#111" stroke-width="0.5"/>
<polygon points="414.6,178.3 411.3,179.7 415.3,180.8 418.6,179.4" fill="#3e26a8" stroke="#111" stroke-width="0.5"/>
<polygon points="433.4,178.8 430,180.2 434,181.4 437.4,179.9" fill="#3e26a8" stroke="#111" stroke-width="0.5"/>
<polygon points="426,179.1 422.6,180.5 426.7,181.6 430,180.2" fill="#3e26a8" stroke="#111" stroke-width="0.5"/>
<polygon points="418.6,179.4 415.3,180.8 419.3,181.9 422.6,180.5" fill="#3e26a8" stroke="#111" stroke-width="0.5"/>
<polygon points="430,180.2 426.7,181.6 430.7,182.8 434,181.4" fill="#3e26a8" stroke="#111" stroke-width="0.5"/>
<polygon points="422.6,180.5 419.3,181.9 423.3,183.1 426.7,181.6" fill="#3e26a8" stroke="#111" stroke-width="0.5"/>
<polygon points="426.7,181.6 423.3,183.1 427.3,184.2 430.7,182.8" fill="#3e26a8" stroke="#111" stroke-width="0.5"/>
<polygon points="307,140.5 408,97.8 528.3,131.7 427.3,174.4" fill="#ff0000" fill-opacity="0.33"/>
<polygon points="394.7,105.9 395.2,105.4 395.6,105.8" fill="#422ec0" stroke="#111" stroke-width="0.5"/>
<polygon points="431.1,104.2 429.7,105.5 432.1,103.3" fill="#4852f4" stroke="#111" stroke-width="0.5"/>
<polygon points="395.6,105.8 395.2,105.4 399.2,101.4 401.8,106" fill="#4332cb" stroke="#111" stroke-width="0.5"/>
<polygon points="394.7,105.9 388.3,106.4 391.8,100.2 395.2,105.4" fill="#4332cb" stroke="#111" stroke-width="0.5"/>
<polygon points="401.8,106 399.2,101.4 403.2,100.3 406.4,106.9" fill="#463cde" stroke="#111" stroke-width="0.5"/>
<polygon points="432.1,103.3 429.7,105.5 425.5,109.8 426,109.3 436.1,95.6" fill="#3875fe" stroke="#111" stroke-width="0.5"/>
<polygon points="406.4,106.9 403.2,100.3 407.2,102.6 410.2,108.1" fill="#463cde" stroke="#111" stroke-width="0.5"/>
<polygon points="388.3,106.4 386.9,106.7 384.4,105.1 388.4,94.2 391.8,100.2" fill="#463cde" stroke="#111" stroke-width="0.5"/>
<polygon points="395.2,105.4 391.8,100.2 395.8,92.6 399.2,101.4" fill="#4741e5" stroke="#111" stroke-width="0.5"/>
<polygon points="425.5,109.8 421.7,111.1 422.6,110.6 426,109.3" fill="#4332cb" stroke="#111" stroke-width="0.5"/>
<polygon points="410.2,108.1 407.2,102.6 411.2,106.6 413.4,109.6" fill="#463cde" stroke="#111" stroke-width="0.5"/>
<polygon points="413.4,109.6 411.2,106.6 415.2,110.7 416.2,111.3" fill="#4537d5" stroke="#111" stroke-width="0.5"/>
<polygon points="421.7,111.1 416.2,111.3 415.2,110.7 419.2,112.6 422.6,110.6" fill="#4537d5" stroke="#111" stroke-width="0.5"/>
<polygon points="436.1,95.6 426,109.3 430,104.9 440.1,82.8" fill="#259be8" stroke="#111" stroke-width="0.5"/>
<polygon points="399.2,101.4 395.8,92.6 399.8,89.8 403.2,100.3" fill="#4852f4" stroke="#111" stroke-width="0.5"/>
<polygon points="384.4,105.1 381.1,103.6 385.1,89.4 388.4,94.2" fill="#4747eb" stroke="#111" stroke-width="0.5"/>
<polygon points="426,109.3 422.6,110.6 426.6,108.1 430,104.9" fill="#4747eb" stroke="#111" stroke-width="0.5"/>
<polygon points="422.6,110.6 419.2,112.6 422.9,113.8 423.3,113.9 426.6,108.1" fill="#4747eb" stroke="#111" stroke-width="0.5"/>
<polygon points="403.2,100.3 399.8,89.8 403.8,92.9 407.2,102.6" fill="#4758f8" stroke="#111" stroke-width="0.5"/>
<polygon points="391.8,100.2 388.4,94.2 392.5,82 395.8,92.6" fill="#4758f8" stroke="#111" stroke-width="0.5"/>
<polygon points="411.2,106.6 407.9,99.1 411.9,106.4 415.2,110.7" fill="#484df0" stroke="#111" stroke-width="0.5"/>
<polygon points="415.2,110.7 411.9,106.4 415.9,112.7 419.2,112.6" fill="#4741e5" stroke="#111" stroke-width="0.5"/>
<polygon points="430,104.9 426.6,108.1 430.6,113.1 434,107" fill="#4758f8" stroke="#111" stroke-width="0.5"/>
<polygon points="407.2,102.6 403.8,92.9 407.9,99.1 411.2,106.6" fill="#4758f8" stroke="#111" stroke-width="0.5"/>
<polygon points="431,113.7 430.6,113.1 430.2,113.8" fill="#4747eb" stroke="#111" stroke-width="0.5"/>
<polygon points="434,107 430.6,113.1 431,113.7 436.7,113.9 438,110.3" fill="#4758f8" stroke="#111" stroke-width="0.5"/>
<polygon points="426.6,108.1 423.3,113.9 430.2,113.8 430.6,113.1" fill="#4852f4" stroke="#111" stroke-width="0.5"/>
<polygon points="422.9,113.8 419.2,112.6 415.9,112.7 417.4,114.6" fill="#4741e5" stroke="#111" stroke-width="0.5"/>
<polygon points="381.1,103.6 377.7,103.9 381.7,88.4 385.1,89.4" fill="#4852f4" stroke="#111" stroke-width="0.5"/>
<polygon points="438,110.3 436.7,113.9 440.8,115 442,110.6" fill="#484df0" stroke="#111" stroke-width="0.5"/>
<polygon points="442,110.6 440.8,115 445,116 446,112.6" fill="#4852f4" stroke="#111" stroke-width="0.5"/>
<polygon points="417.4,114.6 415.9,112.7 412.5,110.6 415.7,116.5" fill="#4747eb" stroke="#111" stroke-width="0.5"/>
<polygon points="440.1,82.8 430,104.9 434,107 444.1,64.1" fill="#08b5d0" stroke="#111" stroke-width="0.5"/>
<polygon points="377.7,103.9 374.3,105.7 378.3,90.6 381.7,88.4" fill="#4758f8" stroke="#111" stroke-width="0.5"/>
<polygon points="411.9,106.4 408.5,101 412.5,110.6 415.9,112.7" fill="#4758f8" stroke="#111" stroke-width="0.5"/>
<polygon points="446,112.6 445,116 449.4,117 450,114.9" fill="#484df0" stroke="#111" stroke-width="0.5"/>
<polygon points="374.3,105.7 371,108.1 375,94.1 378.3,90.6" fill="#4852f4" stroke="#111" stroke-width="0.5"/>
<polygon points="395.8,92.6 392.5,82 396.5,76.9 399.8,89.8" fill="#3875fe" stroke="#111" stroke-width="0.5"/>
<polygon points="413.9,117.8 413.1,117.8 413.5,118.3" fill="#463cde" stroke="#111" stroke-width="0.5"/>
<polygon points="450,114.9 449.4,117 453.9,117.9 454,117.5" fill="#4747eb" stroke="#111" stroke-width="0.5"/>
<polygon points="407.9,99.1 404.5,90.3 408.5,101 411.9,106.4" fill="#4269fe" stroke="#111" stroke-width="0.5"/>
<polygon points="388.4,94.2 385.1,89.4 389.1,73 392.5,82" fill="#3e6fff" stroke="#111" stroke-width="0.5"/>
<polygon points="415.7,116.5 412.5,110.6 409.1,108.7 413.1,117.8 413.9,117.8" fill="#4852f4" stroke="#111" stroke-width="0.5"/>
<polygon points="371,108.1 367.6,111 371.6,98.8 375,94.1" fill="#4852f4" stroke="#111" stroke-width="0.5"/>
<polygon points="454.8,118.1 454,117.5 453.9,117.9" fill="#4741e5" stroke="#111" stroke-width="0.5"/>
<polygon points="367.6,111 364.2,114.3 368.2,104.2 371.6,98.8" fill="#484df0" stroke="#111" stroke-width="0.5"/>
<polygon points="403.8,92.9 400.5,81.2 404.5,90.3 407.9,99.1" fill="#327cfc" stroke="#111" stroke-width="0.5"/>
<polygon points="399.8,89.8 396.5,76.9 400.5,81.2 403.8,92.9" fill="#2f81fa" stroke="#111" stroke-width="0.5"/>
<polygon points="413.5,118.3 413.1,117.8 409.8,118.5 410.6,119.8" fill="#4741e5" stroke="#111" stroke-width="0.5"/>
<polygon points="364.2,114.3 361,117.6 360.9,117.7 364.9,109.7 368.2,104.2" fill="#4747eb" stroke="#111" stroke-width="0.5"/>
<polygon points="408.5,101 405.1,96.6 409.1,108.7 412.5,110.6" fill="#4269fe" stroke="#111" stroke-width="0.5"/>
<polygon points="360.9,117.7 358.7,119.4 361.5,115.2 364.9,109.7" fill="#4741e5" stroke="#111" stroke-width="0.5"/>
<polygon points="409.1,108.7 405.8,108.7 409.8,118.5 413.1,117.8" fill="#465efb" stroke="#111" stroke-width="0.5"/>
<polygon points="358.7,119.4 357,121.3 358.1,120.2 361.5,115.2" fill="#4537d5" stroke="#111" stroke-width="0.5"/>
<polygon points="444.1,64.1 434,107 438,110.3 448.1,40.7" fill="#31c69f" stroke="#111" stroke-width="0.5"/>
<polygon points="410.6,119.8 409.8,118.5 406.4,120.1 407.1,121.2" fill="#4741e5" stroke="#111" stroke-width="0.5"/>
<polygon points="357,121.3 356.5,122.4 358.1,120.2" fill="#4332cb" stroke="#111" stroke-width="0.5"/>
<polygon points="385.1,89.4 381.7,88.4 385.7,70 389.1,73" fill="#2e87f7" stroke="#111" stroke-width="0.5"/>
<polygon points="404.5,90.3 401.1,82.9 405.1,96.6 408.5,101" fill="#2d8cf3" stroke="#111" stroke-width="0.5"/>
<polygon points="405.8,108.7 402.4,110.6 406.4,120.1 409.8,118.5" fill="#465efb" stroke="#111" stroke-width="0.5"/>
<polygon points="407.1,121.2 406.4,120.1 403,122.2 403.2,122.5" fill="#4741e5" stroke="#111" stroke-width="0.5"/>
<polygon points="405.1,96.6 401.8,95.7 405.8,108.7 409.1,108.7" fill="#2f81fa" stroke="#111" stroke-width="0.5"/>
<polygon points="392.5,82 389.1,73 393.1,65.3 396.5,76.9" fill="#259be8" stroke="#111" stroke-width="0.5"/>
<polygon points="402.4,110.6 399,113.2 403,122.2 406.4,120.1" fill="#465efb" stroke="#111" stroke-width="0.5"/>
<polygon points="381.7,88.4 378.3,90.6 382.4,72.8 385.7,70" fill="#2d8cf3" stroke="#111" stroke-width="0.5"/>
<polygon points="403.2,122.5 403,122.2 402.2,122.8" fill="#4741e5" stroke="#111" stroke-width="0.5"/>
<polygon points="361.5,115.2 358.1,120.2 362.2,115.7 365.5,108.8" fill="#4852f4" stroke="#111" stroke-width="0.5"/>
<polygon points="484.2,105.8 477.4,122.1 483.3,122.4 488.2,113.3" fill="#327cfc" stroke="#111" stroke-width="0.5"/>
<polygon points="364.9,109.7 361.5,115.2 365.5,108.8 368.9,101.1" fill="#465efb" stroke="#111" stroke-width="0.5"/>
<polygon points="480.2,96.7 472.2,121.5 477.4,122.1 484.2,105.8" fill="#2797eb" stroke="#111" stroke-width="0.5"/>
<polygon points="358.1,120.2 356.5,122.4 356.3,123.5 358.8,121.8 362.2,115.7" fill="#4747eb" stroke="#111" stroke-width="0.5"/>
<polygon points="488.2,113.3 483.3,122.4 490.1,122.4 492.2,119.4" fill="#465efb" stroke="#111" stroke-width="0.5"/>
<polygon points="401.8,95.7 398.4,97.8 402.4,110.6 405.8,108.7" fill="#2e87f7" stroke="#111" stroke-width="0.5"/>
<polygon points="400.5,81.2 397.1,71 401.1,82.9 404.5,90.3" fill="#20a5e3" stroke="#111" stroke-width="0.5"/>
<polygon points="368.2,104.2 364.9,109.7 368.9,101.1 372.3,93" fill="#4269fe" stroke="#111" stroke-width="0.5"/>
<polygon points="378.3,90.6 375,94.1 379,78.1 382.4,72.8" fill="#2d8cf3" stroke="#111" stroke-width="0.5"/>
<polygon points="476.2,86.1 467.3,120.7 472.2,121.5 480.2,96.7" fill="#12b1d6" stroke="#111" stroke-width="0.5"/>
<polygon points="356.3,123.5 356.6,125.1 358.8,121.8" fill="#463cde" stroke="#111" stroke-width="0.5"/>
<polygon points="399,113.2 395.7,116.5 399.3,123.7 402.2,122.8 403,122.2" fill="#4758f8" stroke="#111" stroke-width="0.5"/>
<polygon points="371.6,98.8 368.2,104.2 372.3,93 375.6,85.1" fill="#327cfc" stroke="#111" stroke-width="0.5"/>
<polygon points="494.5,122.1 492.2,119.4 490.1,122.4" fill="#4758f8" stroke="#111" stroke-width="0.5"/>
<polygon points="375,94.1 371.6,98.8 375.6,85.1 379,78.1" fill="#2f81fa" stroke="#111" stroke-width="0.5"/>
<polygon points="472.2,74.2 462.7,119.8 467.3,120.7 476.2,86.1" fill="#0bbdbd" stroke="#111" stroke-width="0.5"/>
<polygon points="396.5,76.9 393.1,65.3 397.1,71 400.5,81.2" fill="#1ca9df" stroke="#111" stroke-width="0.5"/>
<polygon points="401.1,82.9 397.8,80.8 401.8,95.7 405.1,96.6" fill="#20a5e3" stroke="#111" stroke-width="0.5"/>
<polygon points="398.4,97.8 395,101.3 399,113.2 402.4,110.6" fill="#2e87f7" stroke="#111" stroke-width="0.5"/>
<polygon points="399.3,123.7 395.7,116.5 392.3,120.1 395,124.9" fill="#4852f4" stroke="#111" stroke-width="0.5"/>
<polygon points="448.1,40.7 438,110.3 442,110.6 452.1,21.5" fill="#9dc943" stroke="#111" stroke-width="0.5"/>
<polygon points="468.1,61.4 458.3,118.9 462.7,119.8 472.2,74.2" fill="#57cc7a" stroke="#111" stroke-width="0.5"/>
<polygon points="395,101.3 391.7,105.8 395.7,116.5 399,113.2" fill="#2f81fa" stroke="#111" stroke-width="0.5"/>
<polygon points="395,124.9 392.3,120.1 388.9,123.9 390.3,126" fill="#484df0" stroke="#111" stroke-width="0.5"/>
<polygon points="362.2,115.7 358.8,121.8 362.8,121.2 366.2,114.4" fill="#4758f8" stroke="#111" stroke-width="0.5"/>
<polygon points="358.8,121.8 356.6,125.1 359.5,126.7 362.8,121.2" fill="#4747eb" stroke="#111" stroke-width="0.5"/>
<polygon points="391.7,105.8 388.3,110.9 392.3,120.1 395.7,116.5" fill="#3875fe" stroke="#111" stroke-width="0.5"/>
<polygon points="365.5,108.8 362.2,115.7 366.2,114.4 369.5,106.5" fill="#4269fe" stroke="#111" stroke-width="0.5"/>
<polygon points="464.1,48.4 454,117.5 454.8,118.1 458.3,118.9 468.1,61.4" fill="#e6bb2d" stroke="#111" stroke-width="0.5"/>
<polygon points="397.8,80.8 394.4,83.3 398.4,97.8 401.8,95.7" fill="#18addb" stroke="#111" stroke-width="0.5"/>
<polygon points="388.3,110.9 384.9,116.3 388.9,123.9 392.3,120.1" fill="#4269fe" stroke="#111" stroke-width="0.5"/>
<polygon points="390.3,126 388.9,123.9 386.6,126.6" fill="#4747eb" stroke="#111" stroke-width="0.5"/>
<polygon points="368.9,101.1 365.5,108.8 369.5,106.5 372.9,97.7" fill="#2f81fa" stroke="#111" stroke-width="0.5"/>
<polygon points="389.1,73 385.7,70 389.7,60.4 393.1,65.3" fill="#08b5d0" stroke="#111" stroke-width="0.5"/>
<polygon points="384.9,116.3 381.6,121.5 385,126.9 386.6,126.6 388.9,123.9" fill="#4758f8" stroke="#111" stroke-width="0.5"/>
<polygon points="460.1,36.4 450,114.9 454,117.5 464.1,48.4" fill="#f8dc29" stroke="#111" stroke-width="0.5"/>
<polygon points="362.8,121.2 359.5,126.7 364,127.7 366.8,123.2" fill="#484df0" stroke="#111" stroke-width="0.5"/>
<polygon points="366.2,114.4 362.8,121.2 366.8,123.2 370.2,116.8" fill="#465efb" stroke="#111" stroke-width="0.5"/>
<polygon points="394.4,83.3 391,87.9 395,101.3 398.4,97.8" fill="#1ca9df" stroke="#111" stroke-width="0.5"/>
<polygon points="397.1,71 393.7,67.4 397.8,80.8 401.1,82.9" fill="#02bac3" stroke="#111" stroke-width="0.5"/>
<polygon points="372.3,93 368.9,101.1 372.9,97.7 376.3,88.4" fill="#2b91ef" stroke="#111" stroke-width="0.5"/>
<polygon points="385,126.9 381.6,121.5 378.2,126.3 379.2,127.6" fill="#484df0" stroke="#111" stroke-width="0.5"/>
<polygon points="452.1,21.5 442,110.6 446,112.6 456.1,26.7" fill="#f8dc29" stroke="#111" stroke-width="0.5"/>
<polygon points="369.5,106.5 366.2,114.4 370.2,116.8 373.5,109.4" fill="#3875fe" stroke="#111" stroke-width="0.5"/>
<polygon points="456.1,26.7 446,112.6 450,114.9 460.1,36.4" fill="#f9fb15" stroke="#111" stroke-width="0.5"/>
<polygon points="380.9,108 377.6,114.9 381.6,121.5 384.9,116.3" fill="#3e6fff" stroke="#111" stroke-width="0.5"/>
<polygon points="391,87.9 387.7,94 391.7,105.8 395,101.3" fill="#20a5e3" stroke="#111" stroke-width="0.5"/>
<polygon points="384.3,100.9 380.9,108 384.9,116.3 388.3,110.9" fill="#2e87f7" stroke="#111" stroke-width="0.5"/>
<polygon points="377.6,114.9 374.2,121.1 378.2,126.3 381.6,121.5" fill="#465efb" stroke="#111" stroke-width="0.5"/>
<polygon points="370.2,116.8 366.8,123.2 370.8,126.6 374.2,121.1" fill="#4758f8" stroke="#111" stroke-width="0.5"/>
<polygon points="387.7,94 384.3,100.9 388.3,110.9 391.7,105.8" fill="#2797eb" stroke="#111" stroke-width="0.5"/>
<polygon points="373.5,109.4 370.2,116.8 374.2,121.1 377.6,114.9" fill="#3e6fff" stroke="#111" stroke-width="0.5"/>
<polygon points="366.8,123.2 364,127.7 369.8,128 370.8,126.6" fill="#484df0" stroke="#111" stroke-width="0.5"/>
<polygon points="374.2,121.1 370.8,126.6 372.2,128 377.1,127.8 378.2,126.3" fill="#4852f4" stroke="#111" stroke-width="0.5"/>
<polygon points="379.2,127.6 378.2,126.3 377.1,127.8" fill="#4741e5" stroke="#111" stroke-width="0.5"/>
<polygon points="372.9,97.7 369.5,106.5 373.5,109.4 376.9,101.1" fill="#2d8cf3" stroke="#111" stroke-width="0.5"/>
<polygon points="376.9,101.1 373.5,109.4 377.6,114.9 380.9,108" fill="#2e87f7" stroke="#111" stroke-width="0.5"/>
<polygon points="375.6,85.1 372.3,93 376.3,88.4 379.6,79.1" fill="#20a5e3" stroke="#111" stroke-width="0.5"/>
<polygon points="372.2,128 370.8,126.6 369.8,128" fill="#4741e5" stroke="#111" stroke-width="0.5"/>
<polygon points="393.1,65.3 389.7,60.4 393.7,67.4 397.1,71" fill="#24c1ae" stroke="#111" stroke-width="0.5"/>
<polygon points="380.3,92.4 376.9,101.1 380.9,108 384.3,100.9" fill="#259be8" stroke="#111" stroke-width="0.5"/>
<polygon points="385.7,70 382.4,72.8 386.4,64 389.7,60.4" fill="#02bac3" stroke="#111" stroke-width="0.5"/>
<polygon points="379,78.1 375.6,85.1 379.6,79.1 383,70.6" fill="#12b1d6" stroke="#111" stroke-width="0.5"/>
<polygon points="376.3,88.4 372.9,97.7 376.9,101.1 380.3,92.4" fill="#20a5e3" stroke="#111" stroke-width="0.5"/>
<polygon points="393.7,67.4 390.4,70.4 394.4,83.3 397.8,80.8" fill="#24c1ae" stroke="#111" stroke-width="0.5"/>
<polygon points="382.4,72.8 379,78.1 383,70.6 386.4,64" fill="#02bac3" stroke="#111" stroke-width="0.5"/>
<polygon points="383.6,83.8 380.3,92.4 384.3,100.9 387.7,94" fill="#18addb" stroke="#111" stroke-width="0.5"/>
<polygon points="387,76.2 383.6,83.8 387.7,94 391,87.9" fill="#02bac3" stroke="#111" stroke-width="0.5"/>
<polygon points="390.4,70.4 387,76.2 391,87.9 394.4,83.3" fill="#19bfb6" stroke="#111" stroke-width="0.5"/>
<polygon points="379.6,79.1 376.3,88.4 380.3,92.4 383.6,83.8" fill="#08b5d0" stroke="#111" stroke-width="0.5"/>
<polygon points="389.7,60.4 386.4,64 390.4,70.4 393.7,67.4" fill="#3fca8e" stroke="#111" stroke-width="0.5"/>
<polygon points="383,70.6 379.6,79.1 383.6,83.8 387,76.2" fill="#19bfb6" stroke="#111" stroke-width="0.5"/>
<polygon points="386.4,64 383,70.6 387,76.2 390.4,70.4" fill="#31c69f" stroke="#111" stroke-width="0.5"/>
<polygon points="25.3,228.3 125.4,185.5 247.1,221.3 147,264.1" fill="#fff"/><path d="M125.4 185.5L25.3 228.3M130.3 186.9L30.2 229.7M135.1 188.4L35.0 231.2M140.0 189.8L39.9 232.6M144.9 191.2L44.8 234.0M149.7 192.7L49.6 235.5M154.6 194.1L54.5 236.9M159.5 195.5L59.4 238.3M164.3 197.0L64.2 239.8M169.2 198.4L69.1 241.2M174.1 199.8L74.0 242.6M178.9 201.3L78.8 244.1M183.8 202.7L83.7 245.5M188.7 204.1L88.6 246.9M193.6 205.5L93.5 248.3M198.4 207.0L98.3 249.8M203.3 208.4L103.2 251.2M208.2 209.8L108.1 252.6M213.0 211.3L112.9 254.1M217.9 212.7L117.8 255.5M222.8 214.1L122.7 256.9M227.6 215.6L127.5 258.4M232.5 217.0L132.4 259.8M237.4 218.4L137.3 261.2M242.2 219.9L142.1 262.7M247.1 221.3L147.0 264.1" stroke="#999" stroke-width="0.4" fill="none"/><path d="M125.4 185.5L247.1 221.3M121.4 187.2L243.1 223.0M117.4 188.9L239.1 224.7M113.4 190.6L235.1 226.4M109.4 192.3L231.1 228.1M105.4 194.1L227.1 229.9M101.4 195.8L223.1 231.6M97.4 197.5L219.1 233.3M93.4 199.2L215.1 235.0M89.4 200.9L211.1 236.7M85.4 202.6L207.1 238.4M81.4 204.3L203.1 240.1M77.4 206.0L199.1 241.8M73.3 207.8L195.0 243.6M69.3 209.5L191.0 245.3M65.3 211.2L187.0 247.0M61.3 212.9L183.0 248.7M57.3 214.6L179.0 250.4M53.3 216.3L175.0 252.1M49.3 218.0L171.0 253.8M45.3 219.7L167.0 255.5M41.3 221.5L163.0 257.3M37.3 223.2L159.0 259.0M33.3 224.9L155.0 260.7M29.3 226.6L151.0 262.4M25.3 228.3L147.0 264.1" stroke="#444" stroke-width="0.65" fill="none"/><path d="M125.4 185.5L121.4 187.2L126.3 188.6L130.3 186.9ZM130.3 186.9L126.3 188.6L131.1 190.1L135.1 188.4ZM135.1 188.4L131.1 190.1L136.0 191.5L140.0 189.8ZM140.0 189.8L136.0 191.5L140.9 192.9L144.9 191.2ZM144.9 191.2L140.9 192.9L145.7 194.4L149.7 192.7ZM149.7 192.7L145.7 194.4L150.6 195.8L154.6 194.1ZM154.6 194.1L150.6 195.8L155.5 197.2L159.5 195.5ZM159.5 195.5L155.5 197.2L160.3 198.7L164.3 197.0ZM164.3 197.0L160.3 198.7L165.2 200.1L169.2 198.4ZM169.2 198.4L165.2 200.1L170.1 201.5L174.1 199.8ZM174.1 199.8L170.1 201.5L174.9 203.0L178.9 201.3ZM178.9 201.3L174.9 203.0L179.8 204.4L183.8 202.7ZM183.8 202.7L179.8 204.4L184.7 205.8L188.7 204.1ZM188.7 204.1L184.7 205.8L189.5 207.3L193.6 205.5ZM193.6 205.5L189.5 207.3L194.4 208.7L198.4 207.0ZM198.4 207.0L194.4 208.7L199.3 210.1L203.3 208.4ZM121.4 187.2L117.4 188.9L122.3 190.4L126.3 188.6ZM126.3 188.6L122.3 190.4L127.1 191.8L131.1 190.1ZM131.1 190.1L127.1 191.8L132.0 193.2L136.0 191.5ZM136.0 191.5L132.0 193.2L136.9 194.7L140.9 192.9ZM140.9 192.9L136.9 194.7L141.7 196.1L145.7 194.4ZM145.7 194.4L141.7 196.1L146.6 197.5L150.6 195.8ZM150.6 195.8L146.6 197.5L151.5 198.9L155.5 197.2ZM155.5 197.2L151.5 198.9L156.3 200.4L160.3 198.7ZM160.3 198.7L156.3 200.4L161.2 201.8L165.2 200.1ZM165.2 200.1L161.2 201.8L166.1 203.2L170.1 201.5ZM170.1 201.5L166.1 203.2L170.9 204.7L174.9 203.0ZM174.9 203.0L170.9 204.7L175.8 206.1L179.8 204.4ZM117.4 188.9L113.4 190.6L118.3 192.1L122.3 190.4ZM122.3 190.4L118.3 192.1L123.1 193.5L127.1 191.8ZM127.1 191.8L123.1 193.5L128.0 194.9L132.0 193.2ZM132.0 193.2L128.0 194.9L132.9 196.4L136.9 194.7ZM136.9 194.7L132.9 196.4L137.7 197.8L141.7 196.1ZM141.7 196.1L137.7 197.8L142.6 199.2L146.6 197.5ZM146.6 197.5L142.6 199.2L147.5 200.7L151.5 198.9ZM151.5 198.9L147.5 200.7L152.3 202.1L156.3 200.4ZM156.3 200.4L152.3 202.1L157.2 203.5L161.2 201.8ZM161.2 201.8L157.2 203.5L162.1 205.0L166.1 203.2ZM113.4 190.6L109.4 192.3L114.3 193.8L118.3 192.1ZM118.3 192.1L114.3 193.8L119.1 195.2L123.1 193.5ZM123.1 193.5L119.1 195.2L124.0 196.6L128.0 194.9ZM128.0 194.9L124.0 196.6L128.9 198.1L132.9 196.4ZM132.9 196.4L128.9 198.1L133.7 199.5L137.7 197.8ZM137.7 197.8L133.7 199.5L138.6 200.9L142.6 199.2ZM142.6 199.2L138.6 200.9L143.5 202.4L147.5 200.7ZM147.5 200.7L143.5 202.4L148.3 203.8L152.3 202.1ZM109.4 192.3L105.4 194.1L110.2 195.5L114.3 193.8ZM114.3 193.8L110.2 195.5L115.1 196.9L119.1 195.2ZM119.1 195.2L115.1 196.9L120.0 198.4L124.0 196.6ZM124.0 196.6L120.0 198.4L124.9 199.8L128.9 198.1ZM128.9 198.1L124.9 199.8L129.7 201.2L133.7 199.5ZM133.7 199.5L129.7 201.2L134.6 202.7L138.6 200.9ZM138.6 200.9L134.6 202.7L139.5 204.1L143.5 202.4ZM110.2 195.5L106.2 197.2L111.1 198.6L115.1 196.9ZM115.1 196.9L111.1 198.6L116.0 200.1L120.0 198.4ZM120.0 198.4L116.0 200.1L120.8 201.5L124.9 199.8ZM124.9 199.8L120.8 201.5L125.7 202.9L129.7 201.2ZM129.7 201.2L125.7 202.9L130.6 204.4L134.6 202.7ZM134.6 202.7L130.6 204.4L135.5 205.8L139.5 204.1ZM106.2 197.2L102.2 198.9L107.1 200.3L111.1 198.6ZM111.1 198.6L107.1 200.3L112.0 201.8L116.0 200.1ZM116.0 200.1L112.0 201.8L116.8 203.2L120.8 201.5ZM120.8 201.5L116.8 203.2L121.7 204.6L125.7 202.9ZM125.7 202.9L121.7 204.6L126.6 206.1L130.6 204.4ZM102.2 198.9L98.2 200.6L103.1 202.1L107.1 200.3ZM107.1 200.3L103.1 202.1L108.0 203.5L112.0 201.8ZM112.0 201.8L108.0 203.5L112.8 204.9L116.8 203.2ZM116.8 203.2L112.8 204.9L117.7 206.4L121.7 204.6ZM98.2 200.6L94.2 202.3L99.1 203.8L103.1 202.1ZM103.1 202.1L99.1 203.8L104.0 205.2L108.0 203.5ZM108.0 203.5L104.0 205.2L108.8 206.6L112.8 204.9ZM112.8 204.9L108.8 206.6L113.7 208.1L117.7 206.4ZM89.4 200.9L85.4 202.6L90.2 204.1L94.2 202.3ZM94.2 202.3L90.2 204.1L95.1 205.5L99.1 203.8ZM99.1 203.8L95.1 205.5L100.0 206.9L104.0 205.2ZM104.0 205.2L100.0 206.9L104.8 208.3L108.8 206.6Z" fill="#000" stroke="#000" stroke-width="0.5"/><polygon points="25.3,228.3 125.4,185.5 247.1,221.3 147,264.1" fill="none" stroke="#111" stroke-width="0.9"/>
<polygon points="306.8,228.3 406.9,185.5 528.6,221.3 428.5,264.1" fill="#fff"/><path d="M406.9 185.5L306.8 228.3M411.8 186.9L311.7 229.7M416.6 188.4L316.5 231.2M421.5 189.8L321.4 232.6M426.4 191.2L326.3 234.0M431.2 192.7L331.1 235.5M436.1 194.1L336.0 236.9M441.0 195.5L340.9 238.3M445.8 197.0L345.7 239.8M450.7 198.4L350.6 241.2M455.6 199.8L355.5 242.6M460.4 201.3L360.3 244.1M465.3 202.7L365.2 245.5M470.2 204.1L370.1 246.9M475.1 205.5L375.0 248.3M479.9 207.0L379.8 249.8M484.8 208.4L384.7 251.2M489.7 209.8L389.6 252.6M494.5 211.3L394.4 254.1M499.4 212.7L399.3 255.5M504.3 214.1L404.2 256.9M509.1 215.6L409.0 258.4M514.0 217.0L413.9 259.8M518.9 218.4L418.8 261.2M523.7 219.9L423.6 262.7M528.6 221.3L428.5 264.1" stroke="#999" stroke-width="0.4" fill="none"/><path d="M406.9 185.5L528.6 221.3M402.9 187.2L524.6 223.0M398.9 188.9L520.6 224.7M394.9 190.6L516.6 226.4M390.9 192.3L512.6 228.1M386.9 194.1L508.6 229.9M382.9 195.8L504.6 231.6M378.9 197.5L500.6 233.3M374.9 199.2L496.6 235.0M370.9 200.9L492.6 236.7M366.9 202.6L488.6 238.4M362.9 204.3L484.6 240.1M358.9 206.0L480.6 241.8M354.8 207.8L476.5 243.6M350.8 209.5L472.5 245.3M346.8 211.2L468.5 247.0M342.8 212.9L464.5 248.7M338.8 214.6L460.5 250.4M334.8 216.3L456.5 252.1M330.8 218.0L452.5 253.8M326.8 219.7L448.5 255.5M322.8 221.5L444.5 257.3M318.8 223.2L440.5 259.0M314.8 224.9L436.5 260.7M310.8 226.6L432.5 262.4M306.8 228.3L428.5 264.1" stroke="#444" stroke-width="0.65" fill="none"/><path d="M426.4 191.2L422.4 192.9L427.2 194.4L431.2 192.7ZM431.2 192.7L427.2 194.4L432.1 195.8L436.1 194.1ZM436.1 194.1L432.1 195.8L437.0 197.2L441.0 195.5ZM441.0 195.5L437.0 197.2L441.8 198.7L445.8 197.0ZM445.8 197.0L441.8 198.7L446.7 200.1L450.7 198.4ZM450.7 198.4L446.7 200.1L451.6 201.5L455.6 199.8ZM455.6 199.8L451.6 201.5L456.4 203.0L460.4 201.3ZM460.4 201.3L456.4 203.0L461.3 204.4L465.3 202.7ZM465.3 202.7L461.3 204.4L466.2 205.8L470.2 204.1ZM470.2 204.1L466.2 205.8L471.0 207.3L475.1 205.5ZM475.1 205.5L471.0 207.3L475.9 208.7L479.9 207.0ZM479.9 207.0L475.9 208.7L480.8 210.1L484.8 208.4ZM484.8 208.4L480.8 210.1L485.7 211.6L489.7 209.8ZM489.7 209.8L485.7 211.6L490.5 213.0L494.5 211.3ZM437.0 197.2L433.0 198.9L437.8 200.4L441.8 198.7ZM441.8 198.7L437.8 200.4L442.7 201.8L446.7 200.1ZM446.7 200.1L442.7 201.8L447.6 203.2L451.6 201.5ZM451.6 201.5L447.6 203.2L452.4 204.7L456.4 203.0ZM433.0 198.9L429.0 200.7L433.8 202.1L437.8 200.4ZM437.8 200.4L433.8 202.1L438.7 203.5L442.7 201.8ZM442.7 201.8L438.7 203.5L443.6 205.0L447.6 203.2ZM447.6 203.2L443.6 205.0L448.4 206.4L452.4 204.7ZM429.0 200.7L425.0 202.4L429.8 203.8L433.8 202.1ZM433.8 202.1L429.8 203.8L434.7 205.2L438.7 203.5ZM438.7 203.5L434.7 205.2L439.6 206.7L443.6 205.0ZM395.8 193.8L391.7 195.5L396.6 196.9L400.6 195.2ZM400.6 195.2L396.6 196.9L401.5 198.4L405.5 196.6ZM405.5 196.6L401.5 198.4L406.4 199.8L410.4 198.1ZM410.4 198.1L406.4 199.8L411.2 201.2L415.2 199.5ZM391.7 195.5L387.7 197.2L392.6 198.6L396.6 196.9ZM396.6 196.9L392.6 198.6L397.5 200.1L401.5 198.4ZM401.5 198.4L397.5 200.1L402.3 201.5L406.4 199.8ZM406.4 199.8L402.3 201.5L407.2 202.9L411.2 201.2ZM411.2 201.2L407.2 202.9L412.1 204.4L416.1 202.7ZM387.7 197.2L383.7 198.9L388.6 200.3L392.6 198.6ZM392.6 198.6L388.6 200.3L393.5 201.8L397.5 200.1ZM397.5 200.1L393.5 201.8L398.3 203.2L402.3 201.5ZM402.3 201.5L398.3 203.2L403.2 204.6L407.2 202.9ZM407.2 202.9L403.2 204.6L408.1 206.1L412.1 204.4ZM383.7 198.9L379.7 200.6L384.6 202.1L388.6 200.3ZM388.6 200.3L384.6 202.1L389.5 203.5L393.5 201.8ZM393.5 201.8L389.5 203.5L394.3 204.9L398.3 203.2ZM398.3 203.2L394.3 204.9L399.2 206.4L403.2 204.6ZM403.2 204.6L399.2 206.4L404.1 207.8L408.1 206.1ZM379.7 200.6L375.7 202.3L380.6 203.8L384.6 202.1ZM384.6 202.1L380.6 203.8L385.5 205.2L389.5 203.5ZM389.5 203.5L385.5 205.2L390.3 206.6L394.3 204.9ZM394.3 204.9L390.3 206.6L395.2 208.1L399.2 206.4ZM399.2 206.4L395.2 208.1L400.1 209.5L404.1 207.8ZM375.7 202.3L371.7 204.1L376.6 205.5L380.6 203.8ZM380.6 203.8L376.6 205.5L381.5 206.9L385.5 205.2ZM385.5 205.2L381.5 206.9L386.3 208.3L390.3 206.6ZM390.3 206.6L386.3 208.3L391.2 209.8L395.2 208.1ZM395.2 208.1L391.2 209.8L396.1 211.2L400.1 209.5ZM371.7 204.1L367.7 205.8L372.6 207.2L376.6 205.5ZM376.6 205.5L372.6 207.2L377.5 208.6L381.5 206.9ZM381.5 206.9L377.5 208.6L382.3 210.1L386.3 208.3ZM386.3 208.3L382.3 210.1L387.2 211.5L391.2 209.8ZM367.7 205.8L363.7 207.5L368.6 208.9L372.6 207.2ZM372.6 207.2L368.6 208.9L373.5 210.3L377.5 208.6ZM377.5 208.6L373.5 210.3L378.3 211.8L382.3 210.1ZM382.3 210.1L378.3 211.8L383.2 213.2L387.2 211.5ZM363.7 207.5L359.7 209.2L364.6 210.6L368.6 208.9ZM368.6 208.9L364.6 210.6L369.5 212.1L373.5 210.3ZM373.5 210.3L369.5 212.1L374.3 213.5L378.3 211.8ZM378.3 211.8L374.3 213.5L379.2 214.9L383.2 213.2ZM359.7 209.2L355.7 210.9L360.6 212.3L364.6 210.6ZM364.6 210.6L360.6 212.3L365.4 213.8L369.5 212.1ZM369.5 212.1L365.4 213.8L370.3 215.2L374.3 213.5ZM360.6 212.3L356.6 214.0L361.4 215.5L365.4 213.8Z" fill="#000" stroke="#000" stroke-width="0.5"/><polygon points="306.8,228.3 406.9,185.5 528.6,221.3 428.5,264.1" fill="none" stroke="#111" stroke-width="0.9"/>
<polygon points="175.8,303.6 275.9,260.8 397.6,296.6 297.5,339.4" fill="#fff"/><path d="M275.9 260.8L175.8 303.6M280.8 262.2L180.7 305.0M285.6 263.7L185.5 306.5M290.5 265.1L190.4 307.9M295.4 266.5L195.3 309.3M300.2 268.0L200.1 310.8M305.1 269.4L205.0 312.2M310.0 270.8L209.9 313.6M314.8 272.3L214.7 315.1M319.7 273.7L219.6 316.5M324.6 275.1L224.5 317.9M329.4 276.6L229.3 319.4M334.3 278.0L234.2 320.8M339.2 279.4L239.1 322.2M344.1 280.8L244.0 323.6M348.9 282.3L248.8 325.1M353.8 283.7L253.7 326.5M358.7 285.1L258.6 327.9M363.5 286.6L263.4 329.4M368.4 288.0L268.3 330.8M373.3 289.4L273.2 332.2M378.1 290.9L278.0 333.7M383.0 292.3L282.9 335.1M387.9 293.7L287.8 336.5M392.7 295.2L292.6 338.0M397.6 296.6L297.5 339.4" stroke="#999" stroke-width="0.4" fill="none"/><path d="M275.9 260.8L397.6 296.6M271.9 262.5L393.6 298.3M267.9 264.2L389.6 300.0M263.9 265.9L385.6 301.7M259.9 267.6L381.6 303.4M255.9 269.4L377.6 305.2M251.9 271.1L373.6 306.9M247.9 272.8L369.6 308.6M243.9 274.5L365.6 310.3M239.9 276.2L361.6 312.0M235.9 277.9L357.6 313.7M231.9 279.6L353.6 315.4M227.9 281.3L349.6 317.1M223.8 283.1L345.5 318.9M219.8 284.8L341.5 320.6M215.8 286.5L337.5 322.3M211.8 288.2L333.5 324.0M207.8 289.9L329.5 325.7M203.8 291.6L325.5 327.4M199.8 293.3L321.5 329.1M195.8 295.0L317.5 330.8M191.8 296.8L313.5 332.6M187.8 298.5L309.5 334.3M183.8 300.2L305.5 336.0M179.8 301.9L301.5 337.7M175.8 303.6L297.5 339.4" stroke="#444" stroke-width="0.65" fill="none"/><path d="M275.9 260.8L271.9 262.5L276.8 263.9L280.8 262.2ZM280.8 262.2L276.8 263.9L281.6 265.4L285.6 263.7ZM285.6 263.7L281.6 265.4L286.5 266.8L290.5 265.1ZM290.5 265.1L286.5 266.8L291.4 268.2L295.4 266.5ZM295.4 266.5L291.4 268.2L296.2 269.7L300.2 268.0ZM300.2 268.0L296.2 269.7L301.1 271.1L305.1 269.4ZM305.1 269.4L301.1 271.1L306.0 272.5L310.0 270.8ZM310.0 270.8L306.0 272.5L310.8 274.0L314.8 272.3ZM314.8 272.3L310.8 274.0L315.7 275.4L319.7 273.7ZM319.7 273.7L315.7 275.4L320.6 276.8L324.6 275.1ZM324.6 275.1L320.6 276.8L325.4 278.3L329.4 276.6ZM329.4 276.6L325.4 278.3L330.3 279.7L334.3 278.0ZM334.3 278.0L330.3 279.7L335.2 281.1L339.2 279.4ZM339.2 279.4L335.2 281.1L340.0 282.6L344.1 280.8ZM344.1 280.8L340.0 282.6L344.9 284.0L348.9 282.3ZM348.9 282.3L344.9 284.0L349.8 285.4L353.8 283.7ZM353.8 283.7L349.8 285.4L354.7 286.9L358.7 285.1ZM358.7 285.1L354.7 286.9L359.5 288.3L363.5 286.6ZM271.9 262.5L267.9 264.2L272.8 265.7L276.8 263.9ZM276.8 263.9L272.8 265.7L277.6 267.1L281.6 265.4ZM281.6 265.4L277.6 267.1L282.5 268.5L286.5 266.8ZM286.5 266.8L282.5 268.5L287.4 270.0L291.4 268.2ZM291.4 268.2L287.4 270.0L292.2 271.4L296.2 269.7ZM296.2 269.7L292.2 271.4L297.1 272.8L301.1 271.1ZM301.1 271.1L297.1 272.8L302.0 274.2L306.0 272.5ZM306.0 272.5L302.0 274.2L306.8 275.7L310.8 274.0ZM310.8 274.0L306.8 275.7L311.7 277.1L315.7 275.4ZM315.7 275.4L311.7 277.1L316.6 278.5L320.6 276.8ZM320.6 276.8L316.6 278.5L321.4 280.0L325.4 278.3ZM325.4 278.3L321.4 280.0L326.3 281.4L330.3 279.7ZM267.9 264.2L263.9 265.9L268.8 267.4L272.8 265.7ZM272.8 265.7L268.8 267.4L273.6 268.8L277.6 267.1ZM277.6 267.1L273.6 268.8L278.5 270.2L282.5 268.5ZM282.5 268.5L278.5 270.2L283.4 271.7L287.4 270.0ZM287.4 270.0L283.4 271.7L288.2 273.1L292.2 271.4ZM292.2 271.4L288.2 273.1L293.1 274.5L297.1 272.8ZM297.1 272.8L293.1 274.5L298.0 276.0L302.0 274.2ZM302.0 274.2L298.0 276.0L302.8 277.4L306.8 275.7ZM306.8 275.7L302.8 277.4L307.7 278.8L311.7 277.1ZM311.7 277.1L307.7 278.8L312.6 280.3L316.6 278.5ZM316.6 278.5L312.6 280.3L317.4 281.7L321.4 280.0ZM263.9 265.9L259.9 267.6L264.8 269.1L268.8 267.4ZM268.8 267.4L264.8 269.1L269.6 270.5L273.6 268.8ZM273.6 268.8L269.6 270.5L274.5 271.9L278.5 270.2ZM278.5 270.2L274.5 271.9L279.4 273.4L283.4 271.7ZM283.4 271.7L279.4 273.4L284.2 274.8L288.2 273.1ZM288.2 273.1L284.2 274.8L289.1 276.2L293.1 274.5ZM293.1 274.5L289.1 276.2L294.0 277.7L298.0 276.0ZM298.0 276.0L294.0 277.7L298.8 279.1L302.8 277.4ZM302.8 277.4L298.8 279.1L303.7 280.5L307.7 278.8ZM307.7 278.8L303.7 280.5L308.6 282.0L312.6 280.3ZM259.9 267.6L255.9 269.4L260.7 270.8L264.8 269.1ZM264.8 269.1L260.7 270.8L265.6 272.2L269.6 270.5ZM269.6 270.5L265.6 272.2L270.5 273.7L274.5 271.9ZM274.5 271.9L270.5 273.7L275.4 275.1L279.4 273.4ZM279.4 273.4L275.4 275.1L280.2 276.5L284.2 274.8ZM284.2 274.8L280.2 276.5L285.1 278.0L289.1 276.2ZM289.1 276.2L285.1 278.0L290.0 279.4L294.0 277.7ZM260.7 270.8L256.7 272.5L261.6 273.9L265.6 272.2ZM265.6 272.2L261.6 273.9L266.5 275.4L270.5 273.7ZM270.5 273.7L266.5 275.4L271.3 276.8L275.4 275.1ZM275.4 275.1L271.3 276.8L276.2 278.2L280.2 276.5ZM280.2 276.5L276.2 278.2L281.1 279.7L285.1 278.0ZM285.1 278.0L281.1 279.7L286.0 281.1L290.0 279.4ZM256.7 272.5L252.7 274.2L257.6 275.6L261.6 273.9ZM261.6 273.9L257.6 275.6L262.5 277.1L266.5 275.4ZM266.5 275.4L262.5 277.1L267.3 278.5L271.3 276.8ZM271.3 276.8L267.3 278.5L272.2 279.9L276.2 278.2ZM276.2 278.2L272.2 279.9L277.1 281.4L281.1 279.7ZM252.7 274.2L248.7 275.9L253.6 277.4L257.6 275.6ZM257.6 275.6L253.6 277.4L258.5 278.8L262.5 277.1ZM262.5 277.1L258.5 278.8L263.3 280.2L267.3 278.5ZM267.3 278.5L263.3 280.2L268.2 281.7L272.2 279.9ZM272.2 279.9L268.2 281.7L273.1 283.1L277.1 281.4ZM248.7 275.9L244.7 277.6L249.6 279.1L253.6 277.4ZM253.6 277.4L249.6 279.1L254.5 280.5L258.5 278.8ZM258.5 278.8L254.5 280.5L259.3 281.9L263.3 280.2ZM263.3 280.2L259.3 281.9L264.2 283.4L268.2 281.7ZM268.2 281.7L264.2 283.4L269.1 284.8L273.1 283.1ZM244.7 277.6L240.7 279.4L245.6 280.8L249.6 279.1ZM249.6 279.1L245.6 280.8L250.5 282.2L254.5 280.5ZM254.5 280.5L250.5 282.2L255.3 283.6L259.3 281.9ZM259.3 281.9L255.3 283.6L260.2 285.1L264.2 283.4ZM264.2 283.4L260.2 285.1L265.1 286.5L269.1 284.8ZM240.7 279.4L236.7 281.1L241.6 282.5L245.6 280.8ZM245.6 280.8L241.6 282.5L246.5 283.9L250.5 282.2ZM250.5 282.2L246.5 283.9L251.3 285.4L255.3 283.6ZM255.3 283.6L251.3 285.4L256.2 286.8L260.2 285.1ZM236.7 281.1L232.7 282.8L237.6 284.2L241.6 282.5ZM241.6 282.5L237.6 284.2L242.5 285.6L246.5 283.9ZM246.5 283.9L242.5 285.6L247.3 287.1L251.3 285.4ZM251.3 285.4L247.3 287.1L252.2 288.5L256.2 286.8ZM232.7 282.8L228.7 284.5L233.6 285.9L237.6 284.2ZM237.6 284.2L233.6 285.9L238.5 287.4L242.5 285.6ZM242.5 285.6L238.5 287.4L243.3 288.8L247.3 287.1ZM247.3 287.1L243.3 288.8L248.2 290.2L252.2 288.5ZM228.7 284.5L224.7 286.2L229.6 287.6L233.6 285.9ZM233.6 285.9L229.6 287.6L234.4 289.1L238.5 287.4ZM238.5 287.4L234.4 289.1L239.3 290.5L243.3 288.8ZM229.6 287.6L225.6 289.3L230.4 290.8L234.4 289.1Z" fill="#000" stroke="#000" stroke-width="0.5"/><polygon points="175.8,303.6 275.9,260.8 397.6,296.6 297.5,339.4" fill="none" stroke="#111" stroke-width="0.9"/>
<line x1="25.3" y1="152.0" x2="25.3" y2="228.3" stroke="#333" stroke-width="0.8" stroke-dasharray="1,1"/>
<line x1="125.3" y1="175.5" x2="125.3" y2="185.5" stroke="#333" stroke-width="0.8" stroke-dasharray="1,1"/>
<line x1="247.3" y1="144.6" x2="247.3" y2="221.3" stroke="#333" stroke-width="0.8" stroke-dasharray="1,1"/>
<line x1="306.9" y1="150.3" x2="306.9" y2="228.3" stroke="#333" stroke-width="0.8" stroke-dasharray="1,1"/>
<line x1="407.0" y1="180.5" x2="407.0" y2="185.5" stroke="#333" stroke-width="0.8" stroke-dasharray="1,1"/>
<line x1="528.6" y1="142.0" x2="528.6" y2="221.3" stroke="#333" stroke-width="0.8" stroke-dasharray="1,1"/>
<path d="M73.7 185.3L88.9 199.6" stroke="#aaa" stroke-width="0.6" fill="none"/><path d="M66.8 200.9L83.7 203.9" stroke="#ccc" stroke-width="0.6" fill="none"/><rect x="62.0" y="185.3" width="11.7" height="15.6" fill="#000"/><text x="67.8" y="196.6" font-family="'Liberation Serif', 'Times New Roman', serif" font-size="10" fill="#fff" text-anchor="middle">1</text>
<path d="M47.8 198.3L52.3 214.9" stroke="#bbb" stroke-width="0.6" fill="none"/><path d="M36.3 214.2L44.5 218.4" stroke="#ccc" stroke-width="0.6" fill="none"/><rect x="36.3" y="198.3" width="11.5" height="15.9" fill="#fff" stroke="#bbb" stroke-width="0.7"/><text x="42.0" y="209.8" font-family="'Liberation Serif', 'Times New Roman', serif" font-size="10" fill="#111" text-anchor="middle">0</text>
<path d="M337.1 194.0L356.3 204.5" stroke="#aaa" stroke-width="0.6" fill="none"/><path d="M330.4 209.3L343.3 208.9" stroke="#ccc" stroke-width="0.6" fill="none"/><rect x="325.7" y="194.0" width="11.4" height="15.3" fill="#000"/><text x="331.4" y="205.2" font-family="'Liberation Serif', 'Times New Roman', serif" font-size="10" fill="#fff" text-anchor="middle">1</text>
<path d="M320.6 206.4L323.5 220.4" stroke="#bbb" stroke-width="0.6" fill="none"/><path d="M308.6 221.9L315.8 222.9" stroke="#ccc" stroke-width="0.6" fill="none"/><rect x="308.6" y="206.4" width="12.0" height="15.5" fill="#fff" stroke="#bbb" stroke-width="0.7"/><text x="314.6" y="217.7" font-family="'Liberation Serif', 'Times New Roman', serif" font-size="10" fill="#111" text-anchor="middle">0</text>
<path d="M268.2 205.6Q268.2 204.6 269.2 204.6L275.3 204.6L275.3 199.7Q275.3 198.7 276.3 198.7L280.3 198.7Q281.3 198.7 281.3 199.7L281.3 204.6L286.8 204.6Q287.8 204.6 287.8 205.6L287.8 209.9Q287.8 210.9 286.8 210.9L281.3 210.9L281.3 216.3Q281.3 217.3 280.3 217.3L276.3 217.3Q275.3 217.3 275.3 216.3L275.3 210.9L269.2 210.9Q268.2 210.9 268.2 209.9Z" fill="#555"/>
<rect x="268.8" y="228.4" width="6.5" height="17.6" rx="0.8" fill="#555"/>
<rect x="281.3" y="228.4" width="6.7" height="17.6" rx="0.8" fill="#555"/>
<path d="M277.5 260Q279 257 282.5 257.5L341 270.5Q345 271.5 346.2 268.2Q347 272.5 350 274.8L359.5 280.5Q362.5 282.5 362.9 284.5" stroke="#aaa" stroke-width="0.7" fill="none"/>
<text x="39.0" y="178.9" font-family="'Liberation Serif', 'Times New Roman', serif" font-size="11.2" fill="#222" stroke="#222" stroke-width="0.25" text-anchor="start">Hazard 1</text>
<text x="184.5" y="178.9" font-family="'Liberation Serif', 'Times New Roman', serif" font-size="11.2" fill="#222" stroke="#222" stroke-width="0.25" text-anchor="start">Hazard 2</text>
<text x="330.4" y="178.9" font-family="'Liberation Serif', 'Times New Roman', serif" font-size="11.2" fill="#222" stroke="#222" stroke-width="0.25" text-anchor="start">Hazard 1</text>
<text x="478.2" y="178.9" font-family="'Liberation Serif', 'Times New Roman', serif" font-size="11.2" fill="#222" stroke="#222" stroke-width="0.25" text-anchor="start">Hazard 2</text>
<text x="224.5" y="87.8" font-family="'Liberation Serif', 'Times New Roman', serif" font-size="11.5" fill="#f0141e" stroke="#f0141e" stroke-width="0.25" text-anchor="middle">Hazard</text>
<text x="224.7" y="102.0" font-family="'Liberation Serif', 'Times New Roman', serif" font-size="11.5" fill="#f0141e" stroke="#f0141e" stroke-width="0.25" text-anchor="middle">Threshold</text>
<text x="224.4" y="115.5" font-family="'Liberation Serif', 'Times New Roman', serif" font-size="11.5" fill="#f0141e" stroke="#f0141e" stroke-width="0.25" text-anchor="middle">(e.g., 10<tspan dy="-4.5" font-size="7.5">−3</tspan><tspan dy="4.5">)</tspan></text>
<line x1="225.4" y1="118.6" x2="217.3" y2="134.4" stroke="#c8102e" stroke-width="1.8"/>
<text x="516.6" y="70.3" font-family="'Liberation Serif', 'Times New Roman', serif" font-size="11.5" fill="#f0141e" stroke="#f0141e" stroke-width="0.25" text-anchor="middle">Risk</text>
<text x="517.5" y="84.6" font-family="'Liberation Serif', 'Times New Roman', serif" font-size="11.5" fill="#f0141e" stroke="#f0141e" stroke-width="0.25" text-anchor="middle">Threshold</text>
<text x="516.6" y="98.5" font-family="'Liberation Serif', 'Times New Roman', serif" font-size="11.5" fill="#f0141e" stroke="#f0141e" stroke-width="0.25" text-anchor="middle">(e.g., 10%)</text>
<line x1="515.8" y1="103.6" x2="507" y2="117.4" stroke="#c8102e" stroke-width="1.8"/>
<text x="20.8" y="34.3" font-family="'Liberation Serif', 'Times New Roman', serif" font-size="11.5" fill="#111" stroke="#111" stroke-width="0.25" text-anchor="start"><tspan font-style="italic">H</tspan><tspan font-style="italic" font-size="7.5" dy="2.8">c</tspan></text>
<text x="302.3" y="34.5" font-family="'Liberation Serif', 'Times New Roman', serif" font-size="11.5" fill="#111" stroke="#111" stroke-width="0.25" text-anchor="start"><tspan font-style="italic">R</tspan><tspan font-style="italic" font-size="7.5" dy="2.8">c</tspan></text>
<text x="60.0" y="280.4" font-family="'Liberation Serif', 'Times New Roman', serif" font-size="11.8" fill="#222" stroke="#222" stroke-width="0.25" text-anchor="start">Final Resampling rank matrix</text>
<rect x="60" y="287.3" width="11.5" height="12.3" fill="#000"/>
<text x="75.5" y="296.4" font-family="'Liberation Serif', 'Times New Roman', serif" font-size="10.6" fill="#222" stroke="#222" stroke-width="0.25" text-anchor="start">Resampling area</text>
<rect x="60.4" y="303.1" width="10.8" height="12" fill="#fff" stroke="#ccc" stroke-width="0.8"/>
<text x="75.5" y="312.7" font-family="'Liberation Serif', 'Times New Roman', serif" font-size="10.6" fill="#222" stroke="#222" stroke-width="0.25" text-anchor="start">Skipping area</text>
<text x="311.5" y="261.8" font-family="'Liberation Serif', 'Times New Roman', serif" font-size="10.6" fill="#222" stroke="#222" stroke-width="0.25" text-anchor="start">Resampling area</text>
</svg>
</body></html>
